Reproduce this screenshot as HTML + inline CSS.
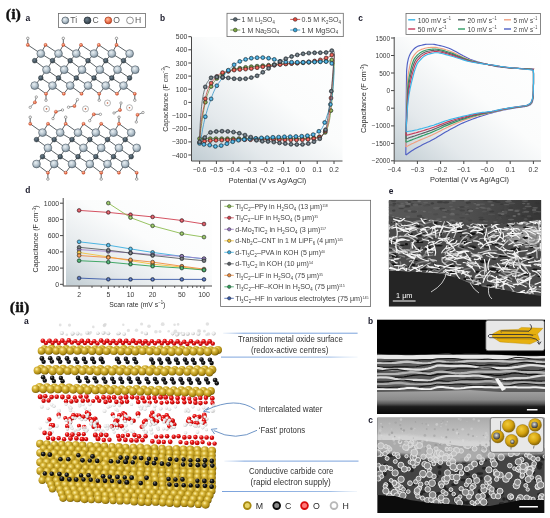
<!DOCTYPE html>
<html><head><meta charset="utf-8"><title>MXene figure</title>
<style>html,body{margin:0;padding:0;background:#fff;}svg{display:block;}</style></head>
<body><svg width="550" height="518" viewBox="0 0 550 518" font-family="'Liberation Sans',Arial,sans-serif">
<rect width="550" height="518" fill="#fff"/>

<defs>
<linearGradient id="pg" x1="1" y1="0" x2="0" y2="1">
 <stop offset="0" stop-color="#ffffff"/>
 <stop offset="0.45" stop-color="#fbfcfc"/>
 <stop offset="0.75" stop-color="#e4e9ec"/>
 <stop offset="1" stop-color="#c0ccd2"/>
</linearGradient>
<radialGradient id="gTi" cx="0.4" cy="0.35" r="0.65">
 <stop offset="0" stop-color="#eaf0f3"/><stop offset="0.55" stop-color="#b8c6d0"/><stop offset="1" stop-color="#7f909c"/>
</radialGradient>
<radialGradient id="gC" cx="0.4" cy="0.35" r="0.65">
 <stop offset="0" stop-color="#6f8290"/><stop offset="1" stop-color="#2e3b44"/>
</radialGradient>
<radialGradient id="gO" cx="0.4" cy="0.35" r="0.65">
 <stop offset="0" stop-color="#ffc0a0"/><stop offset="0.6" stop-color="#ee7752"/><stop offset="1" stop-color="#c94a2a"/>
</radialGradient>
<radialGradient id="gM" cx="0.38" cy="0.32" r="0.7">
 <stop offset="0" stop-color="#fff2a8"/><stop offset="0.35" stop-color="#d8b63a"/><stop offset="0.8" stop-color="#a8860f"/><stop offset="1" stop-color="#6e5608"/>
</radialGradient>
<radialGradient id="gK" cx="0.38" cy="0.32" r="0.7">
 <stop offset="0" stop-color="#8a8a8a"/><stop offset="0.4" stop-color="#1a1a1a"/><stop offset="1" stop-color="#000"/>
</radialGradient>
<radialGradient id="gR" cx="0.38" cy="0.32" r="0.7">
 <stop offset="0" stop-color="#ffb0b0"/><stop offset="0.35" stop-color="#f01818"/><stop offset="1" stop-color="#a00000"/>
</radialGradient>
<radialGradient id="gH" cx="0.38" cy="0.32" r="0.7">
 <stop offset="0" stop-color="#ffffff"/><stop offset="0.6" stop-color="#e2e2e2"/><stop offset="1" stop-color="#a8a8a8"/>
</radialGradient>
<linearGradient id="blueline" x1="0" y1="0" x2="1" y2="0">
 <stop offset="0" stop-color="#9fbde6" stop-opacity="0.2"/><stop offset="0.15" stop-color="#7aa2dc"/><stop offset="1" stop-color="#7aa2dc"/>
</linearGradient>
<linearGradient id="blueline2" x1="0" y1="0" x2="1" y2="0">
 <stop offset="0" stop-color="#7aa2dc"/><stop offset="0.8" stop-color="#9fbde6"/><stop offset="1" stop-color="#cfe0f4" stop-opacity="0.3"/>
</linearGradient>
</defs>
<defs>
<clipPath id="clipE"><rect x="388.7" y="200.1" width="152.6" height="106.6"/></clipPath>
<clipPath id="clipB"><rect x="377" y="319.4" width="168" height="94.6"/></clipPath>
<clipPath id="clipC"><rect x="377.2" y="417.5" width="167.4" height="95.5"/></clipPath>
<filter id="bl0" x="-0.05" y="-0.05" width="1.1" height="1.1"><feGaussianBlur stdDeviation="0.3"/></filter>
<filter id="bl1" x="-0.1" y="-0.1" width="1.2" height="1.2"><feGaussianBlur stdDeviation="0.5"/></filter>
<filter id="bl2" x="-0.2" y="-0.2" width="1.4" height="1.4"><feGaussianBlur stdDeviation="1.2"/></filter>
<filter id="bl3" x="-0.2" y="-0.2" width="1.4" height="1.4"><feGaussianBlur stdDeviation="2.5"/></filter>
<linearGradient id="eTop" x1="0" y1="0" x2="1" y2="0">
 <stop offset="0" stop-color="#585858"/><stop offset="0.5" stop-color="#505050"/><stop offset="1" stop-color="#353535"/>
</linearGradient>
<linearGradient id="bGrey" x1="0" y1="0" x2="0" y2="1">
 <stop offset="0" stop-color="#a8a8a8"/><stop offset="0.45" stop-color="#8a8a8a"/><stop offset="0.6" stop-color="#5a5a5a"/><stop offset="0.72" stop-color="#1c1c1c"/><stop offset="1" stop-color="#080808"/>
</linearGradient>
<linearGradient id="cTop" x1="0" y1="0" x2="0" y2="1">
 <stop offset="0" stop-color="#aaaaaa"/><stop offset="0.5" stop-color="#c0c0c0"/><stop offset="1" stop-color="#d4d4d4"/>
</linearGradient>
<radialGradient id="gAu" cx="0.4" cy="0.35" r="0.65">
 <stop offset="0" stop-color="#f2cc3c"/><stop offset="0.6" stop-color="#d4a20e"/><stop offset="1" stop-color="#8a6606"/>
</radialGradient>
<radialGradient id="gHole" cx="0.45" cy="0.4" r="0.6">
 <stop offset="0" stop-color="#e0e0e0"/><stop offset="0.5" stop-color="#8a8a8a"/><stop offset="1" stop-color="#303030"/>
</radialGradient>
</defs>
<text x="5.8" y="18.9" font-size="14.2" text-anchor="start" fill="#111" font-weight="bold" font-family="'Liberation Serif','Times New Roman',serif" textLength="15.2" lengthAdjust="spacingAndGlyphs" stroke="#111" stroke-width="0.35">(i)</text>
<text x="25.4" y="20.6" font-size="8.5" text-anchor="start" fill="#1a1a2a" font-weight="bold">a</text>
<rect x="58.5" y="13.5" width="87" height="14" fill="#fff" stroke="#6a6a6a" stroke-width="0.8"/>
<circle cx="65.3" cy="20.4" r="3.4" fill="url(#gTi)" stroke="#4a5660" stroke-width="0.7"/>
<text x="70.3" y="23.4" font-size="8.6" text-anchor="start" fill="#5a5a5a">Ti</text>
<circle cx="87.5" cy="20.4" r="3.4" fill="url(#gC)" stroke="#1e272e" stroke-width="0.7"/>
<text x="92.5" y="23.4" font-size="8.6" text-anchor="start" fill="#5a5a5a">C</text>
<circle cx="108.3" cy="20.4" r="3.4" fill="url(#gO)" stroke="#a83818" stroke-width="0.7"/>
<text x="113.3" y="23.4" font-size="8.6" text-anchor="start" fill="#5a5a5a">O</text>
<circle cx="130" cy="20.4" r="3.4" fill="#fff" stroke="#666" stroke-width="0.7"/>
<text x="135" y="23.4" font-size="8.6" text-anchor="start" fill="#5a5a5a">H</text>
<path d="M27.8 44.9L40.8 53.6M45.5 44.9L40.8 53.6M45.5 44.9L58.5 53.6M63.3 44.9L58.5 53.6M63.3 44.9L76.3 53.6M81 44.9L76.3 53.6M81 44.9L94 53.6M98.8 44.9L94 53.6M98.8 44.9L111.8 53.6M116.5 44.9L111.8 53.6M116.5 44.9L129.6 53.6M40.8 53.6L34.7 60.7M40.8 53.6L52.5 60.7M58.5 53.6L52.5 60.7M58.5 53.6L70.2 60.7M76.3 53.6L70.2 60.7M76.3 53.6L88 60.7M94 53.6L88 60.7M94 53.6L105.7 60.7M111.8 53.6L105.7 60.7M111.8 53.6L123.5 60.7M129.6 53.6L123.5 60.7M34.7 60.7L46.5 69.7M52.5 60.7L46.5 69.7M52.5 60.7L64.2 69.7M70.2 60.7L64.2 69.7M70.2 60.7L82 69.7M88 60.7L82 69.7M88 60.7L99.8 69.7M105.7 60.7L99.8 69.7M105.7 60.7L117.5 69.7M123.5 60.7L117.5 69.7M123.5 60.7L135.2 69.7M46.5 69.7L40.8 78M46.5 69.7L58.5 78M64.2 69.7L58.5 78M64.2 69.7L76.3 78M82 69.7L76.3 78M82 69.7L94 78M99.8 69.7L94 78M99.8 69.7L111.8 78M117.5 69.7L111.8 78M117.5 69.7L129.6 78M135.2 69.7L129.6 78M40.8 78L34.7 85.6M40.8 78L52.5 85.6M58.5 78L52.5 85.6M58.5 78L70.2 85.6M76.3 78L70.2 85.6M76.3 78L88 85.6M94 78L88 85.6M94 78L105.7 85.6M111.8 78L105.7 85.6M111.8 78L123.5 85.6M129.6 78L123.5 85.6M34.7 85.6L46 93.8M52.5 85.6L46 93.8M52.5 85.6L63.8 93.8M70.2 85.6L63.8 93.8M70.2 85.6L81.5 93.8M88 85.6L81.5 93.8M88 85.6L99.2 93.8M105.7 85.6L99.2 93.8M105.7 85.6L117 93.8M123.5 85.6L117 93.8M123.5 85.6L134.8 93.8M27.8 44.9L27.8 38.3M63.3 44.9L63.3 38.3M116.5 44.9L116.5 38.3M46 93.8L46 100.2M99.2 93.8L99.2 100.2M134.8 93.8L134.8 100.2" stroke="#40474c" stroke-width="0.85" fill="none"/>
<circle cx="27.8" cy="38.3" r="1.25" fill="#fff" stroke="#555" stroke-width="0.55"/>
<circle cx="63.3" cy="38.3" r="1.25" fill="#fff" stroke="#555" stroke-width="0.55"/>
<circle cx="116.5" cy="38.3" r="1.25" fill="#fff" stroke="#555" stroke-width="0.55"/>
<circle cx="46" cy="100.2" r="1.25" fill="#fff" stroke="#555" stroke-width="0.55"/>
<circle cx="99.2" cy="100.2" r="1.25" fill="#fff" stroke="#555" stroke-width="0.55"/>
<circle cx="134.8" cy="100.2" r="1.25" fill="#fff" stroke="#555" stroke-width="0.55"/>
<circle cx="27.8" cy="44.9" r="1.55" fill="url(#gO)" stroke="#b2452a" stroke-width="0.4"/>
<circle cx="45.5" cy="44.9" r="1.55" fill="url(#gO)" stroke="#b2452a" stroke-width="0.4"/>
<circle cx="63.3" cy="44.9" r="1.55" fill="url(#gO)" stroke="#b2452a" stroke-width="0.4"/>
<circle cx="81" cy="44.9" r="1.55" fill="url(#gO)" stroke="#b2452a" stroke-width="0.4"/>
<circle cx="98.8" cy="44.9" r="1.55" fill="url(#gO)" stroke="#b2452a" stroke-width="0.4"/>
<circle cx="116.5" cy="44.9" r="1.55" fill="url(#gO)" stroke="#b2452a" stroke-width="0.4"/>
<circle cx="40.8" cy="53.6" r="3.9" fill="url(#gTi)" stroke="#4a5660" stroke-width="0.6"/>
<circle cx="58.5" cy="53.6" r="3.9" fill="url(#gTi)" stroke="#4a5660" stroke-width="0.6"/>
<circle cx="76.3" cy="53.6" r="3.9" fill="url(#gTi)" stroke="#4a5660" stroke-width="0.6"/>
<circle cx="94" cy="53.6" r="3.9" fill="url(#gTi)" stroke="#4a5660" stroke-width="0.6"/>
<circle cx="111.8" cy="53.6" r="3.9" fill="url(#gTi)" stroke="#4a5660" stroke-width="0.6"/>
<circle cx="129.6" cy="53.6" r="3.9" fill="url(#gTi)" stroke="#4a5660" stroke-width="0.6"/>
<circle cx="34.7" cy="60.7" r="2.4" fill="url(#gC)" stroke="#1f282e" stroke-width="0.4"/>
<circle cx="52.5" cy="60.7" r="2.4" fill="url(#gC)" stroke="#1f282e" stroke-width="0.4"/>
<circle cx="70.2" cy="60.7" r="2.4" fill="url(#gC)" stroke="#1f282e" stroke-width="0.4"/>
<circle cx="88" cy="60.7" r="2.4" fill="url(#gC)" stroke="#1f282e" stroke-width="0.4"/>
<circle cx="105.7" cy="60.7" r="2.4" fill="url(#gC)" stroke="#1f282e" stroke-width="0.4"/>
<circle cx="123.5" cy="60.7" r="2.4" fill="url(#gC)" stroke="#1f282e" stroke-width="0.4"/>
<circle cx="46.5" cy="69.7" r="3.9" fill="url(#gTi)" stroke="#4a5660" stroke-width="0.6"/>
<circle cx="64.2" cy="69.7" r="3.9" fill="url(#gTi)" stroke="#4a5660" stroke-width="0.6"/>
<circle cx="82" cy="69.7" r="3.9" fill="url(#gTi)" stroke="#4a5660" stroke-width="0.6"/>
<circle cx="99.8" cy="69.7" r="3.9" fill="url(#gTi)" stroke="#4a5660" stroke-width="0.6"/>
<circle cx="117.5" cy="69.7" r="3.9" fill="url(#gTi)" stroke="#4a5660" stroke-width="0.6"/>
<circle cx="135.2" cy="69.7" r="3.9" fill="url(#gTi)" stroke="#4a5660" stroke-width="0.6"/>
<circle cx="40.8" cy="78" r="2.4" fill="url(#gC)" stroke="#1f282e" stroke-width="0.4"/>
<circle cx="58.5" cy="78" r="2.4" fill="url(#gC)" stroke="#1f282e" stroke-width="0.4"/>
<circle cx="76.3" cy="78" r="2.4" fill="url(#gC)" stroke="#1f282e" stroke-width="0.4"/>
<circle cx="94" cy="78" r="2.4" fill="url(#gC)" stroke="#1f282e" stroke-width="0.4"/>
<circle cx="111.8" cy="78" r="2.4" fill="url(#gC)" stroke="#1f282e" stroke-width="0.4"/>
<circle cx="129.6" cy="78" r="2.4" fill="url(#gC)" stroke="#1f282e" stroke-width="0.4"/>
<circle cx="34.7" cy="85.6" r="3.9" fill="url(#gTi)" stroke="#4a5660" stroke-width="0.6"/>
<circle cx="52.5" cy="85.6" r="3.9" fill="url(#gTi)" stroke="#4a5660" stroke-width="0.6"/>
<circle cx="70.2" cy="85.6" r="3.9" fill="url(#gTi)" stroke="#4a5660" stroke-width="0.6"/>
<circle cx="88" cy="85.6" r="3.9" fill="url(#gTi)" stroke="#4a5660" stroke-width="0.6"/>
<circle cx="105.7" cy="85.6" r="3.9" fill="url(#gTi)" stroke="#4a5660" stroke-width="0.6"/>
<circle cx="123.5" cy="85.6" r="3.9" fill="url(#gTi)" stroke="#4a5660" stroke-width="0.6"/>
<circle cx="46" cy="93.8" r="1.55" fill="url(#gO)" stroke="#b2452a" stroke-width="0.4"/>
<circle cx="63.8" cy="93.8" r="1.55" fill="url(#gO)" stroke="#b2452a" stroke-width="0.4"/>
<circle cx="81.5" cy="93.8" r="1.55" fill="url(#gO)" stroke="#b2452a" stroke-width="0.4"/>
<circle cx="99.2" cy="93.8" r="1.55" fill="url(#gO)" stroke="#b2452a" stroke-width="0.4"/>
<circle cx="117" cy="93.8" r="1.55" fill="url(#gO)" stroke="#b2452a" stroke-width="0.4"/>
<circle cx="134.8" cy="93.8" r="1.55" fill="url(#gO)" stroke="#b2452a" stroke-width="0.4"/>
<path d="M30.2 123.8L42.5 132.6M48 123.8L42.5 132.6M48 123.8L60.2 132.6M65.7 123.8L60.2 132.6M65.7 123.8L78 132.6M83.5 123.8L78 132.6M83.5 123.8L95.8 132.6M101.2 123.8L95.8 132.6M101.2 123.8L113.5 132.6M119 123.8L113.5 132.6M119 123.8L131.2 132.6M42.5 132.6L36.5 139.6M42.5 132.6L54.2 139.6M60.2 132.6L54.2 139.6M60.2 132.6L72 139.6M78 132.6L72 139.6M78 132.6L89.8 139.6M95.8 132.6L89.8 139.6M95.8 132.6L107.5 139.6M113.5 132.6L107.5 139.6M113.5 132.6L125.2 139.6M131.2 132.6L125.2 139.6M36.5 139.6L47.9 147.9M54.2 139.6L47.9 147.9M54.2 139.6L65.7 147.9M72 139.6L65.7 147.9M72 139.6L83.4 147.9M89.8 139.6L83.4 147.9M89.8 139.6L101.2 147.9M107.5 139.6L101.2 147.9M107.5 139.6L118.9 147.9M125.2 139.6L118.9 147.9M125.2 139.6L136.7 147.9M47.9 147.9L42.5 156.7M47.9 147.9L60.2 156.7M65.7 147.9L60.2 156.7M65.7 147.9L78 156.7M83.4 147.9L78 156.7M83.4 147.9L95.8 156.7M101.2 147.9L95.8 156.7M101.2 147.9L113.5 156.7M118.9 147.9L113.5 156.7M118.9 147.9L131.2 156.7M136.7 147.9L131.2 156.7M42.5 156.7L36.5 164M42.5 156.7L54.2 164M60.2 156.7L54.2 164M60.2 156.7L72 164M78 156.7L72 164M78 156.7L89.8 164M95.8 156.7L89.8 164M95.8 156.7L107.5 164M113.5 156.7L107.5 164M113.5 156.7L125.2 164M131.2 156.7L125.2 164M36.5 164L47.9 172.7M54.2 164L47.9 172.7M54.2 164L65.7 172.7M72 164L65.7 172.7M72 164L83.4 172.7M89.8 164L83.4 172.7M89.8 164L101.2 172.7M107.5 164L101.2 172.7M107.5 164L118.9 172.7M125.2 164L118.9 172.7M125.2 164L136.7 172.7M30.2 123.8L30.2 117.2M65.7 123.8L65.7 117.2M119 123.8L119 117.2M47.9 172.7L47.9 179.1M101.2 172.7L101.2 179.1M136.7 172.7L136.7 179.1" stroke="#40474c" stroke-width="0.85" fill="none"/>
<circle cx="30.2" cy="117.2" r="1.25" fill="#fff" stroke="#555" stroke-width="0.55"/>
<circle cx="65.7" cy="117.2" r="1.25" fill="#fff" stroke="#555" stroke-width="0.55"/>
<circle cx="119" cy="117.2" r="1.25" fill="#fff" stroke="#555" stroke-width="0.55"/>
<circle cx="47.9" cy="179.1" r="1.25" fill="#fff" stroke="#555" stroke-width="0.55"/>
<circle cx="101.2" cy="179.1" r="1.25" fill="#fff" stroke="#555" stroke-width="0.55"/>
<circle cx="136.7" cy="179.1" r="1.25" fill="#fff" stroke="#555" stroke-width="0.55"/>
<circle cx="30.2" cy="123.8" r="1.55" fill="url(#gO)" stroke="#b2452a" stroke-width="0.4"/>
<circle cx="48" cy="123.8" r="1.55" fill="url(#gO)" stroke="#b2452a" stroke-width="0.4"/>
<circle cx="65.7" cy="123.8" r="1.55" fill="url(#gO)" stroke="#b2452a" stroke-width="0.4"/>
<circle cx="83.5" cy="123.8" r="1.55" fill="url(#gO)" stroke="#b2452a" stroke-width="0.4"/>
<circle cx="101.2" cy="123.8" r="1.55" fill="url(#gO)" stroke="#b2452a" stroke-width="0.4"/>
<circle cx="119" cy="123.8" r="1.55" fill="url(#gO)" stroke="#b2452a" stroke-width="0.4"/>
<circle cx="42.5" cy="132.6" r="3.9" fill="url(#gTi)" stroke="#4a5660" stroke-width="0.6"/>
<circle cx="60.2" cy="132.6" r="3.9" fill="url(#gTi)" stroke="#4a5660" stroke-width="0.6"/>
<circle cx="78" cy="132.6" r="3.9" fill="url(#gTi)" stroke="#4a5660" stroke-width="0.6"/>
<circle cx="95.8" cy="132.6" r="3.9" fill="url(#gTi)" stroke="#4a5660" stroke-width="0.6"/>
<circle cx="113.5" cy="132.6" r="3.9" fill="url(#gTi)" stroke="#4a5660" stroke-width="0.6"/>
<circle cx="131.2" cy="132.6" r="3.9" fill="url(#gTi)" stroke="#4a5660" stroke-width="0.6"/>
<circle cx="36.5" cy="139.6" r="2.4" fill="url(#gC)" stroke="#1f282e" stroke-width="0.4"/>
<circle cx="54.2" cy="139.6" r="2.4" fill="url(#gC)" stroke="#1f282e" stroke-width="0.4"/>
<circle cx="72" cy="139.6" r="2.4" fill="url(#gC)" stroke="#1f282e" stroke-width="0.4"/>
<circle cx="89.8" cy="139.6" r="2.4" fill="url(#gC)" stroke="#1f282e" stroke-width="0.4"/>
<circle cx="107.5" cy="139.6" r="2.4" fill="url(#gC)" stroke="#1f282e" stroke-width="0.4"/>
<circle cx="125.2" cy="139.6" r="2.4" fill="url(#gC)" stroke="#1f282e" stroke-width="0.4"/>
<circle cx="47.9" cy="147.9" r="3.9" fill="url(#gTi)" stroke="#4a5660" stroke-width="0.6"/>
<circle cx="65.7" cy="147.9" r="3.9" fill="url(#gTi)" stroke="#4a5660" stroke-width="0.6"/>
<circle cx="83.4" cy="147.9" r="3.9" fill="url(#gTi)" stroke="#4a5660" stroke-width="0.6"/>
<circle cx="101.2" cy="147.9" r="3.9" fill="url(#gTi)" stroke="#4a5660" stroke-width="0.6"/>
<circle cx="118.9" cy="147.9" r="3.9" fill="url(#gTi)" stroke="#4a5660" stroke-width="0.6"/>
<circle cx="136.7" cy="147.9" r="3.9" fill="url(#gTi)" stroke="#4a5660" stroke-width="0.6"/>
<circle cx="42.5" cy="156.7" r="2.4" fill="url(#gC)" stroke="#1f282e" stroke-width="0.4"/>
<circle cx="60.2" cy="156.7" r="2.4" fill="url(#gC)" stroke="#1f282e" stroke-width="0.4"/>
<circle cx="78" cy="156.7" r="2.4" fill="url(#gC)" stroke="#1f282e" stroke-width="0.4"/>
<circle cx="95.8" cy="156.7" r="2.4" fill="url(#gC)" stroke="#1f282e" stroke-width="0.4"/>
<circle cx="113.5" cy="156.7" r="2.4" fill="url(#gC)" stroke="#1f282e" stroke-width="0.4"/>
<circle cx="131.2" cy="156.7" r="2.4" fill="url(#gC)" stroke="#1f282e" stroke-width="0.4"/>
<circle cx="36.5" cy="164" r="3.9" fill="url(#gTi)" stroke="#4a5660" stroke-width="0.6"/>
<circle cx="54.2" cy="164" r="3.9" fill="url(#gTi)" stroke="#4a5660" stroke-width="0.6"/>
<circle cx="72" cy="164" r="3.9" fill="url(#gTi)" stroke="#4a5660" stroke-width="0.6"/>
<circle cx="89.8" cy="164" r="3.9" fill="url(#gTi)" stroke="#4a5660" stroke-width="0.6"/>
<circle cx="107.5" cy="164" r="3.9" fill="url(#gTi)" stroke="#4a5660" stroke-width="0.6"/>
<circle cx="125.2" cy="164" r="3.9" fill="url(#gTi)" stroke="#4a5660" stroke-width="0.6"/>
<circle cx="47.9" cy="172.7" r="1.55" fill="url(#gO)" stroke="#b2452a" stroke-width="0.4"/>
<circle cx="65.7" cy="172.7" r="1.55" fill="url(#gO)" stroke="#b2452a" stroke-width="0.4"/>
<circle cx="83.4" cy="172.7" r="1.55" fill="url(#gO)" stroke="#b2452a" stroke-width="0.4"/>
<circle cx="101.2" cy="172.7" r="1.55" fill="url(#gO)" stroke="#b2452a" stroke-width="0.4"/>
<circle cx="118.9" cy="172.7" r="1.55" fill="url(#gO)" stroke="#b2452a" stroke-width="0.4"/>
<circle cx="136.7" cy="172.7" r="1.55" fill="url(#gO)" stroke="#b2452a" stroke-width="0.4"/>
<path d="M30.2 107.3L34.9 102.3M34.9 102.3L36.3 97" stroke="#4c5358" stroke-width="0.7"/>
<circle cx="30.2" cy="107.3" r="1.2" fill="#fff" stroke="#555" stroke-width="0.5"/>
<circle cx="36.3" cy="97" r="1.2" fill="#fff" stroke="#555" stroke-width="0.5"/>
<circle cx="34.9" cy="102.3" r="1.55" fill="url(#gO)" stroke="#b2452a" stroke-width="0.4"/>
<path d="M53 118.6L55.9 111.7M55.9 111.7L62.5 110" stroke="#4c5358" stroke-width="0.7"/>
<circle cx="53" cy="118.6" r="1.2" fill="#fff" stroke="#555" stroke-width="0.5"/>
<circle cx="62.5" cy="110" r="1.2" fill="#fff" stroke="#555" stroke-width="0.5"/>
<circle cx="55.9" cy="111.7" r="1.55" fill="url(#gO)" stroke="#b2452a" stroke-width="0.4"/>
<path d="M68.5 107.2L74.4 106M74.4 106L77.4 99.6" stroke="#4c5358" stroke-width="0.7"/>
<circle cx="68.5" cy="107.2" r="1.2" fill="#fff" stroke="#555" stroke-width="0.5"/>
<circle cx="77.4" cy="99.6" r="1.2" fill="#fff" stroke="#555" stroke-width="0.5"/>
<circle cx="74.4" cy="106" r="1.55" fill="url(#gO)" stroke="#b2452a" stroke-width="0.4"/>
<path d="M89.7 120.7L93.8 114.3M93.8 114.3L100.4 114.3" stroke="#4c5358" stroke-width="0.7"/>
<circle cx="89.7" cy="120.7" r="1.2" fill="#fff" stroke="#555" stroke-width="0.5"/>
<circle cx="100.4" cy="114.3" r="1.2" fill="#fff" stroke="#555" stroke-width="0.5"/>
<circle cx="93.8" cy="114.3" r="1.55" fill="url(#gO)" stroke="#b2452a" stroke-width="0.4"/>
<path d="M114 113L120 110M120 110L121 103" stroke="#4c5358" stroke-width="0.7"/>
<circle cx="114" cy="113" r="1.2" fill="#fff" stroke="#555" stroke-width="0.5"/>
<circle cx="121" cy="103" r="1.2" fill="#fff" stroke="#555" stroke-width="0.5"/>
<circle cx="120" cy="110" r="1.55" fill="url(#gO)" stroke="#b2452a" stroke-width="0.4"/>
<path d="M143 112.5L137.5 114.8M137.5 114.8L136.3 122" stroke="#4c5358" stroke-width="0.7"/>
<circle cx="143" cy="112.5" r="1.2" fill="#fff" stroke="#555" stroke-width="0.5"/>
<circle cx="136.3" cy="122" r="1.2" fill="#fff" stroke="#555" stroke-width="0.5"/>
<circle cx="137.5" cy="114.8" r="1.55" fill="url(#gO)" stroke="#b2452a" stroke-width="0.4"/>
<circle cx="46.5" cy="108.9" r="3.0" fill="#fff" stroke="#888" stroke-width="0.6"/>
<circle cx="46.5" cy="108.9" r="0.8" fill="#c06040"/>
<circle cx="85.5" cy="108.9" r="3.0" fill="#fff" stroke="#888" stroke-width="0.6"/>
<circle cx="85.5" cy="108.9" r="0.8" fill="#c06040"/>
<circle cx="107.5" cy="103" r="3.0" fill="#fff" stroke="#888" stroke-width="0.6"/>
<circle cx="107.5" cy="103" r="0.8" fill="#c06040"/>
<circle cx="129.5" cy="107.7" r="3.0" fill="#fff" stroke="#888" stroke-width="0.6"/>
<circle cx="129.5" cy="107.7" r="0.8" fill="#c06040"/>
<text x="160" y="20.9" font-size="8.4" text-anchor="start" fill="#1a1a2a" font-weight="bold">b</text>
<rect x="192" y="37" width="150.5" height="123.6" fill="url(#pg)"/>
<path d="M191.5 37L191.5 161M188.3 155L191.5 155M188.3 141.9L191.5 141.9M188.3 128.7L191.5 128.7M188.3 115.6L191.5 115.6M188.3 102.4L191.5 102.4M188.3 89.2L191.5 89.2M188.3 76.1L191.5 76.1M188.3 63L191.5 63M188.3 49.8L191.5 49.8M188.3 36.7L191.5 36.7" stroke="#484848" stroke-width="1.0" fill="none"/>
<text x="187.3" y="157.5" font-size="6.9" text-anchor="end" fill="#383838">−400</text>
<text x="187.3" y="144.4" font-size="6.9" text-anchor="end" fill="#383838">−300</text>
<text x="187.3" y="131.2" font-size="6.9" text-anchor="end" fill="#383838">−200</text>
<text x="187.3" y="118.1" font-size="6.9" text-anchor="end" fill="#383838">−100</text>
<text x="187.3" y="104.9" font-size="6.9" text-anchor="end" fill="#383838">0</text>
<text x="187.3" y="91.8" font-size="6.9" text-anchor="end" fill="#383838">100</text>
<text x="187.3" y="78.6" font-size="6.9" text-anchor="end" fill="#383838">200</text>
<text x="187.3" y="65.5" font-size="6.9" text-anchor="end" fill="#383838">300</text>
<text x="187.3" y="52.3" font-size="6.9" text-anchor="end" fill="#383838">400</text>
<text x="187.3" y="39.2" font-size="6.9" text-anchor="end" fill="#383838">500</text>
<path d="M191.5 161L342.5 161M199.6 161L199.6 164M216.4 161L216.4 164M233.2 161L233.2 164M250 161L250 164M266.8 161L266.8 164M283.6 161L283.6 164M300.4 161L300.4 164M317.2 161L317.2 164M334 161L334 164" stroke="#484848" stroke-width="1.0" fill="none"/>
<text x="199.6" y="172" font-size="6.9" text-anchor="middle" fill="#383838">−0.6</text>
<text x="216.4" y="172" font-size="6.9" text-anchor="middle" fill="#383838">−0.5</text>
<text x="233.2" y="172" font-size="6.9" text-anchor="middle" fill="#383838">−0.4</text>
<text x="250" y="172" font-size="6.9" text-anchor="middle" fill="#383838">−0.3</text>
<text x="266.8" y="172" font-size="6.9" text-anchor="middle" fill="#383838">−0.2</text>
<text x="283.6" y="172" font-size="6.9" text-anchor="middle" fill="#383838">−0.1</text>
<text x="300.4" y="172" font-size="6.9" text-anchor="middle" fill="#383838">0.0</text>
<text x="317.2" y="172" font-size="6.9" text-anchor="middle" fill="#383838">0.1</text>
<text x="334" y="172" font-size="6.9" text-anchor="middle" fill="#383838">0.2</text>
<text x="167.6" y="98.8" font-size="7.6" text-anchor="middle" fill="#2e2e2e" textLength="65.8" lengthAdjust="spacingAndGlyphs" transform="rotate(-90 167.6 98.8)">Capacitance (F cm<tspan font-size="4.5" dy="-2.6">−3</tspan><tspan dy="2.6">)</tspan></text>
<text x="267.5" y="182.6" font-size="7.3" text-anchor="middle" fill="#2e2e2e" textLength="77.5" lengthAdjust="spacingAndGlyphs">Potential (V vs Ag/AgCl)</text>
<path d="M199.6 138.6L199.7 137.5L199.9 136L200.2 134.3L200.4 132.4L200.7 130.5L200.9 128.7L201.2 127L201.4 125.2L201.7 123.4L201.9 121.6L202.2 119.9L202.5 118.2L202.7 116.6L202.9 115.1L203.2 113.6L203.4 112.1L203.7 110.6L204 109L204.3 107.3L204.6 105.5L205 103.7L205.4 101.9L205.9 100.2L206.3 98.5L206.8 96.8L207.3 95.2L207.9 93.6L208.5 92L209.1 90.4L209.8 88.9L210.7 87.3L211.6 85.7L212.6 84.1L213.6 82.6L214.6 81.2L215.6 79.9L216.5 78.8L217.3 77.8L218.1 77L219 76.2L220.1 75.4L221.4 74.5L223 73.6L224.7 72.7L226.6 71.9L228.7 71L230.9 70.2L233.2 69.5L235.7 68.9L238.4 68.4L241.3 68L244.2 67.6L247.1 67.2L250 66.9L252.8 66.6L255.6 66.3L258.4 66L261.2 65.8L264 65.6L266.8 65.3L269.6 65.1L272.4 64.8L275.2 64.6L278 64.3L280.8 64.1L283.6 63.9L286.4 63.7L289.2 63.5L292 63.4L294.8 63.3L297.6 63.1L300.4 63L303.3 62.7L306.2 62.5L309.1 62.3L312 62L314.7 61.8L317.2 61.6L319.5 61.5L321.7 61.4L323.8 61.3L325.7 61.2L327.4 61.1L329 61L330.3 60.7L331.3 60.1L332.2 59.6L333 59.3L333.6 59.5L334 60.3L334.2 62L334.3 64.2L334.1 66.9L333.9 69.9L333.7 73.1L333.5 76.1L333.3 79.2L333.2 82.5L333 85.9L332.8 89.3L332.6 92.6L332.3 95.8L332.1 98.9L331.8 101.9L331.6 104.8L331.3 107.6L331 110.3L330.6 112.9L330.3 115.4L329.9 117.8L329.5 120.1L329.1 122.2L328.6 124.2L328.1 126.1L327.5 127.7L326.9 129.3L326.3 130.6L325.6 131.9L324.8 133L323.9 134L323.1 134.8L322.2 135.5L321.3 136L320.3 136.5L318.9 136.9L317.2 137.2L315.4 137.6L313.6 137.9L311.5 138.1L308.9 138.3L305.3 138.4L300.4 138.6L293.7 138.6L285.5 138.7L276.2 138.6L266.8 138.6L257.8 138.6L250 138.6L243.2 138.6L236.9 138.6L231.1 138.6L225.7 138.7L220.8 138.7L216.4 138.7L212.4 138.7L208.9 138.7L205.9 138.6L203.3 138.6L201.2 138.6L199.6 138.6" stroke="#5d8a2a" stroke-width="0.7" fill="none"/>
<g fill="#7aa63c" stroke="#262b2f" stroke-width="0.65"><circle cx="199.6" cy="138.6" r="1.95"/><circle cx="205.3" cy="102.2" r="1.95"/><circle cx="211.1" cy="86.5" r="1.95"/><circle cx="216.8" cy="78.4" r="1.95"/><circle cx="222.6" cy="73.9" r="1.95"/><circle cx="228.3" cy="71.1" r="1.95"/><circle cx="234.1" cy="69.3" r="1.95"/><circle cx="239.8" cy="68.2" r="1.95"/><circle cx="245.6" cy="67.4" r="1.95"/><circle cx="251.3" cy="66.7" r="1.95"/><circle cx="257.1" cy="66.2" r="1.95"/><circle cx="262.8" cy="65.7" r="1.95"/><circle cx="268.6" cy="65.2" r="1.95"/><circle cx="274.3" cy="64.6" r="1.95"/><circle cx="280.1" cy="64.1" r="1.95"/><circle cx="285.8" cy="63.7" r="1.95"/><circle cx="291.6" cy="63.4" r="1.95"/><circle cx="297.3" cy="63.1" r="1.95"/><circle cx="303.1" cy="62.8" r="1.95"/><circle cx="308.8" cy="62.3" r="1.95"/><circle cx="314.6" cy="61.8" r="1.95"/><circle cx="320.3" cy="61.4" r="1.95"/><circle cx="326.1" cy="61.2" r="1.95"/><circle cx="331.8" cy="59.9" r="1.95"/><circle cx="330.9" cy="110.6" r="1.95"/><circle cx="325.2" cy="132.4" r="1.95"/><circle cx="319.4" cy="136.7" r="1.95"/><circle cx="313.7" cy="137.9" r="1.95"/><circle cx="307.9" cy="138.3" r="1.95"/><circle cx="302.2" cy="138.5" r="1.95"/><circle cx="296.4" cy="138.6" r="1.95"/><circle cx="290.7" cy="138.6" r="1.95"/><circle cx="284.9" cy="138.7" r="1.95"/><circle cx="279.2" cy="138.6" r="1.95"/><circle cx="273.4" cy="138.6" r="1.95"/><circle cx="267.7" cy="138.6" r="1.95"/><circle cx="261.9" cy="138.6" r="1.95"/><circle cx="256.2" cy="138.6" r="1.95"/><circle cx="250.4" cy="138.6" r="1.95"/><circle cx="244.7" cy="138.6" r="1.95"/><circle cx="238.9" cy="138.6" r="1.95"/><circle cx="233.2" cy="138.6" r="1.95"/><circle cx="227.4" cy="138.7" r="1.95"/><circle cx="221.7" cy="138.7" r="1.95"/><circle cx="215.9" cy="138.7" r="1.95"/><circle cx="210.2" cy="138.7" r="1.95"/><circle cx="204.4" cy="138.6" r="1.95"/></g>
<g fill="#fff" opacity="0.35"><circle cx="199.6" cy="138.6" r="0.8"/><circle cx="205.3" cy="102.2" r="0.8"/><circle cx="211.1" cy="86.5" r="0.8"/><circle cx="216.8" cy="78.4" r="0.8"/><circle cx="222.6" cy="73.9" r="0.8"/><circle cx="228.3" cy="71.1" r="0.8"/><circle cx="234.1" cy="69.3" r="0.8"/><circle cx="239.8" cy="68.2" r="0.8"/><circle cx="245.6" cy="67.4" r="0.8"/><circle cx="251.3" cy="66.7" r="0.8"/><circle cx="257.1" cy="66.2" r="0.8"/><circle cx="262.8" cy="65.7" r="0.8"/><circle cx="268.6" cy="65.2" r="0.8"/><circle cx="274.3" cy="64.6" r="0.8"/><circle cx="280.1" cy="64.1" r="0.8"/><circle cx="285.8" cy="63.7" r="0.8"/><circle cx="291.6" cy="63.4" r="0.8"/><circle cx="297.3" cy="63.1" r="0.8"/><circle cx="303.1" cy="62.8" r="0.8"/><circle cx="308.8" cy="62.3" r="0.8"/><circle cx="314.6" cy="61.8" r="0.8"/><circle cx="320.3" cy="61.4" r="0.8"/><circle cx="326.1" cy="61.2" r="0.8"/><circle cx="331.8" cy="59.9" r="0.8"/><circle cx="330.9" cy="110.6" r="0.8"/><circle cx="325.2" cy="132.4" r="0.8"/><circle cx="319.4" cy="136.7" r="0.8"/><circle cx="313.7" cy="137.9" r="0.8"/><circle cx="307.9" cy="138.3" r="0.8"/><circle cx="302.2" cy="138.5" r="0.8"/><circle cx="296.4" cy="138.6" r="0.8"/><circle cx="290.7" cy="138.6" r="0.8"/><circle cx="284.9" cy="138.7" r="0.8"/><circle cx="279.2" cy="138.6" r="0.8"/><circle cx="273.4" cy="138.6" r="0.8"/><circle cx="267.7" cy="138.6" r="0.8"/><circle cx="261.9" cy="138.6" r="0.8"/><circle cx="256.2" cy="138.6" r="0.8"/><circle cx="250.4" cy="138.6" r="0.8"/><circle cx="244.7" cy="138.6" r="0.8"/><circle cx="238.9" cy="138.6" r="0.8"/><circle cx="233.2" cy="138.6" r="0.8"/><circle cx="227.4" cy="138.7" r="0.8"/><circle cx="221.7" cy="138.7" r="0.8"/><circle cx="215.9" cy="138.7" r="0.8"/><circle cx="210.2" cy="138.7" r="0.8"/><circle cx="204.4" cy="138.6" r="0.8"/></g>
<path d="M199.6 142.5L199.7 141L199.8 138.9L199.9 136.4L200.1 133.8L200.2 131.1L200.4 128.7L200.7 126.4L200.9 124.1L201.2 121.8L201.5 119.6L201.8 117.5L202.1 115.6L202.4 113.8L202.7 112.3L203 110.9L203.3 109.5L203.6 108L204 106.3L204.3 104.5L204.7 102.5L205 100.4L205.4 98.4L205.9 96.4L206.3 94.5L206.8 92.8L207.3 91.1L207.9 89.5L208.5 87.9L209.1 86.5L209.8 85L210.7 83.7L211.6 82.4L212.6 81.1L213.6 79.9L214.6 78.8L215.6 77.8L216.4 76.9L217.2 76.1L218 75.3L218.8 74.6L219.6 74L220.4 73.5L221.4 73L222.4 72.6L223.4 72.4L224.4 72.1L225.5 71.9L226.5 71.6L227.5 71.4L228.4 71.2L229.4 71L230.3 70.8L231.3 70.6L232.2 70.4L233 70.3L233.8 70.2L234.6 70L235.4 69.9L236.4 69.8L237.7 69.7L239.3 69.5L241.2 69.4L243.2 69.3L245.3 69.2L247.6 69L250 68.7L252.5 68.4L255.3 68L258.1 67.6L261 67.1L263.9 66.6L266.8 66.2L269.6 65.9L272.4 65.5L275.2 65.2L278 64.9L280.8 64.6L283.6 64.3L286.4 64L289.2 63.7L291.9 63.5L294.7 63.2L297.6 63L300.4 62.7L303.4 62.4L306.5 62L309.6 61.7L312.6 61.3L315.5 60.9L318 60.5L320.3 59.9L322.4 59.3L324.3 58.7L326 58.1L327.6 57.5L329 56.9L330.2 56.2L331.3 55.4L332.2 54.7L332.9 54.1L333.5 53.8L334 54L334.3 54.7L334.3 55.7L334.2 57.1L334 58.7L333.8 60.7L333.7 63L333.5 65.6L333.3 68.7L333.1 72.1L332.8 75.7L332.6 79.3L332.3 82.7L332.1 86L331.8 89.4L331.5 92.8L331.2 96.1L330.9 99.3L330.6 102.4L330.4 105.3L330.1 108.1L329.9 110.9L329.6 113.5L329.3 115.9L329 118.2L328.6 120.3L328.2 122.2L327.9 124L327.4 125.7L327 127.2L326.4 128.7L325.8 130.1L325.2 131.3L324.5 132.5L323.8 133.5L323 134.5L322.2 135.3L321.6 135.9L321.1 136.5L320.5 136.9L319.8 137.2L318.7 137.6L317.2 137.9L315.3 138.3L313.1 138.7L310.6 139.1L307.7 139.4L304.3 139.7L300.4 139.9L295.8 140L290.4 139.9L284.6 139.9L278.6 139.7L272.6 139.7L266.8 139.6L261 139.6L255 139.7L248.9 139.7L243.2 139.8L237.8 139.8L233.2 139.9L229.4 139.9L226.2 140L223.4 140L221 140.1L218.7 140.2L216.4 140.3L214.1 140.4L211.9 140.5L209.8 140.7L207.9 140.8L206.2 141L204.6 141.2L203.4 141.4L202.3 141.7L201.4 141.9L200.7 142.2L200.1 142.4L199.6 142.5" stroke="#c0302a" stroke-width="0.7" fill="none"/>
<g fill="#e2463a" stroke="#262b2f" stroke-width="0.65"><circle cx="199.6" cy="142.5" r="1.95"/><circle cx="205.3" cy="98.8" r="1.95"/><circle cx="211.1" cy="83.1" r="1.95"/><circle cx="216.8" cy="76.4" r="1.95"/><circle cx="222.6" cy="72.6" r="1.95"/><circle cx="228.3" cy="71.2" r="1.95"/><circle cx="234.1" cy="70.1" r="1.95"/><circle cx="239.8" cy="69.5" r="1.95"/><circle cx="245.6" cy="69.1" r="1.95"/><circle cx="251.3" cy="68.6" r="1.95"/><circle cx="257.1" cy="67.7" r="1.95"/><circle cx="262.8" cy="66.8" r="1.95"/><circle cx="268.6" cy="66" r="1.95"/><circle cx="274.3" cy="65.3" r="1.95"/><circle cx="280.1" cy="64.6" r="1.95"/><circle cx="285.8" cy="64" r="1.95"/><circle cx="291.6" cy="63.5" r="1.95"/><circle cx="297.3" cy="63" r="1.95"/><circle cx="303.1" cy="62.4" r="1.95"/><circle cx="308.8" cy="61.8" r="1.95"/><circle cx="314.6" cy="61" r="1.95"/><circle cx="320.3" cy="59.9" r="1.95"/><circle cx="326.1" cy="58" r="1.95"/><circle cx="331.8" cy="55" r="1.95"/><circle cx="331" cy="98" r="1.95"/><circle cx="325.3" cy="131.1" r="1.95"/><circle cx="319.5" cy="137.3" r="1.95"/><circle cx="313.8" cy="138.6" r="1.95"/><circle cx="308" cy="139.4" r="1.95"/><circle cx="302.3" cy="139.8" r="1.95"/><circle cx="296.5" cy="139.9" r="1.95"/><circle cx="290.8" cy="139.9" r="1.95"/><circle cx="285" cy="139.9" r="1.95"/><circle cx="279.3" cy="139.8" r="1.95"/><circle cx="273.5" cy="139.7" r="1.95"/><circle cx="267.8" cy="139.6" r="1.95"/><circle cx="262" cy="139.6" r="1.95"/><circle cx="256.3" cy="139.7" r="1.95"/><circle cx="250.5" cy="139.7" r="1.95"/><circle cx="244.8" cy="139.7" r="1.95"/><circle cx="239" cy="139.8" r="1.95"/><circle cx="233.3" cy="139.9" r="1.95"/><circle cx="227.5" cy="140" r="1.95"/><circle cx="221.8" cy="140.1" r="1.95"/><circle cx="216" cy="140.3" r="1.95"/><circle cx="210.3" cy="140.6" r="1.95"/><circle cx="204.5" cy="141.2" r="1.95"/></g>
<g fill="#fff" opacity="0.35"><circle cx="199.6" cy="142.5" r="0.8"/><circle cx="205.3" cy="98.8" r="0.8"/><circle cx="211.1" cy="83.1" r="0.8"/><circle cx="216.8" cy="76.4" r="0.8"/><circle cx="222.6" cy="72.6" r="0.8"/><circle cx="228.3" cy="71.2" r="0.8"/><circle cx="234.1" cy="70.1" r="0.8"/><circle cx="239.8" cy="69.5" r="0.8"/><circle cx="245.6" cy="69.1" r="0.8"/><circle cx="251.3" cy="68.6" r="0.8"/><circle cx="257.1" cy="67.7" r="0.8"/><circle cx="262.8" cy="66.8" r="0.8"/><circle cx="268.6" cy="66" r="0.8"/><circle cx="274.3" cy="65.3" r="0.8"/><circle cx="280.1" cy="64.6" r="0.8"/><circle cx="285.8" cy="64" r="0.8"/><circle cx="291.6" cy="63.5" r="0.8"/><circle cx="297.3" cy="63" r="0.8"/><circle cx="303.1" cy="62.4" r="0.8"/><circle cx="308.8" cy="61.8" r="0.8"/><circle cx="314.6" cy="61" r="0.8"/><circle cx="320.3" cy="59.9" r="0.8"/><circle cx="326.1" cy="58" r="0.8"/><circle cx="331.8" cy="55" r="0.8"/><circle cx="331" cy="98" r="0.8"/><circle cx="325.3" cy="131.1" r="0.8"/><circle cx="319.5" cy="137.3" r="0.8"/><circle cx="313.8" cy="138.6" r="0.8"/><circle cx="308" cy="139.4" r="0.8"/><circle cx="302.3" cy="139.8" r="0.8"/><circle cx="296.5" cy="139.9" r="0.8"/><circle cx="290.8" cy="139.9" r="0.8"/><circle cx="285" cy="139.9" r="0.8"/><circle cx="279.3" cy="139.8" r="0.8"/><circle cx="273.5" cy="139.7" r="0.8"/><circle cx="267.8" cy="139.6" r="0.8"/><circle cx="262" cy="139.6" r="0.8"/><circle cx="256.3" cy="139.7" r="0.8"/><circle cx="250.5" cy="139.7" r="0.8"/><circle cx="244.8" cy="139.7" r="0.8"/><circle cx="239" cy="139.8" r="0.8"/><circle cx="233.3" cy="139.9" r="0.8"/><circle cx="227.5" cy="140" r="0.8"/><circle cx="221.8" cy="140.1" r="0.8"/><circle cx="216" cy="140.3" r="0.8"/><circle cx="210.3" cy="140.6" r="0.8"/><circle cx="204.5" cy="141.2" r="0.8"/></g>
<path d="M199.6 143.4L199.8 142.8L200 141.9L200.3 140.9L200.6 139.7L200.9 138.2L201.3 136.6L201.7 134.6L202.1 132.3L202.5 129.7L203 127.1L203.5 124.6L204 122.3L204.5 120.1L205 117.9L205.6 115.9L206.1 113.9L206.7 112L207.2 110.3L207.6 108.8L208 107.6L208.4 106.4L208.8 105.3L209.3 104L209.8 102.4L210.6 100.4L211.4 98.2L212.2 95.7L213.1 93.3L214.1 91L215.1 88.9L216.1 87L217.1 85.3L218.3 83.6L219.4 82.1L220.4 80.7L221.4 79.3L222.4 77.9L223.2 76.7L224 75.6L224.8 74.5L225.6 73.5L226.5 72.4L227.4 71.4L228.2 70.3L229.1 69.4L230 68.4L230.9 67.5L231.9 66.6L232.8 65.8L233.7 65.1L234.7 64.4L235.6 63.7L236.6 63.1L237.6 62.6L238.5 62L239.5 61.6L240.5 61.1L241.5 60.8L242.5 60.4L243.4 60.1L244.4 59.7L245.3 59.5L246.1 59.2L247 59L247.9 58.8L248.8 58.6L249.8 58.5L250.7 58.3L251.6 58.2L252.6 58.1L253.6 58L254.5 58L255.5 57.9L256.6 57.8L257.6 57.7L258.7 57.6L259.7 57.6L260.8 57.6L261.8 57.6L262.8 57.6L263.8 57.7L264.8 57.8L265.8 57.8L266.8 58L267.8 58.1L268.7 58.2L269.6 58.3L270.5 58.5L271.4 58.7L272.3 58.9L273.3 59.1L274.2 59.4L275.1 59.6L276.1 59.9L277 60.2L277.9 60.5L278.6 60.7L279.2 60.9L279.8 61.2L280.5 61.4L281.5 61.6L283.1 61.8L285.3 61.9L288 62L291 62.1L294.2 62.2L297.4 62.3L300.4 62.3L303.3 62.3L306.2 62.2L309.1 62.1L312 62L314.7 62L317.2 61.9L319.5 61.8L321.8 61.7L323.9 61.7L325.8 61.6L327.5 61.6L329 61.8L330 62L330.8 62.3L331.3 62.6L331.6 63.1L332 63.6L332.3 64.3L332.7 65L333.1 65.7L333.4 66.5L333.7 67.5L333.9 68.8L334 70.4L334 72.6L333.9 75.2L333.8 78.1L333.6 81.1L333.4 84L333.2 86.6L332.9 89L332.7 91.2L332.5 93.4L332.2 95.5L331.9 97.6L331.5 99.8L331 101.9L330.5 104.1L330 106.2L329.3 108.4L328.7 110.6L328 112.9L327.1 115.4L326.3 118.1L325.3 120.8L324.3 123.4L323.4 125.7L322.4 127.6L321.5 129.1L320.5 130.1L319.5 130.9L318.6 131.5L317.6 132.1L316.7 132.6L315.9 133.2L315.2 133.7L314.5 134.1L313.8 134.4L312.8 134.7L311.7 135L310.2 135.3L308.6 135.6L306.8 135.8L304.8 136L302.7 136.2L300.4 136.3L298 136.5L295.4 136.5L292.7 136.6L289.8 136.7L286.8 136.7L283.6 136.9L280 137L275.8 137.2L271.5 137.4L267.4 137.6L263.8 137.8L260.9 137.9L259 138L257.9 138.1L257.2 138.2L256.7 138.3L256.2 138.3L255.5 138.4L254.6 138.5L253.7 138.6L252.8 138.7L251.9 138.8L251 138.9L250 139L249 139L248 139.1L247 139.2L245.9 139.3L244.9 139.4L244 139.5L243 139.6L242.1 139.7L241.2 139.8L240.3 139.9L239.5 140L238.6 140.1L237.7 140.3L236.8 140.5L235.9 140.8L235 141L234.1 141.3L233.2 141.6L232.3 141.9L231.4 142.2L230.4 142.5L229.5 142.8L228.6 143.1L227.7 143.4L226.8 143.7L225.9 144.1L225 144.4L224.1 144.7L223.2 145L222.3 145.3L221.3 145.5L220.4 145.8L219.4 146L218.4 146.3L217.4 146.4L216.4 146.5L215.4 146.4L214.4 146.2L213.5 146L212.5 145.7L211.5 145.5L210.5 145.3L209.5 145.1L208.5 145L207.5 144.9L206.5 144.7L205.6 144.6L204.6 144.5L203.7 144.3L202.7 144.1L201.8 143.9L200.9 143.7L200.1 143.5L199.6 143.4" stroke="#1c88c0" stroke-width="0.7" fill="none"/>
<g fill="#34a4da" stroke="#262b2f" stroke-width="0.65"><circle cx="199.6" cy="143.4" r="1.95"/><circle cx="205.3" cy="116.7" r="1.95"/><circle cx="211.1" cy="98.9" r="1.95"/><circle cx="216.8" cy="85.7" r="1.95"/><circle cx="222.6" cy="77.6" r="1.95"/><circle cx="228.3" cy="70.2" r="1.95"/><circle cx="234.1" cy="64.8" r="1.95"/><circle cx="239.8" cy="61.4" r="1.95"/><circle cx="245.6" cy="59.4" r="1.95"/><circle cx="251.3" cy="58.2" r="1.95"/><circle cx="257.1" cy="57.7" r="1.95"/><circle cx="262.8" cy="57.6" r="1.95"/><circle cx="268.6" cy="58.2" r="1.95"/><circle cx="274.3" cy="59.4" r="1.95"/><circle cx="280.1" cy="61.3" r="1.95"/><circle cx="285.8" cy="61.9" r="1.95"/><circle cx="291.6" cy="62.2" r="1.95"/><circle cx="297.3" cy="62.3" r="1.95"/><circle cx="303.1" cy="62.3" r="1.95"/><circle cx="308.8" cy="62.1" r="1.95"/><circle cx="314.6" cy="62" r="1.95"/><circle cx="320.3" cy="61.8" r="1.95"/><circle cx="326.1" cy="61.6" r="1.95"/><circle cx="331.8" cy="63.4" r="1.95"/><circle cx="330.4" cy="104.4" r="1.95"/><circle cx="324.7" cy="122.5" r="1.95"/><circle cx="318.9" cy="131.3" r="1.95"/><circle cx="313.2" cy="134.6" r="1.95"/><circle cx="307.4" cy="135.7" r="1.95"/><circle cx="301.7" cy="136.2" r="1.95"/><circle cx="295.9" cy="136.5" r="1.95"/><circle cx="290.2" cy="136.7" r="1.95"/><circle cx="284.4" cy="136.8" r="1.95"/><circle cx="278.7" cy="137.1" r="1.95"/><circle cx="272.9" cy="137.3" r="1.95"/><circle cx="267.2" cy="137.6" r="1.95"/><circle cx="261.4" cy="137.9" r="1.95"/><circle cx="255.7" cy="138.4" r="1.95"/><circle cx="249.9" cy="139" r="1.95"/><circle cx="244.2" cy="139.5" r="1.95"/><circle cx="238.4" cy="140.2" r="1.95"/><circle cx="232.7" cy="141.7" r="1.95"/><circle cx="226.9" cy="143.7" r="1.95"/><circle cx="221.2" cy="145.6" r="1.95"/><circle cx="215.4" cy="146.4" r="1.95"/><circle cx="209.7" cy="145.1" r="1.95"/><circle cx="203.9" cy="144.4" r="1.95"/></g>
<g fill="#fff" opacity="0.35"><circle cx="199.6" cy="143.4" r="0.8"/><circle cx="205.3" cy="116.7" r="0.8"/><circle cx="211.1" cy="98.9" r="0.8"/><circle cx="216.8" cy="85.7" r="0.8"/><circle cx="222.6" cy="77.6" r="0.8"/><circle cx="228.3" cy="70.2" r="0.8"/><circle cx="234.1" cy="64.8" r="0.8"/><circle cx="239.8" cy="61.4" r="0.8"/><circle cx="245.6" cy="59.4" r="0.8"/><circle cx="251.3" cy="58.2" r="0.8"/><circle cx="257.1" cy="57.7" r="0.8"/><circle cx="262.8" cy="57.6" r="0.8"/><circle cx="268.6" cy="58.2" r="0.8"/><circle cx="274.3" cy="59.4" r="0.8"/><circle cx="280.1" cy="61.3" r="0.8"/><circle cx="285.8" cy="61.9" r="0.8"/><circle cx="291.6" cy="62.2" r="0.8"/><circle cx="297.3" cy="62.3" r="0.8"/><circle cx="303.1" cy="62.3" r="0.8"/><circle cx="308.8" cy="62.1" r="0.8"/><circle cx="314.6" cy="62" r="0.8"/><circle cx="320.3" cy="61.8" r="0.8"/><circle cx="326.1" cy="61.6" r="0.8"/><circle cx="331.8" cy="63.4" r="0.8"/><circle cx="330.4" cy="104.4" r="0.8"/><circle cx="324.7" cy="122.5" r="0.8"/><circle cx="318.9" cy="131.3" r="0.8"/><circle cx="313.2" cy="134.6" r="0.8"/><circle cx="307.4" cy="135.7" r="0.8"/><circle cx="301.7" cy="136.2" r="0.8"/><circle cx="295.9" cy="136.5" r="0.8"/><circle cx="290.2" cy="136.7" r="0.8"/><circle cx="284.4" cy="136.8" r="0.8"/><circle cx="278.7" cy="137.1" r="0.8"/><circle cx="272.9" cy="137.3" r="0.8"/><circle cx="267.2" cy="137.6" r="0.8"/><circle cx="261.4" cy="137.9" r="0.8"/><circle cx="255.7" cy="138.4" r="0.8"/><circle cx="249.9" cy="139" r="0.8"/><circle cx="244.2" cy="139.5" r="0.8"/><circle cx="238.4" cy="140.2" r="0.8"/><circle cx="232.7" cy="141.7" r="0.8"/><circle cx="226.9" cy="143.7" r="0.8"/><circle cx="221.2" cy="145.6" r="0.8"/><circle cx="215.4" cy="146.4" r="0.8"/><circle cx="209.7" cy="145.1" r="0.8"/><circle cx="203.9" cy="144.4" r="0.8"/></g>
<path d="M199.6 141.9L199.6 140.1L199.7 137.8L199.8 135L199.8 131.9L200 128.7L200.1 125.7L200.3 122.5L200.5 119.2L200.8 115.7L201.1 112.4L201.3 109.2L201.6 106.3L201.9 103.9L202.1 101.8L202.4 99.8L202.7 98L203 96.3L203.3 94.5L203.7 92.8L204.1 91.1L204.6 89.4L205 87.9L205.5 86.5L206 85.2L206.4 84L206.9 83.1L207.4 82.2L207.9 81.4L208.4 80.7L208.8 80L209.3 79.4L209.8 78.9L210.2 78.4L210.7 78L211.3 77.7L211.9 77.4L212.5 77.2L213.1 77.1L213.8 77L214.5 77L215.4 77L216.4 77L217.6 77L218.9 77.1L220.4 77.1L221.9 77.2L223.4 77.3L224.8 77.4L226.2 77.6L227.6 77.8L229 78L230.4 78.2L231.8 78.4L233.2 78.6L234.6 78.7L236 78.8L237.4 78.9L238.8 79L240.2 79L241.6 79L243 78.9L244.4 78.8L245.8 78.7L247.2 78.5L248.6 78.2L250 77.9L251.4 77.6L252.8 77.3L254.2 76.8L255.6 76.4L257 75.8L258.4 75.2L259.8 74.4L261.2 73.5L262.6 72.5L264 71.5L265.4 70.5L266.8 69.5L268.2 68.6L269.6 67.7L271 66.8L272.4 66L273.8 65.1L275.2 64.3L276.6 63.4L278 62.6L279.4 61.8L280.8 61.1L282.2 60.3L283.6 59.7L285 59L286.4 58.4L287.8 57.9L289.2 57.3L290.6 56.8L292 56.4L293.4 55.9L294.8 55.6L296.2 55.2L297.6 54.9L299 54.6L300.4 54.3L301.8 54L303.2 53.8L304.6 53.6L306 53.4L307.4 53.2L308.8 53.1L310.2 53L311.6 52.9L313 52.8L314.4 52.8L315.8 52.7L317.2 52.7L318.6 52.7L320 52.7L321.4 52.7L322.8 52.7L324.2 52.6L325.6 52.6L327.1 52.2L328.7 51.6L330.4 51L331.9 50.6L333.1 50.7L334 51.6L334.4 53.5L334.4 56.1L334.2 59.3L333.8 62.7L333.5 66.2L333.2 69.5L332.9 72.8L332.6 76.4L332.3 80L332 83.5L331.7 86.6L331.5 89.2L331.3 91.1L331.1 92.2L331 93.1L330.9 93.9L330.7 95L330.5 96.7L330.2 99.3L329.8 102.4L329.4 105.8L328.9 109.3L328.5 112.6L328.1 115.6L327.8 118.1L327.4 120.5L327.1 122.8L326.8 124.9L326.4 126.8L325.9 128.6L325.4 130.2L324.8 131.6L324.1 132.9L323.4 134L322.8 135L322.2 135.9L321.8 136.6L321.5 137.1L321.3 137.5L321 137.8L320.6 138.2L320.1 138.6L319.3 139.1L318.4 139.6L317.4 140.1L316.4 140.6L315.3 141.1L314.3 141.6L313.4 142L312.4 142.4L311.5 142.7L310.5 143L309.6 143.3L308.6 143.6L307.7 143.8L306.9 143.9L306.1 144.1L305.2 144.2L304.2 144.3L302.9 144.3L301.4 144.4L299.7 144.5L297.8 144.5L295.8 144.5L293.9 144.4L292 144.3L290.2 144.2L288.3 144L286.5 143.8L284.6 143.5L282.8 143.3L280.9 143L279 142.8L277.2 142.5L275.3 142.3L273.4 142L271.5 141.8L269.7 141.6L267.7 141.5L265.6 141.4L263.6 141.4L261.6 141.3L259.8 141.2L258.2 140.9L257 140.6L256 140.1L255.1 139.5L254.3 138.9L253.6 138.4L252.7 137.9L251.7 137.5L250.7 137.1L249.7 136.7L248.8 136.3L247.8 136L246.8 135.7L245.9 135.4L244.9 135.1L244 134.8L243.1 134.5L242.2 134.2L241.3 134L240.4 133.7L239.7 133.5L238.9 133.2L238.1 133L237.1 132.7L235.9 132.5L234.4 132.3L232.6 132L230.7 131.7L228.7 131.5L226.7 131.3L224.8 131.2L222.9 131.2L220.8 131.2L218.8 131.3L216.9 131.5L215.1 131.7L213.5 131.9L212.3 132L211.3 132.2L210.5 132.4L209.8 132.7L209.1 133.1L208.3 133.6L207.5 134.2L206.8 135.1L206 136L205.3 136.9L204.5 137.8L203.8 138.6L203 139.2L202.2 139.9L201.4 140.5L200.7 141.1L200.1 141.5L199.6 141.9" stroke="#3a464e" stroke-width="0.7" fill="none"/>
<g fill="#56646e" stroke="#262b2f" stroke-width="0.65"><circle cx="199.6" cy="141.9" r="1.95"/><circle cx="205.3" cy="86.9" r="1.95"/><circle cx="211.1" cy="77.8" r="1.95"/><circle cx="216.8" cy="77" r="1.95"/><circle cx="222.6" cy="77.2" r="1.95"/><circle cx="228.3" cy="77.9" r="1.95"/><circle cx="234.1" cy="78.7" r="1.95"/><circle cx="239.8" cy="79" r="1.95"/><circle cx="245.6" cy="78.7" r="1.95"/><circle cx="251.3" cy="77.6" r="1.95"/><circle cx="257.1" cy="75.8" r="1.95"/><circle cx="262.8" cy="72.3" r="1.95"/><circle cx="268.6" cy="68.4" r="1.95"/><circle cx="274.3" cy="64.8" r="1.95"/><circle cx="280.1" cy="61.5" r="1.95"/><circle cx="285.8" cy="58.7" r="1.95"/><circle cx="291.6" cy="56.5" r="1.95"/><circle cx="297.3" cy="54.9" r="1.95"/><circle cx="303.1" cy="53.8" r="1.95"/><circle cx="308.8" cy="53.1" r="1.95"/><circle cx="314.6" cy="52.8" r="1.95"/><circle cx="320.3" cy="52.7" r="1.95"/><circle cx="326.1" cy="52.5" r="1.95"/><circle cx="331.8" cy="50.6" r="1.95"/><circle cx="331.3" cy="91.2" r="1.95"/><circle cx="325.5" cy="129.8" r="1.95"/><circle cx="319.8" cy="138.8" r="1.95"/><circle cx="314" cy="141.7" r="1.95"/><circle cx="308.3" cy="143.6" r="1.95"/><circle cx="302.5" cy="144.4" r="1.95"/><circle cx="296.8" cy="144.5" r="1.95"/><circle cx="291" cy="144.3" r="1.95"/><circle cx="285.3" cy="143.6" r="1.95"/><circle cx="279.5" cy="142.9" r="1.95"/><circle cx="273.8" cy="142.1" r="1.95"/><circle cx="268" cy="141.5" r="1.95"/><circle cx="262.3" cy="141.3" r="1.95"/><circle cx="256.5" cy="140.3" r="1.95"/><circle cx="250.8" cy="137.1" r="1.95"/><circle cx="245" cy="135.1" r="1.95"/><circle cx="239.3" cy="133.3" r="1.95"/><circle cx="233.5" cy="132.1" r="1.95"/><circle cx="227.8" cy="131.4" r="1.95"/><circle cx="222" cy="131.2" r="1.95"/><circle cx="216.3" cy="131.5" r="1.95"/><circle cx="210.5" cy="132.4" r="1.95"/><circle cx="204.8" cy="137.5" r="1.95"/></g>
<g fill="#fff" opacity="0.35"><circle cx="199.6" cy="141.9" r="0.8"/><circle cx="205.3" cy="86.9" r="0.8"/><circle cx="211.1" cy="77.8" r="0.8"/><circle cx="216.8" cy="77" r="0.8"/><circle cx="222.6" cy="77.2" r="0.8"/><circle cx="228.3" cy="77.9" r="0.8"/><circle cx="234.1" cy="78.7" r="0.8"/><circle cx="239.8" cy="79" r="0.8"/><circle cx="245.6" cy="78.7" r="0.8"/><circle cx="251.3" cy="77.6" r="0.8"/><circle cx="257.1" cy="75.8" r="0.8"/><circle cx="262.8" cy="72.3" r="0.8"/><circle cx="268.6" cy="68.4" r="0.8"/><circle cx="274.3" cy="64.8" r="0.8"/><circle cx="280.1" cy="61.5" r="0.8"/><circle cx="285.8" cy="58.7" r="0.8"/><circle cx="291.6" cy="56.5" r="0.8"/><circle cx="297.3" cy="54.9" r="0.8"/><circle cx="303.1" cy="53.8" r="0.8"/><circle cx="308.8" cy="53.1" r="0.8"/><circle cx="314.6" cy="52.8" r="0.8"/><circle cx="320.3" cy="52.7" r="0.8"/><circle cx="326.1" cy="52.5" r="0.8"/><circle cx="331.8" cy="50.6" r="0.8"/><circle cx="331.3" cy="91.2" r="0.8"/><circle cx="325.5" cy="129.8" r="0.8"/><circle cx="319.8" cy="138.8" r="0.8"/><circle cx="314" cy="141.7" r="0.8"/><circle cx="308.3" cy="143.6" r="0.8"/><circle cx="302.5" cy="144.4" r="0.8"/><circle cx="296.8" cy="144.5" r="0.8"/><circle cx="291" cy="144.3" r="0.8"/><circle cx="285.3" cy="143.6" r="0.8"/><circle cx="279.5" cy="142.9" r="0.8"/><circle cx="273.8" cy="142.1" r="0.8"/><circle cx="268" cy="141.5" r="0.8"/><circle cx="262.3" cy="141.3" r="0.8"/><circle cx="256.5" cy="140.3" r="0.8"/><circle cx="250.8" cy="137.1" r="0.8"/><circle cx="245" cy="135.1" r="0.8"/><circle cx="239.3" cy="133.3" r="0.8"/><circle cx="233.5" cy="132.1" r="0.8"/><circle cx="227.8" cy="131.4" r="0.8"/><circle cx="222" cy="131.2" r="0.8"/><circle cx="216.3" cy="131.5" r="0.8"/><circle cx="210.5" cy="132.4" r="0.8"/><circle cx="204.8" cy="137.5" r="0.8"/></g>
<rect x="227" y="13.3" width="116.3" height="23.3" fill="#fff" stroke="#6a6a6a" stroke-width="0.8"/>
<path d="M230.3 19.4L240.3 19.4" stroke="#3a464e" stroke-width="0.8"/>
<circle cx="235.3" cy="19.4" r="1.9" fill="#56646e" stroke="#2a2f33" stroke-width="0.55"/>
<text x="241.6" y="22" font-size="7.6" text-anchor="start" fill="#444" textLength="33.1" lengthAdjust="spacingAndGlyphs">1 M Li<tspan font-size="4.6" dy="1.6">2</tspan><tspan dy="-1.6">​</tspan>SO<tspan font-size="4.6" dy="1.6">4</tspan><tspan dy="-1.6">​</tspan></text>
<path d="M290.2 19.4L300.2 19.4" stroke="#c0302a" stroke-width="0.8"/>
<circle cx="295.2" cy="19.4" r="1.9" fill="#e2463a" stroke="#2a2f33" stroke-width="0.55"/>
<text x="301.5" y="22" font-size="7.6" text-anchor="start" fill="#444" textLength="39.5" lengthAdjust="spacingAndGlyphs">0.5 M K<tspan font-size="4.6" dy="1.6">2</tspan><tspan dy="-1.6">​</tspan>SO<tspan font-size="4.6" dy="1.6">4</tspan><tspan dy="-1.6">​</tspan></text>
<path d="M230.3 30L240.3 30" stroke="#5d8a2a" stroke-width="0.8"/>
<circle cx="235.3" cy="30" r="1.9" fill="#7aa63c" stroke="#2a2f33" stroke-width="0.55"/>
<text x="241.6" y="32.6" font-size="7.6" text-anchor="start" fill="#444" textLength="37.4" lengthAdjust="spacingAndGlyphs">1 M Na<tspan font-size="4.6" dy="1.6">2</tspan><tspan dy="-1.6">​</tspan>SO<tspan font-size="4.6" dy="1.6">4</tspan><tspan dy="-1.6">​</tspan></text>
<path d="M290.2 30L300.2 30" stroke="#1c88c0" stroke-width="0.8"/>
<circle cx="295.2" cy="30" r="1.9" fill="#34a4da" stroke="#2a2f33" stroke-width="0.55"/>
<text x="301.5" y="32.6" font-size="7.6" text-anchor="start" fill="#444" textLength="36.6" lengthAdjust="spacingAndGlyphs">1 M MgSO<tspan font-size="4.6" dy="1.6">4</tspan><tspan dy="-1.6">​</tspan></text>
<text x="358.2" y="21.1" font-size="8.4" text-anchor="start" fill="#1a1a2a" font-weight="bold">c</text>
<rect x="394.6" y="37" width="146.5" height="123.6" fill="url(#pg)"/>
<path d="M394.2 37L394.2 161M391 38L394.2 38M391 55.5L394.2 55.5M391 73L394.2 73M391 90.6L394.2 90.6M391 108.2L394.2 108.2M391 125.9L394.2 125.9M391 143.4L394.2 143.4M391 160.8L394.2 160.8" stroke="#484848" stroke-width="1.0" fill="none"/>
<text x="390" y="40.5" font-size="6.5" text-anchor="end" fill="#383838">1500</text>
<text x="390" y="58" font-size="6.5" text-anchor="end" fill="#383838">1000</text>
<text x="390" y="75.5" font-size="6.5" text-anchor="end" fill="#383838">500</text>
<text x="390" y="93.1" font-size="6.5" text-anchor="end" fill="#383838">0</text>
<text x="390" y="110.7" font-size="6.5" text-anchor="end" fill="#383838">0</text>
<text x="390" y="128.4" font-size="6.5" text-anchor="end" fill="#383838">−1000</text>
<text x="390" y="145.9" font-size="6.5" text-anchor="end" fill="#383838">−1500</text>
<text x="390" y="163.3" font-size="6.5" text-anchor="end" fill="#383838">−2000</text>
<path d="M394.2 161L541 161M394.2 161L394.2 164M417.4 161L417.4 164M440.6 161L440.6 164M463.8 161L463.8 164M487 161L487 164M510.2 161L510.2 164M533.4 161L533.4 164" stroke="#484848" stroke-width="1.0" fill="none"/>
<text x="394.2" y="172" font-size="6.9" text-anchor="middle" fill="#383838">−0.4</text>
<text x="417.4" y="172" font-size="6.9" text-anchor="middle" fill="#383838">−0.3</text>
<text x="440.6" y="172" font-size="6.9" text-anchor="middle" fill="#383838">−0.2</text>
<text x="463.8" y="172" font-size="6.9" text-anchor="middle" fill="#383838">−0.1</text>
<text x="487" y="172" font-size="6.9" text-anchor="middle" fill="#383838">−0.0</text>
<text x="510.2" y="172" font-size="6.9" text-anchor="middle" fill="#383838">0.1</text>
<text x="533.4" y="172" font-size="6.9" text-anchor="middle" fill="#383838">0.2</text>
<text x="366.3" y="98.5" font-size="7.6" text-anchor="middle" fill="#2e2e2e" textLength="69" lengthAdjust="spacingAndGlyphs" transform="rotate(-90 366.3 98.5)">Capacitance (F cm<tspan font-size="4.5" dy="-2.6">−3</tspan><tspan dy="2.6">)</tspan></text>
<text x="469.6" y="181.6" font-size="7.3" text-anchor="middle" fill="#2e2e2e" textLength="79" lengthAdjust="spacingAndGlyphs">Potential (V vs Ag/AgCl)</text>
<path d="M405.8 155.1L405.8 152.1L405.9 148.1L405.9 143.3L405.9 137.8L406 131.9L406 125.7L406.1 118.6L406.2 110.5L406.2 101.8L406.3 93.4L406.4 85.9L406.5 80L406.5 75.9L406.6 73.1L406.6 71.3L406.7 69.9L406.8 68.5L407 66.8L407.2 64.8L407.5 62.7L407.9 60.8L408.3 58.9L408.9 57.1L409.5 55.4L410.3 53.8L411.1 52.4L412.1 51L413.1 49.8L414.2 48.7L415.3 47.7L416.5 46.9L417.7 46.3L419 45.9L420.3 45.5L421.7 45.2L423 44.9L424.2 44.6L425.5 44.4L426.8 44.3L428.1 44.2L429.3 44.2L430.6 44.2L431.8 44.2L433 44.3L434.1 44.4L435.4 44.6L436.7 44.9L438.3 45.2L440 45.6L441.8 46L443.8 46.5L446 47.2L448.3 48L450.8 49L453.6 50.4L456.6 52.1L459.9 53.9L463.2 55.8L466.6 57.6L470.1 59.2L473.6 60.5L477.4 61.7L481.3 62.8L485 63.8L488.6 64.7L491.9 65.5L494.7 66.1L497.3 66.6L499.6 67L501.8 67.3L504.1 67.5L506.5 67.8L509.1 68L511.7 68.2L514.4 68.3L517 68.3L519.5 68.4L521.8 68.5L524 68.5L526.1 68.5L528 68.5L529.8 68.5L531.3 68.6L532.5 68.7L533.2 68.8L533.5 68.7L533.6 68.6L533.5 68.8L533.4 69.5L533.4 70.9L533.5 73.3L533.5 76.6L533.5 80.4L533.5 84.2L533.4 87.8L533.4 90.6L533.4 92.7L533.3 94.5L533.3 95.9L533.2 97.2L533.1 98.3L532.9 99.4L532.7 100.4L532.5 101.3L532.3 102.1L531.9 102.7L531.6 103.4L531.1 103.9L530.5 104.5L529.9 104.9L529.1 105.3L528.3 105.6L527.5 105.9L526.7 106.2L525.9 106.4L525.2 106.5L524.5 106.6L523.6 106.7L522.4 106.9L520.9 107.1L518.9 107.4L516.4 107.8L513.7 108.2L510.9 108.6L508.1 109.1L505.6 109.6L503.2 110L500.9 110.6L498.6 111.1L496.4 111.7L494.2 112.3L491.9 112.9L489.6 113.5L487.2 114.2L484.9 114.9L482.5 115.7L480.1 116.4L477.7 117.3L475.3 118.1L472.8 119L470.2 120L467.7 121L465.2 122L462.6 123.1L460.1 124.3L457.6 125.6L455 126.9L452.5 128.2L450 129.6L447.6 131L445.1 132.3L442.7 133.8L440.4 135.2L438.1 136.6L435.8 138L433.6 139.2L431.5 140.3L429.5 141.4L427.5 142.3L425.6 143.2L423.8 144.1L422 145L420.4 145.9L418.8 146.7L417.4 147.5L416 148.3L414.6 149.1L413.2 149.9L411.8 150.8L410.4 151.8L409 152.8L407.7 153.8L406.6 154.5L405.8 155.1" stroke="#5060c4" stroke-width="1.15" fill="none"/>
<path d="M405.9 147L405.9 144.4L406 140.9L406.1 136.7L406.2 132.1L406.2 127.1L406.4 122L406.5 116.4L406.6 110.1L406.7 103.5L406.9 97L407 91L407.2 86.2L407.4 82.5L407.6 79.6L407.8 77.3L408.1 75.4L408.4 73.5L408.7 71.4L409.2 69.1L409.6 66.9L410.1 64.7L410.7 62.6L411.3 60.7L411.9 58.9L412.7 57.4L413.5 56.1L414.3 54.9L415.2 53.8L416.1 52.8L417.1 51.9L418.1 51.1L419.2 50.5L420.4 49.9L421.5 49.4L422.7 49L423.9 48.6L425 48.2L426.2 48L427.4 47.8L428.6 47.6L429.8 47.5L431 47.4L432.2 47.4L433.2 47.3L434.3 47.3L435.5 47.4L436.8 47.6L438.3 47.9L440 48.2L441.8 48.6L443.8 49.1L445.9 49.8L448.3 50.5L450.8 51.5L453.6 52.6L456.6 54.1L459.9 55.7L463.2 57.3L466.6 58.8L470.1 60.1L473.6 61.2L477.4 62.2L481.3 63.1L485 63.9L488.6 64.7L491.9 65.3L494.7 65.9L497.3 66.3L499.6 66.7L501.8 67L504.1 67.3L506.5 67.6L509.1 67.8L511.7 68L514.4 68.2L517 68.3L519.5 68.5L521.8 68.6L524 68.7L526.1 68.8L528 68.8L529.8 68.9L531.3 69L532.5 69.2L533.2 69.2L533.5 69.1L533.6 69.1L533.5 69.2L533.4 69.9L533.4 71.2L533.5 73.4L533.5 76.5L533.5 80.1L533.5 83.7L533.4 87.1L533.4 89.8L533.4 91.8L533.3 93.4L533.3 94.8L533.2 96L533.1 97.1L532.9 98.1L532.7 99.2L532.5 100.2L532.3 101.1L531.9 101.9L531.6 102.6L531.1 103.3L530.5 103.9L529.9 104.4L529.1 104.9L528.3 105.3L527.5 105.6L526.7 105.9L525.9 106.1L525.2 106.3L524.5 106.3L523.6 106.4L522.4 106.6L520.9 106.8L518.9 107.1L516.4 107.4L513.7 107.8L510.9 108.3L508.1 108.7L505.6 109.2L503.2 109.7L500.9 110.2L498.6 110.7L496.4 111.2L494.2 111.8L491.9 112.3L489.6 112.9L487.2 113.4L484.9 114L482.5 114.5L480.1 115.1L477.7 115.8L475.3 116.5L472.8 117.3L470.2 118.1L467.7 118.9L465.2 119.8L462.6 120.8L460.1 121.7L457.6 122.8L455 123.9L452.5 125L450 126.1L447.6 127.2L445.1 128.4L442.7 129.6L440.4 130.9L438.1 132.1L435.8 133.2L433.6 134.3L431.5 135.3L429.5 136.1L427.5 137L425.6 137.7L423.8 138.5L422 139.2L420.4 139.9L418.8 140.6L417.4 141.3L416 141.9L414.6 142.5L413.2 143.2L411.8 143.8L410.4 144.6L409 145.3L407.7 146L406.7 146.5L405.9 147" stroke="#f0a080" stroke-width="1.15" fill="none"/>
<path d="M405.9 142.3L406 140L406.1 136.8L406.2 133L406.3 128.8L406.4 124.4L406.5 119.9L406.7 115.2L406.8 109.9L407 104.4L407.2 99L407.4 94L407.6 89.7L407.9 86.2L408.2 83.3L408.6 80.8L408.9 78.5L409.3 76.4L409.8 74.1L410.3 71.7L410.8 69.3L411.4 66.9L412 64.7L412.7 62.7L413.3 61L414 59.4L414.8 58.2L415.6 57.1L416.4 56.1L417.2 55.2L418.1 54.4L419.1 53.6L420.1 52.8L421.1 52.2L422.2 51.6L423.3 51.1L424.4 50.7L425.5 50.3L426.6 50L427.8 49.7L428.9 49.5L430.1 49.4L431.3 49.3L432.4 49.1L433.4 49.1L434.4 49L435.5 49L436.8 49.2L438.3 49.4L440 49.7L441.8 50.1L443.8 50.6L445.9 51.3L448.3 52L450.8 52.8L453.6 53.9L456.6 55.2L459.9 56.6L463.2 58.1L466.6 59.4L470.1 60.6L473.6 61.6L477.4 62.4L481.3 63.2L485 64L488.6 64.6L491.9 65.2L494.7 65.7L497.3 66.2L499.6 66.5L501.8 66.9L504.1 67.2L506.5 67.5L509.1 67.7L511.7 68L514.4 68.2L517 68.3L519.5 68.5L521.8 68.7L524 68.8L526.1 68.9L528 69L529.8 69.1L531.3 69.3L532.5 69.5L533.2 69.5L533.5 69.4L533.6 69.3L533.5 69.5L533.4 70.1L533.4 71.3L533.5 73.5L533.5 76.5L533.5 79.9L533.5 83.4L533.4 86.7L533.4 89.3L533.4 91.2L533.3 92.8L533.3 94.1L533.2 95.3L533.1 96.4L532.9 97.4L532.7 98.6L532.5 99.6L532.3 100.5L531.9 101.4L531.6 102.2L531.1 103L530.5 103.6L529.9 104.2L529.1 104.6L528.3 105L527.5 105.4L526.7 105.7L525.9 106L525.2 106.1L524.5 106.2L523.6 106.3L522.4 106.4L520.9 106.6L518.9 106.9L516.4 107.3L513.7 107.6L510.9 108.1L508.1 108.5L505.6 109L503.2 109.4L500.9 109.9L498.6 110.5L496.4 111L494.2 111.5L491.9 112L489.6 112.5L487.2 113L484.9 113.4L482.5 113.9L480.1 114.4L477.7 115L475.3 115.6L472.8 116.3L470.2 117L467.7 117.8L465.2 118.6L462.6 119.4L460.1 120.3L457.6 121.2L455 122.1L452.5 123.1L450 124.1L447.6 125.1L445.1 126.1L442.7 127.2L440.4 128.4L438.1 129.5L435.8 130.5L433.6 131.5L431.5 132.4L429.5 133.2L427.5 133.9L425.6 134.6L423.8 135.3L422 135.9L420.4 136.6L418.8 137.1L417.4 137.7L415.9 138.2L414.6 138.8L413.2 139.3L411.8 139.9L410.4 140.4L409 141L407.8 141.5L406.7 142L405.9 142.3" stroke="#2f9c64" stroke-width="1.15" fill="none"/>
<path d="M406 138.8L406 136.6L406.1 133.7L406.2 130.2L406.4 126.3L406.5 122.3L406.7 118.3L406.8 114.2L407 109.7L407.2 105.1L407.4 100.5L407.7 96.2L408 92.3L408.3 89L408.7 86.1L409.1 83.4L409.5 80.9L410 78.5L410.5 76L411.1 73.5L411.7 71L412.3 68.6L413 66.4L413.7 64.3L414.4 62.5L415.1 61L415.8 59.7L416.5 58.7L417.3 57.8L418 57L418.9 56.2L419.8 55.4L420.7 54.6L421.7 53.9L422.7 53.3L423.7 52.7L424.8 52.2L425.8 51.8L426.9 51.5L428 51.2L429.2 51L430.3 50.8L431.4 50.6L432.5 50.5L433.5 50.4L434.5 50.3L435.6 50.2L436.8 50.3L438.3 50.5L440 50.8L441.8 51.3L443.8 51.8L445.9 52.4L448.3 53.1L450.8 53.9L453.6 54.9L456.6 56.1L459.9 57.4L463.2 58.7L466.6 59.9L470.1 61L473.6 61.8L477.4 62.6L481.3 63.3L485 64L488.6 64.6L491.9 65.1L494.7 65.6L497.3 66.1L499.6 66.4L501.8 66.8L504.1 67.1L506.5 67.4L509.1 67.6L511.7 67.9L514.4 68.1L517 68.3L519.5 68.5L521.8 68.7L524 68.9L526.1 69L528 69.2L529.8 69.3L531.3 69.5L532.5 69.7L533.2 69.7L533.5 69.6L533.6 69.5L533.5 69.7L533.4 70.2L533.4 71.4L533.5 73.6L533.5 76.5L533.5 79.8L533.5 83.2L533.4 86.4L533.4 88.9L533.4 90.8L533.3 92.4L533.3 93.7L533.2 94.8L533.1 95.8L532.9 96.9L532.7 98L532.5 99.1L532.3 100.1L531.9 101.1L531.6 101.9L531.1 102.7L530.5 103.4L529.9 104L529.1 104.5L528.3 104.9L527.5 105.3L526.7 105.6L525.9 105.8L525.2 106L524.5 106.1L523.6 106.1L522.4 106.3L520.9 106.5L518.9 106.8L516.4 107.1L513.7 107.5L510.9 107.9L508.1 108.4L505.6 108.8L503.2 109.3L500.9 109.8L498.6 110.3L496.4 110.8L494.2 111.3L491.9 111.8L489.6 112.2L487.2 112.6L484.9 113L482.5 113.4L480.1 113.8L477.7 114.3L475.3 114.9L472.8 115.5L470.2 116.2L467.7 116.9L465.2 117.7L462.6 118.4L460.1 119.2L457.6 120L455 120.8L452.5 121.7L450 122.6L447.6 123.5L445.1 124.4L442.7 125.4L440.4 126.5L438.1 127.5L435.8 128.5L433.6 129.4L431.5 130.2L429.5 130.9L427.5 131.6L425.6 132.3L423.8 132.9L422 133.5L420.4 134L418.8 134.5L417.4 135L415.9 135.5L414.6 136L413.2 136.4L411.8 136.9L410.4 137.3L409 137.8L407.8 138.2L406.7 138.5L406 138.8" stroke="#5a6266" stroke-width="1.15" fill="none"/>
<path d="M406 135.3L406.1 133.3L406.2 130.6L406.3 127.4L406.5 123.9L406.6 120.2L406.8 116.7L407 113.3L407.2 109.6L407.4 105.8L407.6 102L407.9 98.4L408.3 95L408.7 91.8L409.1 88.9L409.6 86L410.1 83.3L410.7 80.6L411.3 78L411.9 75.4L412.6 72.8L413.3 70.3L414 68L414.7 65.8L415.4 64L416.1 62.5L416.8 61.3L417.5 60.4L418.1 59.6L418.9 58.8L419.7 58L420.5 57.2L421.3 56.4L422.3 55.6L423.2 55L424.2 54.4L425.1 53.8L426.2 53.4L427.2 53L428.3 52.7L429.4 52.4L430.5 52.2L431.6 52L432.6 51.8L433.6 51.7L434.6 51.5L435.6 51.5L436.8 51.5L438.3 51.7L440 52L441.8 52.4L443.8 52.9L445.9 53.5L448.3 54.2L450.8 54.9L453.6 55.9L456.6 56.9L459.9 58.1L463.2 59.3L466.6 60.4L470.1 61.3L473.6 62.1L477.4 62.8L481.3 63.5L485 64L488.6 64.6L491.9 65.1L494.7 65.5L497.3 65.9L499.6 66.3L501.8 66.6L504.1 67L506.5 67.3L509.1 67.6L511.7 67.8L514.4 68.1L517 68.3L519.5 68.6L521.8 68.8L524 69L526.1 69.2L528 69.3L529.8 69.5L531.3 69.7L532.5 69.9L533.2 70L533.5 69.8L533.6 69.7L533.5 69.8L533.4 70.4L533.4 71.5L533.5 73.6L533.5 76.4L533.5 79.7L533.5 83L533.4 86.1L533.4 88.6L533.4 90.4L533.3 91.9L533.3 93.2L533.2 94.3L533.1 95.3L532.9 96.4L532.7 97.5L532.5 98.7L532.3 99.7L531.9 100.7L531.6 101.6L531.1 102.4L530.5 103.2L529.9 103.8L529.1 104.3L528.3 104.7L527.5 105.1L526.7 105.5L525.9 105.7L525.2 105.9L524.5 105.9L523.6 106L522.4 106.1L520.9 106.3L518.9 106.6L516.4 107L513.7 107.4L510.9 107.8L508.1 108.2L505.6 108.7L503.2 109.1L500.9 109.6L498.6 110.1L496.4 110.6L494.2 111.1L491.9 111.5L489.6 111.9L487.2 112.3L484.9 112.6L482.5 112.9L480.1 113.3L477.7 113.7L475.3 114.2L472.8 114.8L470.2 115.4L467.7 116.1L465.2 116.7L462.6 117.4L460.1 118.1L457.6 118.8L455 119.5L452.5 120.3L450 121.1L447.6 121.9L445.1 122.7L442.7 123.7L440.4 124.6L438.1 125.6L435.8 126.5L433.6 127.3L431.5 128L429.5 128.7L427.5 129.3L425.6 129.9L423.8 130.5L422 131L420.4 131.5L418.8 131.9L417.4 132.4L415.9 132.8L414.6 133.1L413.2 133.5L411.8 133.9L410.4 134.2L409.1 134.6L407.8 134.9L406.8 135.1L406 135.3" stroke="#c83a5c" stroke-width="1.15" fill="none"/>
<path d="M406 131.8L406.1 130L406.2 127.5L406.4 124.6L406.6 121.4L406.8 118.2L407 115.2L407.2 112.3L407.4 109.4L407.6 106.5L407.9 103.5L408.2 100.6L408.6 97.6L409 94.7L409.6 91.6L410.1 88.6L410.8 85.6L411.4 82.8L412.1 80L412.8 77.3L413.5 74.6L414.2 72L415 69.6L415.8 67.4L416.5 65.5L417.1 64L417.8 62.9L418.4 62L419 61.3L419.7 60.6L420.4 59.8L421.2 59L422 58.2L422.8 57.4L423.7 56.6L424.6 56L425.5 55.4L426.5 54.9L427.5 54.5L428.6 54.2L429.6 53.9L430.7 53.6L431.8 53.4L432.8 53.2L433.7 53L434.6 52.8L435.7 52.7L436.8 52.7L438.3 52.8L439.9 53.1L441.8 53.5L443.7 54L445.9 54.6L448.3 55.3L450.8 56L453.6 56.8L456.6 57.8L459.9 58.8L463.2 59.9L466.6 60.9L470.1 61.7L473.6 62.4L477.4 63L481.3 63.6L485 64.1L488.6 64.5L491.9 65L494.7 65.4L497.3 65.8L499.6 66.2L501.8 66.5L504.1 66.9L506.5 67.2L509.1 67.5L511.7 67.8L514.4 68.1L517 68.3L519.5 68.6L521.8 68.8L524 69.1L526.1 69.3L528 69.5L529.8 69.7L531.3 69.9L532.5 70.1L533.2 70.2L533.5 70L533.6 69.9L533.5 70L533.4 70.5L533.4 71.6L533.5 73.6L533.5 76.4L533.5 79.5L533.5 82.8L533.4 85.8L533.4 88.2L533.4 90L533.3 91.5L533.3 92.7L533.2 93.7L533.1 94.8L532.9 95.9L532.7 97L532.5 98.2L532.3 99.3L531.9 100.4L531.6 101.3L531.1 102.2L530.5 102.9L529.9 103.6L529.1 104.1L528.3 104.6L527.5 105L526.7 105.3L525.9 105.6L525.2 105.7L524.5 105.8L523.6 105.9L522.4 106L520.9 106.2L518.9 106.5L516.4 106.8L513.7 107.2L510.9 107.6L508.1 108.1L505.6 108.5L503.2 109L500.9 109.4L498.6 109.9L496.4 110.4L494.2 110.9L491.9 111.3L489.6 111.6L487.2 111.9L484.9 112.2L482.5 112.4L480.1 112.7L477.7 113.1L475.3 113.5L472.8 114L470.2 114.6L467.7 115.2L465.2 115.8L462.6 116.4L460.1 117L457.6 117.6L455 118.2L452.5 118.9L450 119.5L447.6 120.3L445.1 121L442.7 121.9L440.4 122.7L438.1 123.6L435.8 124.4L433.6 125.2L431.5 125.8L429.5 126.4L427.5 127L425.6 127.5L423.8 128L422 128.5L420.4 128.9L418.8 129.3L417.4 129.7L415.9 130L414.6 130.3L413.2 130.6L411.8 130.9L410.4 131.1L409.1 131.3L407.8 131.5L406.8 131.7L406 131.8" stroke="#3cb6e8" stroke-width="1.15" fill="none"/>
<rect x="406" y="13.5" width="134.4" height="21" fill="#fff" stroke="#6a6a6a" stroke-width="0.8"/>
<path d="M408.2 19.8L415.2 19.8" stroke="#3cb6e8" stroke-width="1.4"/>
<text x="417.7" y="22.5" font-size="7.8" text-anchor="start" fill="#444" textLength="33.3" lengthAdjust="spacingAndGlyphs">100 mV s<tspan font-size="4.5" dy="-2.6">−1</tspan></text>
<path d="M458 19.8L465 19.8" stroke="#5a6266" stroke-width="1.4"/>
<text x="467.5" y="22.5" font-size="7.8" text-anchor="start" fill="#444" textLength="29.2" lengthAdjust="spacingAndGlyphs">20 mV s<tspan font-size="4.5" dy="-2.6">−1</tspan></text>
<path d="M504 19.8L511 19.8" stroke="#f0a080" stroke-width="1.4"/>
<text x="513.5" y="22.5" font-size="7.8" text-anchor="start" fill="#444" textLength="23.8" lengthAdjust="spacingAndGlyphs">5 mV s<tspan font-size="4.5" dy="-2.6">−1</tspan></text>
<path d="M408.2 29L415.2 29" stroke="#c83a5c" stroke-width="1.4"/>
<text x="417.7" y="31.7" font-size="7.8" text-anchor="start" fill="#444" textLength="28.7" lengthAdjust="spacingAndGlyphs">50 mV s<tspan font-size="4.5" dy="-2.6">−1</tspan></text>
<path d="M458 29L465 29" stroke="#2f9c64" stroke-width="1.4"/>
<text x="467.5" y="31.7" font-size="7.8" text-anchor="start" fill="#444" textLength="29.2" lengthAdjust="spacingAndGlyphs">10 mV s<tspan font-size="4.5" dy="-2.6">−1</tspan></text>
<path d="M504 29L511 29" stroke="#5060c4" stroke-width="1.4"/>
<text x="513.5" y="31.7" font-size="7.8" text-anchor="start" fill="#444" textLength="23.8" lengthAdjust="spacingAndGlyphs">2 mV s<tspan font-size="4.5" dy="-2.6">−1</tspan></text>
<text x="25.2" y="193.1" font-size="8.4" text-anchor="start" fill="#1a1a2a" font-weight="bold">d</text>
<rect x="66" y="200" width="146" height="85.5" fill="url(#pg)"/>
<path d="M63.2 198L63.2 286.2M60 284.3L63.2 284.3M60 268.1L63.2 268.1M60 251.9L63.2 251.9M60 235.6L63.2 235.6M60 219.4L63.2 219.4M60 203.2L63.2 203.2" stroke="#484848" stroke-width="1.0" fill="none"/>
<text x="59.2" y="286.8" font-size="6.9" text-anchor="end" fill="#383838">0</text>
<text x="59.2" y="270.6" font-size="6.9" text-anchor="end" fill="#383838">200</text>
<text x="59.2" y="254.4" font-size="6.9" text-anchor="end" fill="#383838">400</text>
<text x="59.2" y="238.1" font-size="6.9" text-anchor="end" fill="#383838">600</text>
<text x="59.2" y="221.9" font-size="6.9" text-anchor="end" fill="#383838">800</text>
<text x="59.2" y="205.7" font-size="6.9" text-anchor="end" fill="#383838">1000</text>
<path d="M63.2 286L212 286M79.1 286L79.1 289M108.3 286L108.3 289M130.5 286L130.5 289M152.6 286L152.6 289M181.8 286L181.8 289M204 286L204 289M92 286L92 287.8M101.2 286L101.2 287.8M114.2 286L114.2 287.8M119.1 286L119.1 287.8M123.4 286L123.4 287.8M127.1 286L127.1 287.8M165.5 286L165.5 287.8M174.7 286L174.7 287.8M187.7 286L187.7 287.8M192.6 286L192.6 287.8M196.9 286L196.9 287.8M200.6 286L200.6 287.8" stroke="#484848" stroke-width="1.0" fill="none"/>
<text x="79.1" y="297" font-size="6.9" text-anchor="middle" fill="#383838">2</text>
<text x="108.3" y="297" font-size="6.9" text-anchor="middle" fill="#383838">5</text>
<text x="130.5" y="297" font-size="6.9" text-anchor="middle" fill="#383838">10</text>
<text x="152.6" y="297" font-size="6.9" text-anchor="middle" fill="#383838">20</text>
<text x="181.8" y="297" font-size="6.9" text-anchor="middle" fill="#383838">50</text>
<text x="204" y="297" font-size="6.9" text-anchor="middle" fill="#383838">100</text>
<text x="38.4" y="238.9" font-size="7.6" text-anchor="middle" fill="#2e2e2e" textLength="67.2" lengthAdjust="spacingAndGlyphs" transform="rotate(-90 38.4 238.9)">Capacitance (F cm<tspan font-size="4.5" dy="-2.6">−3</tspan><tspan dy="2.6">)</tspan></text>
<text x="137.3" y="306.6" font-size="7.3" text-anchor="middle" fill="#2e2e2e" textLength="56" lengthAdjust="spacingAndGlyphs">Scan rate (mV s<tspan font-size="4.5" dy="-2.6">−1</tspan><tspan dy="2.6">)</tspan></text>
<path d="M79.1 210.4L108.3 212.4L130.5 214.7L152.6 216.9L181.8 220.5L204 224" stroke="#d04050" stroke-width="0.9" fill="none"/>
<path d="M108.3 203.1L130.5 217.6L152.6 225.8L181.8 233.6L204 237.1" stroke="#8cbc50" stroke-width="0.9" fill="none"/>
<path d="M79.1 241.8L108.3 245.2L130.5 248.9L152.6 252.4L181.8 256.3L204 258.9" stroke="#3aaee0" stroke-width="0.9" fill="none"/>
<path d="M79.1 249.6L108.3 251.4L130.5 252.8L152.6 254.6L181.8 256.3L204 258.7" stroke="#a080c8" stroke-width="0.9" fill="none"/>
<path d="M79.1 247.3L108.3 250.2L130.5 253.1L152.6 255.5L181.8 258.7L204 260.7" stroke="#5a5e62" stroke-width="0.9" fill="none"/>
<path d="M79.1 252.5L108.3 256.9L130.5 260.7L152.6 264.2L181.8 267L204 270" stroke="#f4c43a" stroke-width="0.9" fill="none"/>
<path d="M79.1 255.5L108.3 257.5L130.5 259.8L152.6 262.1L181.8 266.2L204 269.1" stroke="#f08a40" stroke-width="0.9" fill="none"/>
<path d="M79.1 260.7L108.3 262.1L130.5 264.2L152.6 266.2L181.8 268.1L204 270" stroke="#30a058" stroke-width="0.9" fill="none"/>
<path d="M79.1 278.1L108.3 279.3L130.5 279.4L152.6 279.4L181.8 279.4L204 279.4" stroke="#3a5aa8" stroke-width="0.9" fill="none"/>
<g fill="#d4404c" stroke="#2a2f33" stroke-width="0.6"><circle cx="79.1" cy="210.4" r="1.9"/><circle cx="108.3" cy="212.4" r="1.9"/><circle cx="130.5" cy="214.7" r="1.9"/><circle cx="152.6" cy="216.9" r="1.9"/><circle cx="181.8" cy="220.5" r="1.9"/><circle cx="204" cy="224" r="1.9"/></g>
<g fill="#fff" opacity="0.35"><circle cx="79.1" cy="210.4" r="0.8"/><circle cx="108.3" cy="212.4" r="0.8"/><circle cx="130.5" cy="214.7" r="0.8"/><circle cx="152.6" cy="216.9" r="0.8"/><circle cx="181.8" cy="220.5" r="0.8"/><circle cx="204" cy="224" r="0.8"/></g>
<g fill="#86b84c" stroke="#2a2f33" stroke-width="0.6"><circle cx="108.3" cy="203.1" r="1.9"/><circle cx="130.5" cy="217.6" r="1.9"/><circle cx="152.6" cy="225.8" r="1.9"/><circle cx="181.8" cy="233.6" r="1.9"/><circle cx="204" cy="237.1" r="1.9"/></g>
<g fill="#fff" opacity="0.35"><circle cx="108.3" cy="203.1" r="0.8"/><circle cx="130.5" cy="217.6" r="0.8"/><circle cx="152.6" cy="225.8" r="0.8"/><circle cx="181.8" cy="233.6" r="0.8"/><circle cx="204" cy="237.1" r="0.8"/></g>
<g fill="#3aaee0" stroke="#2a2f33" stroke-width="0.6"><circle cx="79.1" cy="241.8" r="1.9"/><circle cx="108.3" cy="245.2" r="1.9"/><circle cx="130.5" cy="248.9" r="1.9"/><circle cx="152.6" cy="252.4" r="1.9"/><circle cx="181.8" cy="256.3" r="1.9"/><circle cx="204" cy="258.9" r="1.9"/></g>
<g fill="#fff" opacity="0.35"><circle cx="79.1" cy="241.8" r="0.8"/><circle cx="108.3" cy="245.2" r="0.8"/><circle cx="130.5" cy="248.9" r="0.8"/><circle cx="152.6" cy="252.4" r="0.8"/><circle cx="181.8" cy="256.3" r="0.8"/><circle cx="204" cy="258.9" r="0.8"/></g>
<g fill="#9a78c0" stroke="#2a2f33" stroke-width="0.6"><circle cx="79.1" cy="249.6" r="1.9"/><circle cx="108.3" cy="251.4" r="1.9"/><circle cx="130.5" cy="252.8" r="1.9"/><circle cx="152.6" cy="254.6" r="1.9"/><circle cx="181.8" cy="256.3" r="1.9"/><circle cx="204" cy="258.7" r="1.9"/></g>
<g fill="#fff" opacity="0.35"><circle cx="79.1" cy="249.6" r="0.8"/><circle cx="108.3" cy="251.4" r="0.8"/><circle cx="130.5" cy="252.8" r="0.8"/><circle cx="152.6" cy="254.6" r="0.8"/><circle cx="181.8" cy="256.3" r="0.8"/><circle cx="204" cy="258.7" r="0.8"/></g>
<g fill="#5a5e62" stroke="#2a2f33" stroke-width="0.6"><circle cx="79.1" cy="247.3" r="1.9"/><circle cx="108.3" cy="250.2" r="1.9"/><circle cx="130.5" cy="253.1" r="1.9"/><circle cx="152.6" cy="255.5" r="1.9"/><circle cx="181.8" cy="258.7" r="1.9"/><circle cx="204" cy="260.7" r="1.9"/></g>
<g fill="#fff" opacity="0.35"><circle cx="79.1" cy="247.3" r="0.8"/><circle cx="108.3" cy="250.2" r="0.8"/><circle cx="130.5" cy="253.1" r="0.8"/><circle cx="152.6" cy="255.5" r="0.8"/><circle cx="181.8" cy="258.7" r="0.8"/><circle cx="204" cy="260.7" r="0.8"/></g>
<g fill="#f2c030" stroke="#2a2f33" stroke-width="0.6"><circle cx="79.1" cy="252.5" r="1.9"/><circle cx="108.3" cy="256.9" r="1.9"/><circle cx="130.5" cy="260.7" r="1.9"/><circle cx="152.6" cy="264.2" r="1.9"/><circle cx="181.8" cy="267" r="1.9"/><circle cx="204" cy="270" r="1.9"/></g>
<g fill="#fff" opacity="0.35"><circle cx="79.1" cy="252.5" r="0.8"/><circle cx="108.3" cy="256.9" r="0.8"/><circle cx="130.5" cy="260.7" r="0.8"/><circle cx="152.6" cy="264.2" r="0.8"/><circle cx="181.8" cy="267" r="0.8"/><circle cx="204" cy="270" r="0.8"/></g>
<g fill="#ee8a3a" stroke="#2a2f33" stroke-width="0.6"><circle cx="79.1" cy="255.5" r="1.9"/><circle cx="108.3" cy="257.5" r="1.9"/><circle cx="130.5" cy="259.8" r="1.9"/><circle cx="152.6" cy="262.1" r="1.9"/><circle cx="181.8" cy="266.2" r="1.9"/><circle cx="204" cy="269.1" r="1.9"/></g>
<g fill="#fff" opacity="0.35"><circle cx="79.1" cy="255.5" r="0.8"/><circle cx="108.3" cy="257.5" r="0.8"/><circle cx="130.5" cy="259.8" r="0.8"/><circle cx="152.6" cy="262.1" r="0.8"/><circle cx="181.8" cy="266.2" r="0.8"/><circle cx="204" cy="269.1" r="0.8"/></g>
<g fill="#30a058" stroke="#2a2f33" stroke-width="0.6"><circle cx="79.1" cy="260.7" r="1.9"/><circle cx="108.3" cy="262.1" r="1.9"/><circle cx="130.5" cy="264.2" r="1.9"/><circle cx="152.6" cy="266.2" r="1.9"/><circle cx="181.8" cy="268.1" r="1.9"/><circle cx="204" cy="270" r="1.9"/></g>
<g fill="#fff" opacity="0.35"><circle cx="79.1" cy="260.7" r="0.8"/><circle cx="108.3" cy="262.1" r="0.8"/><circle cx="130.5" cy="264.2" r="0.8"/><circle cx="152.6" cy="266.2" r="0.8"/><circle cx="181.8" cy="268.1" r="0.8"/><circle cx="204" cy="270" r="0.8"/></g>
<g fill="#3a5aa8" stroke="#2a2f33" stroke-width="0.6"><circle cx="79.1" cy="278.1" r="1.9"/><circle cx="108.3" cy="279.3" r="1.9"/><circle cx="130.5" cy="279.4" r="1.9"/><circle cx="152.6" cy="279.4" r="1.9"/><circle cx="181.8" cy="279.4" r="1.9"/><circle cx="204" cy="279.4" r="1.9"/></g>
<g fill="#fff" opacity="0.35"><circle cx="79.1" cy="278.1" r="0.8"/><circle cx="108.3" cy="279.3" r="0.8"/><circle cx="130.5" cy="279.4" r="0.8"/><circle cx="152.6" cy="279.4" r="0.8"/><circle cx="181.8" cy="279.4" r="0.8"/><circle cx="204" cy="279.4" r="0.8"/></g>
<rect x="220.6" y="200.3" width="150" height="106.2" fill="#fff" stroke="#6a6a6a" stroke-width="0.8"/>
<path d="M224.3 206.3L233.8 206.3" stroke="#86b84c" stroke-width="0.8"/>
<circle cx="229.2" cy="206.3" r="1.7" fill="#86b84c" stroke="#2a2f33" stroke-width="0.5"/>
<text x="235.3" y="208.9" font-size="7.5" text-anchor="start" fill="#444" textLength="92.5" lengthAdjust="spacingAndGlyphs">Ti<tspan font-size="4.6" dy="1.6">3</tspan><tspan dy="-1.6">​</tspan>C<tspan font-size="4.6" dy="1.6">2</tspan><tspan dy="-1.6">​</tspan>–PPy in H<tspan font-size="4.6" dy="1.6">2</tspan><tspan dy="-1.6">​</tspan>SO<tspan font-size="4.6" dy="1.6">4</tspan><tspan dy="-1.6">​</tspan> (13 μm)<tspan font-size="3.8" dy="-2.4">118</tspan></text>
<path d="M224.3 217.8L233.8 217.8" stroke="#d4404c" stroke-width="0.8"/>
<circle cx="229.2" cy="217.8" r="1.7" fill="#d4404c" stroke="#2a2f33" stroke-width="0.5"/>
<text x="235.3" y="220.4" font-size="7.5" text-anchor="start" fill="#444" textLength="82.9" lengthAdjust="spacingAndGlyphs">Ti<tspan font-size="4.6" dy="1.6">3</tspan><tspan dy="-1.6">​</tspan>C<tspan font-size="4.6" dy="1.6">2</tspan><tspan dy="-1.6">​</tspan>–LiF in H<tspan font-size="4.6" dy="1.6">2</tspan><tspan dy="-1.6">​</tspan>SO<tspan font-size="4.6" dy="1.6">4</tspan><tspan dy="-1.6">​</tspan> (5 μm)<tspan font-size="3.8" dy="-2.4">35</tspan></text>
<path d="M224.3 229.3L233.8 229.3" stroke="#9a78c0" stroke-width="0.8"/>
<circle cx="229.2" cy="229.3" r="1.7" fill="#9a78c0" stroke="#2a2f33" stroke-width="0.5"/>
<text x="235.3" y="231.9" font-size="7.5" text-anchor="start" fill="#444" textLength="90.8" lengthAdjust="spacingAndGlyphs">d-Mo<tspan font-size="4.6" dy="1.6">2</tspan><tspan dy="-1.6">​</tspan>TiC<tspan font-size="4.6" dy="1.6">2</tspan><tspan dy="-1.6">​</tspan> in H<tspan font-size="4.6" dy="1.6">2</tspan><tspan dy="-1.6">​</tspan>SO<tspan font-size="4.6" dy="1.6">4</tspan><tspan dy="-1.6">​</tspan> (3 μm)<tspan font-size="3.8" dy="-2.4">117</tspan></text>
<path d="M224.3 240.8L233.8 240.8" stroke="#f2c030" stroke-width="0.8"/>
<circle cx="229.2" cy="240.8" r="1.7" fill="#f2c030" stroke="#2a2f33" stroke-width="0.5"/>
<text x="235.3" y="243.4" font-size="7.5" text-anchor="start" fill="#444" textLength="107.7" lengthAdjust="spacingAndGlyphs">d-Nb<tspan font-size="4.6" dy="1.6">2</tspan><tspan dy="-1.6">​</tspan>C–CNT in 1 M LiPF<tspan font-size="4.6" dy="1.6">6</tspan><tspan dy="-1.6">​</tspan> (4 μm)<tspan font-size="3.8" dy="-2.4">145</tspan></text>
<path d="M224.3 252.3L233.8 252.3" stroke="#3aaee0" stroke-width="0.8"/>
<circle cx="229.2" cy="252.3" r="1.7" fill="#3aaee0" stroke="#2a2f33" stroke-width="0.5"/>
<text x="235.3" y="254.9" font-size="7.5" text-anchor="start" fill="#444" textLength="89.7" lengthAdjust="spacingAndGlyphs">d-Ti<tspan font-size="4.6" dy="1.6">3</tspan><tspan dy="-1.6">​</tspan>C<tspan font-size="4.6" dy="1.6">2</tspan><tspan dy="-1.6">​</tspan>–PVA in KOH (5 μm)<tspan font-size="3.8" dy="-2.4">40</tspan></text>
<path d="M224.3 263.8L233.8 263.8" stroke="#5a5e62" stroke-width="0.8"/>
<circle cx="229.2" cy="263.8" r="1.7" fill="#5a5e62" stroke="#2a2f33" stroke-width="0.5"/>
<text x="235.3" y="266.4" font-size="7.5" text-anchor="start" fill="#444" textLength="77.7" lengthAdjust="spacingAndGlyphs">d-Ti<tspan font-size="4.6" dy="1.6">3</tspan><tspan dy="-1.6">​</tspan>C<tspan font-size="4.6" dy="1.6">2</tspan><tspan dy="-1.6">​</tspan> in KOH (10 μm)<tspan font-size="3.8" dy="-2.4">54</tspan></text>
<path d="M224.3 275.3L233.8 275.3" stroke="#ee8a3a" stroke-width="0.8"/>
<circle cx="229.2" cy="275.3" r="1.7" fill="#ee8a3a" stroke="#2a2f33" stroke-width="0.5"/>
<text x="235.3" y="277.9" font-size="7.5" text-anchor="start" fill="#444" textLength="87.6" lengthAdjust="spacingAndGlyphs">Ti<tspan font-size="4.6" dy="1.6">3</tspan><tspan dy="-1.6">​</tspan>C<tspan font-size="4.6" dy="1.6">2</tspan><tspan dy="-1.6">​</tspan>–LiF in H<tspan font-size="4.6" dy="1.6">2</tspan><tspan dy="-1.6">​</tspan>SO<tspan font-size="4.6" dy="1.6">4</tspan><tspan dy="-1.6">​</tspan> (75 μm)<tspan font-size="3.8" dy="-2.4">35</tspan></text>
<path d="M224.3 286.8L233.8 286.8" stroke="#30a058" stroke-width="0.8"/>
<circle cx="229.2" cy="286.8" r="1.7" fill="#30a058" stroke="#2a2f33" stroke-width="0.5"/>
<text x="235.3" y="289.4" font-size="7.5" text-anchor="start" fill="#444" textLength="109.5" lengthAdjust="spacingAndGlyphs">Ti<tspan font-size="4.6" dy="1.6">3</tspan><tspan dy="-1.6">​</tspan>C<tspan font-size="4.6" dy="1.6">2</tspan><tspan dy="-1.6">​</tspan>–HF–KOH in H<tspan font-size="4.6" dy="1.6">2</tspan><tspan dy="-1.6">​</tspan>SO<tspan font-size="4.6" dy="1.6">4</tspan><tspan dy="-1.6">​</tspan> (75 μm)<tspan font-size="3.8" dy="-2.4">115</tspan></text>
<path d="M224.3 298.3L233.8 298.3" stroke="#3a5aa8" stroke-width="0.8"/>
<circle cx="229.2" cy="298.3" r="1.7" fill="#3a5aa8" stroke="#2a2f33" stroke-width="0.5"/>
<text x="235.3" y="300.9" font-size="7.5" text-anchor="start" fill="#444" textLength="133.2" lengthAdjust="spacingAndGlyphs">Ti<tspan font-size="4.6" dy="1.6">3</tspan><tspan dy="-1.6">​</tspan>C<tspan font-size="4.6" dy="1.6">2</tspan><tspan dy="-1.6">​</tspan>–HF in various electrolytes (75 μm)<tspan font-size="3.8" dy="-2.4">145</tspan></text>
<text x="388.7" y="193.5" font-size="8.4" text-anchor="start" fill="#1a1a2a" font-weight="bold">e</text>
<g clip-path="url(#clipE)">
<rect x="388.7" y="200.1" width="152.6" height="106.6" fill="#252525"/>
<path d="M388.7 200L541.3 200L541.3 230L500 226L460 223L420 220L388.7 219Z" fill="url(#eTop)"/>
<g filter="url(#bl1)" opacity="0.6"><ellipse cx="457.2" cy="214.6" rx="2.4" ry="0.9" fill="#484848"/><ellipse cx="477.9" cy="204.8" rx="2.5" ry="1" fill="#7a7a7a"/><ellipse cx="416.5" cy="211.6" rx="1.7" ry="1.1" fill="#727272"/><ellipse cx="494.1" cy="201.1" rx="3.4" ry="1" fill="#333333"/><ellipse cx="482.2" cy="204.1" rx="3.2" ry="0.6" fill="#6a6a6a"/><ellipse cx="393.5" cy="222.9" rx="1.6" ry="0.9" fill="#7a7a7a"/><ellipse cx="455.4" cy="221.9" rx="2" ry="0.8" fill="#7a7a7a"/><ellipse cx="388.7" cy="202.2" rx="2.1" ry="1.2" fill="#5a5a5a"/><ellipse cx="540.3" cy="221.8" rx="2" ry="1.1" fill="#5a5a5a"/><ellipse cx="466.5" cy="200.8" rx="3" ry="0.8" fill="#7a7a7a"/><ellipse cx="517.5" cy="210" rx="3.2" ry="0.6" fill="#6a6a6a"/><ellipse cx="420.1" cy="223.7" rx="2.3" ry="1" fill="#333333"/><ellipse cx="452.2" cy="214.7" rx="3.1" ry="0.8" fill="#727272"/><ellipse cx="401.3" cy="208.6" rx="3" ry="0.7" fill="#333333"/><ellipse cx="425.7" cy="202.6" rx="2.4" ry="0.9" fill="#6a6a6a"/><ellipse cx="492.4" cy="204.9" rx="1.9" ry="1" fill="#7a7a7a"/><ellipse cx="408" cy="216.7" rx="2.3" ry="1.2" fill="#6a6a6a"/><ellipse cx="388.1" cy="222.5" rx="2.7" ry="1.2" fill="#484848"/><ellipse cx="391" cy="204.9" rx="2.7" ry="0.9" fill="#484848"/><ellipse cx="394.4" cy="203.8" rx="2" ry="1.1" fill="#333333"/><ellipse cx="438.3" cy="207.7" rx="1.6" ry="0.7" fill="#6a6a6a"/><ellipse cx="485.4" cy="200.4" rx="2.2" ry="0.9" fill="#3a3a3a"/><ellipse cx="534.7" cy="212.6" rx="1.8" ry="0.8" fill="#7a7a7a"/><ellipse cx="484" cy="208.1" rx="3.1" ry="0.7" fill="#727272"/><ellipse cx="417" cy="219.2" rx="1.9" ry="1.2" fill="#7a7a7a"/><ellipse cx="523" cy="215.7" rx="1.6" ry="0.7" fill="#333333"/><ellipse cx="466.4" cy="206.6" rx="2.9" ry="0.8" fill="#5a5a5a"/><ellipse cx="514" cy="215.5" rx="2.5" ry="1.2" fill="#3a3a3a"/><ellipse cx="537.5" cy="203.3" rx="2.6" ry="1.1" fill="#333333"/><ellipse cx="482" cy="207.3" rx="3" ry="0.6" fill="#727272"/><ellipse cx="450.9" cy="206.5" rx="1.9" ry="0.8" fill="#6a6a6a"/><ellipse cx="475.5" cy="203.4" rx="1.8" ry="0.9" fill="#3a3a3a"/><ellipse cx="438.6" cy="219.1" rx="2.7" ry="0.7" fill="#7a7a7a"/><ellipse cx="393.4" cy="200.5" rx="2.9" ry="1.2" fill="#3a3a3a"/><ellipse cx="391.3" cy="216.5" rx="1.6" ry="0.8" fill="#333333"/><ellipse cx="408.9" cy="201.9" rx="2.6" ry="1" fill="#333333"/><ellipse cx="525.7" cy="219.2" rx="1.8" ry="1.2" fill="#5a5a5a"/><ellipse cx="440.3" cy="202.2" rx="3.3" ry="1.1" fill="#333333"/><ellipse cx="451.8" cy="220.6" rx="2.5" ry="0.6" fill="#484848"/><ellipse cx="489.3" cy="209.9" rx="2.7" ry="0.6" fill="#6a6a6a"/><ellipse cx="485.8" cy="225.8" rx="3" ry="0.8" fill="#333333"/><ellipse cx="500.5" cy="215.1" rx="2.4" ry="0.9" fill="#333333"/><ellipse cx="467.4" cy="213.4" rx="2.7" ry="0.9" fill="#3a3a3a"/><ellipse cx="423.2" cy="218.2" rx="3.1" ry="1" fill="#333333"/><ellipse cx="462.4" cy="223.3" rx="2.1" ry="1" fill="#3a3a3a"/><ellipse cx="419" cy="204.4" rx="2.8" ry="0.9" fill="#3a3a3a"/><ellipse cx="524.4" cy="208.5" rx="2" ry="1" fill="#5a5a5a"/><ellipse cx="511" cy="219.6" rx="3.3" ry="0.8" fill="#727272"/><ellipse cx="477.2" cy="208.2" rx="1.8" ry="0.8" fill="#727272"/><ellipse cx="525" cy="201.1" rx="3.4" ry="0.8" fill="#6a6a6a"/><ellipse cx="413.9" cy="211.7" rx="3.4" ry="1.1" fill="#3a3a3a"/><ellipse cx="446.5" cy="213.5" rx="2.1" ry="1.1" fill="#5a5a5a"/><ellipse cx="538.3" cy="211.8" rx="3.2" ry="0.8" fill="#6a6a6a"/><ellipse cx="481" cy="217.6" rx="2.6" ry="0.8" fill="#3a3a3a"/><ellipse cx="509.1" cy="200.5" rx="2.3" ry="0.7" fill="#727272"/><ellipse cx="505.7" cy="206.9" rx="1.8" ry="0.6" fill="#484848"/><ellipse cx="484.3" cy="211.6" rx="2.6" ry="1" fill="#5a5a5a"/><ellipse cx="444.4" cy="202" rx="1.9" ry="0.9" fill="#727272"/><ellipse cx="415.3" cy="200.3" rx="2.6" ry="0.6" fill="#333333"/><ellipse cx="422.6" cy="220.2" rx="2.9" ry="0.9" fill="#7a7a7a"/><ellipse cx="482" cy="219.7" rx="3.2" ry="1" fill="#333333"/><ellipse cx="422.3" cy="210.7" rx="2.3" ry="0.9" fill="#5a5a5a"/><ellipse cx="418.1" cy="223.1" rx="2.3" ry="0.9" fill="#6a6a6a"/><ellipse cx="522.5" cy="220.7" rx="2.4" ry="1" fill="#3a3a3a"/><ellipse cx="419.3" cy="218.8" rx="3.1" ry="1.2" fill="#484848"/><ellipse cx="406.9" cy="206.3" rx="3.5" ry="1.2" fill="#333333"/><ellipse cx="470.2" cy="220.6" rx="2" ry="1" fill="#3a3a3a"/><ellipse cx="390.4" cy="213.1" rx="2.4" ry="0.9" fill="#6a6a6a"/><ellipse cx="505.5" cy="212.7" rx="1.9" ry="1.1" fill="#6a6a6a"/><ellipse cx="453.6" cy="200.9" rx="2.2" ry="1.1" fill="#7a7a7a"/><ellipse cx="409.5" cy="203.9" rx="3.3" ry="0.9" fill="#7a7a7a"/><ellipse cx="491.7" cy="211.4" rx="2.7" ry="1" fill="#333333"/><ellipse cx="503.9" cy="211.4" rx="2.1" ry="1" fill="#7a7a7a"/><ellipse cx="485.7" cy="213.6" rx="3.3" ry="0.8" fill="#484848"/><ellipse cx="490.7" cy="224.8" rx="3.3" ry="0.7" fill="#484848"/><ellipse cx="518.2" cy="225.2" rx="2" ry="0.9" fill="#7a7a7a"/><ellipse cx="450.9" cy="203" rx="2.7" ry="0.6" fill="#6a6a6a"/><ellipse cx="536.3" cy="213.4" rx="2.6" ry="1.2" fill="#333333"/><ellipse cx="406.7" cy="202.4" rx="1.6" ry="0.9" fill="#727272"/><ellipse cx="451.3" cy="224.9" rx="2" ry="0.9" fill="#333333"/><ellipse cx="407.4" cy="211.3" rx="3.4" ry="1.2" fill="#484848"/><ellipse cx="468.3" cy="202.8" rx="2.7" ry="1.2" fill="#333333"/><ellipse cx="407.8" cy="220.3" rx="1.6" ry="0.7" fill="#6a6a6a"/><ellipse cx="389.8" cy="207.4" rx="2.2" ry="1" fill="#5a5a5a"/><ellipse cx="404" cy="219" rx="3.2" ry="1" fill="#6a6a6a"/><ellipse cx="497.8" cy="218.2" rx="1.5" ry="1" fill="#333333"/><ellipse cx="514.3" cy="216" rx="1.9" ry="1" fill="#7a7a7a"/><ellipse cx="485.7" cy="213.8" rx="2.6" ry="1" fill="#484848"/><ellipse cx="408.9" cy="223.8" rx="3.1" ry="1.1" fill="#5a5a5a"/><ellipse cx="436.3" cy="208.2" rx="1.9" ry="1.2" fill="#727272"/><ellipse cx="523.8" cy="203.5" rx="1.8" ry="0.7" fill="#727272"/><ellipse cx="447.3" cy="211.3" rx="2.6" ry="1" fill="#333333"/><ellipse cx="418.7" cy="216.3" rx="1.5" ry="0.7" fill="#484848"/><ellipse cx="492.4" cy="223.7" rx="1.7" ry="0.9" fill="#3a3a3a"/><ellipse cx="504" cy="213.1" rx="3.2" ry="1.1" fill="#5a5a5a"/><ellipse cx="461.8" cy="200.6" rx="2.6" ry="0.9" fill="#484848"/><ellipse cx="475" cy="203.8" rx="1.7" ry="0.7" fill="#727272"/><ellipse cx="412.2" cy="207.4" rx="1.7" ry="0.6" fill="#5a5a5a"/><ellipse cx="533.6" cy="212" rx="1.7" ry="0.8" fill="#484848"/><ellipse cx="453.2" cy="209.2" rx="2.7" ry="0.6" fill="#727272"/><ellipse cx="495.3" cy="222" rx="2.3" ry="0.8" fill="#727272"/><ellipse cx="444.6" cy="224" rx="1.8" ry="0.9" fill="#7a7a7a"/><ellipse cx="390.4" cy="223.2" rx="3.2" ry="1.1" fill="#484848"/><ellipse cx="527" cy="224.4" rx="2.7" ry="0.9" fill="#7a7a7a"/><ellipse cx="538.4" cy="220.9" rx="2.1" ry="0.7" fill="#3a3a3a"/><ellipse cx="501.7" cy="204.2" rx="1.8" ry="0.8" fill="#333333"/><ellipse cx="470.4" cy="209.6" rx="3" ry="0.8" fill="#333333"/><ellipse cx="498.6" cy="201.8" rx="2.1" ry="0.7" fill="#3a3a3a"/><ellipse cx="523.9" cy="225.8" rx="1.6" ry="0.8" fill="#7a7a7a"/><ellipse cx="535.1" cy="207.8" rx="2.8" ry="0.9" fill="#727272"/><ellipse cx="469.6" cy="210.1" rx="2.8" ry="1" fill="#333333"/><ellipse cx="504.5" cy="225.5" rx="1.7" ry="0.7" fill="#6a6a6a"/><ellipse cx="424.3" cy="211.5" rx="1.6" ry="0.7" fill="#7a7a7a"/><ellipse cx="445.5" cy="202.6" rx="2.1" ry="0.8" fill="#3a3a3a"/><ellipse cx="470.7" cy="210.8" rx="2.6" ry="1.2" fill="#7a7a7a"/><ellipse cx="485.6" cy="221" rx="2.6" ry="1" fill="#6a6a6a"/><ellipse cx="534.2" cy="210" rx="2.3" ry="1.2" fill="#727272"/><ellipse cx="518.9" cy="214.1" rx="1.6" ry="1.2" fill="#7a7a7a"/><ellipse cx="452.4" cy="213.7" rx="2.1" ry="0.9" fill="#7a7a7a"/><ellipse cx="461.9" cy="207" rx="2.8" ry="1" fill="#3a3a3a"/><ellipse cx="392.1" cy="220.1" rx="1.6" ry="0.7" fill="#7a7a7a"/><ellipse cx="503.5" cy="210.1" rx="3" ry="0.6" fill="#3a3a3a"/><ellipse cx="539.3" cy="224.6" rx="3.1" ry="0.7" fill="#6a6a6a"/><ellipse cx="498" cy="206.5" rx="2" ry="0.9" fill="#484848"/><ellipse cx="531.4" cy="218.8" rx="1.8" ry="1.2" fill="#333333"/><ellipse cx="425.5" cy="218.4" rx="2.7" ry="0.9" fill="#6a6a6a"/><ellipse cx="419.2" cy="201.4" rx="1.8" ry="0.8" fill="#7a7a7a"/><ellipse cx="409.4" cy="210.8" rx="2" ry="0.9" fill="#7a7a7a"/><ellipse cx="452.2" cy="220.2" rx="3.1" ry="0.7" fill="#7a7a7a"/><ellipse cx="432.4" cy="203.4" rx="1.7" ry="1.1" fill="#333333"/><ellipse cx="508" cy="216.2" rx="2" ry="1" fill="#3a3a3a"/><ellipse cx="498.9" cy="218.2" rx="2.8" ry="1.1" fill="#727272"/><ellipse cx="417" cy="206.5" rx="3.3" ry="1.1" fill="#5a5a5a"/><ellipse cx="394" cy="201.6" rx="2" ry="0.6" fill="#3a3a3a"/><ellipse cx="393.8" cy="205.8" rx="1.6" ry="0.7" fill="#3a3a3a"/><ellipse cx="491.5" cy="214.3" rx="3.5" ry="0.9" fill="#5a5a5a"/><ellipse cx="442.2" cy="208.8" rx="3" ry="1.1" fill="#333333"/><ellipse cx="399.4" cy="203.1" rx="3.1" ry="1.1" fill="#484848"/><ellipse cx="505.6" cy="211.6" rx="2" ry="1.1" fill="#5a5a5a"/><ellipse cx="444.4" cy="217" rx="2.2" ry="0.9" fill="#7a7a7a"/><ellipse cx="502.2" cy="223.9" rx="2.8" ry="0.9" fill="#333333"/><ellipse cx="458.7" cy="208.4" rx="1.7" ry="0.9" fill="#7a7a7a"/><ellipse cx="462.2" cy="217.8" rx="3.1" ry="0.6" fill="#3a3a3a"/><ellipse cx="435.5" cy="223.7" rx="1.7" ry="0.8" fill="#7a7a7a"/><ellipse cx="498.9" cy="218" rx="3.3" ry="0.7" fill="#3a3a3a"/><ellipse cx="488.6" cy="208.5" rx="2.1" ry="0.9" fill="#6a6a6a"/><ellipse cx="479" cy="223.5" rx="3.3" ry="0.9" fill="#5a5a5a"/><ellipse cx="510.9" cy="207.9" rx="1.9" ry="1.2" fill="#3a3a3a"/><ellipse cx="499.7" cy="213.4" rx="2.2" ry="0.8" fill="#6a6a6a"/><ellipse cx="443.6" cy="210.3" rx="3.1" ry="1" fill="#333333"/><ellipse cx="444.3" cy="210.1" rx="3.2" ry="0.9" fill="#727272"/><ellipse cx="415" cy="219.7" rx="2.1" ry="0.6" fill="#484848"/><ellipse cx="466.9" cy="214.1" rx="2.1" ry="0.6" fill="#7a7a7a"/><ellipse cx="516.8" cy="211" rx="2.6" ry="1.1" fill="#7a7a7a"/><ellipse cx="400.9" cy="202.1" rx="1.7" ry="0.8" fill="#5a5a5a"/><ellipse cx="392" cy="217" rx="3" ry="1" fill="#6a6a6a"/><ellipse cx="425.6" cy="205.7" rx="3.3" ry="0.8" fill="#484848"/><ellipse cx="458.2" cy="209.1" rx="3.4" ry="1" fill="#484848"/><ellipse cx="463.5" cy="214" rx="1.6" ry="1" fill="#5a5a5a"/><ellipse cx="395.1" cy="219.7" rx="2.2" ry="0.6" fill="#5a5a5a"/><ellipse cx="445.8" cy="202.3" rx="3.4" ry="1" fill="#333333"/><ellipse cx="468.1" cy="218.5" rx="1.7" ry="1.2" fill="#484848"/><ellipse cx="528.1" cy="206.4" rx="3.5" ry="0.8" fill="#727272"/><ellipse cx="413.7" cy="205.3" rx="2.6" ry="0.8" fill="#333333"/><ellipse cx="523.6" cy="212.3" rx="1.7" ry="1" fill="#5a5a5a"/><ellipse cx="506.7" cy="204.7" rx="3" ry="0.6" fill="#6a6a6a"/><ellipse cx="461.6" cy="220.8" rx="1.7" ry="0.7" fill="#3a3a3a"/><ellipse cx="421.3" cy="206.1" rx="2.4" ry="0.9" fill="#5a5a5a"/><ellipse cx="455.6" cy="223.3" rx="1.8" ry="1.1" fill="#333333"/><ellipse cx="435.7" cy="214.3" rx="2.6" ry="1.1" fill="#484848"/><ellipse cx="462.2" cy="210.5" rx="2.8" ry="1.1" fill="#3a3a3a"/><ellipse cx="402.1" cy="222.4" rx="1.6" ry="1.2" fill="#333333"/><ellipse cx="510.6" cy="210" rx="3.1" ry="1.1" fill="#7a7a7a"/><ellipse cx="508.5" cy="201.5" rx="3.3" ry="1.1" fill="#727272"/><ellipse cx="526.5" cy="211.7" rx="2.9" ry="1" fill="#727272"/><ellipse cx="412.1" cy="204.1" rx="1.8" ry="1.1" fill="#3a3a3a"/><ellipse cx="511.9" cy="203.4" rx="3.5" ry="0.8" fill="#5a5a5a"/><ellipse cx="469.8" cy="203.9" rx="1.9" ry="0.7" fill="#484848"/><ellipse cx="528.2" cy="203.9" rx="1.7" ry="0.8" fill="#727272"/><ellipse cx="497.6" cy="202.5" rx="2.9" ry="0.6" fill="#333333"/><ellipse cx="502.5" cy="214.1" rx="2.1" ry="1.1" fill="#7a7a7a"/><ellipse cx="451.8" cy="223.8" rx="3.1" ry="0.9" fill="#6a6a6a"/><ellipse cx="393.7" cy="210.7" rx="1.8" ry="1.1" fill="#333333"/><ellipse cx="435.6" cy="208.1" rx="2.6" ry="1.2" fill="#6a6a6a"/><ellipse cx="490.1" cy="201.7" rx="2.9" ry="0.7" fill="#6a6a6a"/><ellipse cx="448.3" cy="212" rx="3.2" ry="1" fill="#484848"/><ellipse cx="389.9" cy="209.8" rx="2.5" ry="0.8" fill="#5a5a5a"/><ellipse cx="405.3" cy="220.1" rx="3.5" ry="1.1" fill="#484848"/><ellipse cx="419.6" cy="216" rx="2.8" ry="1.2" fill="#3a3a3a"/><ellipse cx="502.7" cy="224.8" rx="2.3" ry="1" fill="#484848"/><ellipse cx="427.2" cy="205.2" rx="1.7" ry="0.8" fill="#5a5a5a"/><ellipse cx="429.9" cy="212.2" rx="2.2" ry="1.1" fill="#5a5a5a"/><ellipse cx="402.1" cy="203.7" rx="1.8" ry="1" fill="#6a6a6a"/><ellipse cx="415.4" cy="205" rx="3.2" ry="1" fill="#6a6a6a"/><ellipse cx="401.8" cy="205.9" rx="3.5" ry="0.9" fill="#727272"/><ellipse cx="506" cy="208.9" rx="2.4" ry="0.9" fill="#484848"/><ellipse cx="487" cy="219.9" rx="2.9" ry="0.9" fill="#484848"/><ellipse cx="529" cy="216.2" rx="2.3" ry="1" fill="#5a5a5a"/><ellipse cx="538.2" cy="220.5" rx="3.5" ry="0.9" fill="#5a5a5a"/><ellipse cx="427.9" cy="204.9" rx="2.8" ry="0.7" fill="#3a3a3a"/></g>
<path d="M388.7 216L400 218L420 218L440 221L460 222L480 224L500 224L520 222L541.3 220L541.3 296L520 293L500 289L485 287L472 284L460 279L441 273.5L420 272L400 271L388.7 270.5Z" fill="#4a4a4a"/>
<clipPath id="clipMat"><path d="M388.7 216L400 218L420 218L440 221L460 222L480 224L500 224L520 222L541.3 220L541.3 296L520 293L500 289L485 287L472 284L460 279L441 273.5L420 272L400 271L388.7 270.5Z"/></clipPath>
<g clip-path="url(#clipMat)">
<ellipse cx="525" cy="236" rx="20" ry="9" fill="#9a9a9a" filter="url(#bl3)"/>
<g opacity="0.9" filter="url(#bl1)"><ellipse cx="445.8" cy="257.7" rx="3.5" ry="1.2" fill="#111"/><ellipse cx="481.5" cy="231.7" rx="3.4" ry="1.2" fill="#111"/><ellipse cx="471.9" cy="246.1" rx="2.8" ry="0.7" fill="#111"/><ellipse cx="497.2" cy="293" rx="2.8" ry="1.1" fill="#111"/><ellipse cx="515.8" cy="234.6" rx="3.9" ry="1" fill="#111"/><ellipse cx="418.3" cy="226.2" rx="2.1" ry="1" fill="#111"/><ellipse cx="494.7" cy="244.4" rx="3.8" ry="0.9" fill="#111"/><ellipse cx="458.8" cy="229.2" rx="3.9" ry="0.7" fill="#111"/><ellipse cx="526.3" cy="260.2" rx="2.9" ry="1" fill="#111"/><ellipse cx="428.4" cy="287.3" rx="4" ry="1.2" fill="#111"/><ellipse cx="480" cy="229.1" rx="3.6" ry="0.8" fill="#111"/><ellipse cx="525.2" cy="237.8" rx="2.9" ry="1.2" fill="#111"/><ellipse cx="416.4" cy="260.5" rx="1.7" ry="0.6" fill="#111"/><ellipse cx="415.6" cy="293" rx="3.8" ry="1.1" fill="#111"/><ellipse cx="435.1" cy="269.7" rx="3.3" ry="0.9" fill="#111"/><ellipse cx="478.6" cy="279.5" rx="1.5" ry="0.7" fill="#111"/><ellipse cx="459.6" cy="230.6" rx="2.5" ry="1" fill="#111"/><ellipse cx="414.6" cy="258.5" rx="2.2" ry="1" fill="#111"/><ellipse cx="438.8" cy="267.5" rx="1.6" ry="1.1" fill="#111"/><ellipse cx="410.1" cy="291" rx="3" ry="0.9" fill="#111"/><ellipse cx="450.9" cy="266.2" rx="3.2" ry="1.1" fill="#111"/><ellipse cx="503" cy="255.9" rx="4" ry="1.2" fill="#111"/><ellipse cx="518.8" cy="250.3" rx="2.6" ry="1" fill="#111"/><ellipse cx="526.5" cy="258.9" rx="2.8" ry="0.9" fill="#111"/><ellipse cx="526.4" cy="243.7" rx="1.6" ry="1.1" fill="#111"/><ellipse cx="525.7" cy="274.2" rx="3" ry="1.1" fill="#111"/><ellipse cx="434.6" cy="263.9" rx="1.7" ry="0.7" fill="#111"/><ellipse cx="456.4" cy="257.2" rx="2.5" ry="0.6" fill="#111"/><ellipse cx="494.3" cy="258.9" rx="2.1" ry="0.8" fill="#111"/><ellipse cx="448.5" cy="237.5" rx="1.7" ry="1.2" fill="#111"/><ellipse cx="535.9" cy="269.3" rx="3.7" ry="0.9" fill="#111"/><ellipse cx="511.2" cy="236.4" rx="3.4" ry="1" fill="#111"/><ellipse cx="526.2" cy="227.3" rx="3.5" ry="0.7" fill="#111"/><ellipse cx="470.3" cy="290.4" rx="1.5" ry="0.8" fill="#111"/><ellipse cx="433.8" cy="244" rx="1.7" ry="1.2" fill="#111"/><ellipse cx="512.8" cy="249.4" rx="2.4" ry="1" fill="#111"/><ellipse cx="395" cy="222.3" rx="3.7" ry="0.8" fill="#111"/><ellipse cx="464.3" cy="289.1" rx="3.9" ry="0.9" fill="#111"/><ellipse cx="419.6" cy="241.9" rx="3.8" ry="1.2" fill="#111"/><ellipse cx="417.9" cy="282" rx="2.4" ry="0.9" fill="#111"/><ellipse cx="414.3" cy="285.1" rx="4" ry="0.7" fill="#111"/><ellipse cx="484.8" cy="234.2" rx="3.7" ry="0.6" fill="#111"/><ellipse cx="404.2" cy="273.7" rx="2.3" ry="1.2" fill="#111"/><ellipse cx="521" cy="272.8" rx="1.8" ry="1.1" fill="#111"/><ellipse cx="531.5" cy="252.9" rx="1.7" ry="0.8" fill="#111"/><ellipse cx="435" cy="272.6" rx="2" ry="0.7" fill="#111"/><ellipse cx="424" cy="269.2" rx="3.5" ry="0.9" fill="#111"/><ellipse cx="489.3" cy="285.4" rx="3" ry="0.8" fill="#111"/><ellipse cx="434" cy="288.6" rx="3.2" ry="0.8" fill="#111"/><ellipse cx="485.9" cy="226.7" rx="4" ry="0.9" fill="#111"/><ellipse cx="468.8" cy="259.3" rx="1.6" ry="1" fill="#111"/><ellipse cx="431.5" cy="238.6" rx="3.5" ry="0.7" fill="#111"/><ellipse cx="431.6" cy="275.9" rx="2.1" ry="0.8" fill="#111"/><ellipse cx="471.9" cy="233.8" rx="3.7" ry="1.3" fill="#111"/><ellipse cx="393.1" cy="254.2" rx="3.4" ry="0.9" fill="#111"/><ellipse cx="530.2" cy="257" rx="1.9" ry="1" fill="#111"/><ellipse cx="486.7" cy="246.6" rx="3.1" ry="1.1" fill="#111"/><ellipse cx="467.1" cy="257.4" rx="3.6" ry="1.1" fill="#111"/><ellipse cx="467.6" cy="290.4" rx="1.9" ry="1.1" fill="#111"/><ellipse cx="413.3" cy="265" rx="2.1" ry="0.9" fill="#111"/><ellipse cx="506.3" cy="278.2" rx="3.5" ry="0.8" fill="#111"/><ellipse cx="462.8" cy="236.4" rx="3" ry="0.9" fill="#111"/><ellipse cx="393.4" cy="264.2" rx="3.3" ry="1" fill="#111"/><ellipse cx="521.6" cy="233.3" rx="1.9" ry="0.6" fill="#111"/><ellipse cx="463.9" cy="252.2" rx="2.6" ry="0.8" fill="#111"/><ellipse cx="510.2" cy="225.4" rx="3.8" ry="1" fill="#111"/><ellipse cx="471.1" cy="278.6" rx="2.1" ry="0.7" fill="#111"/><ellipse cx="435.6" cy="223.1" rx="2.3" ry="1" fill="#111"/><ellipse cx="468.4" cy="239.6" rx="3" ry="0.7" fill="#111"/><ellipse cx="513.5" cy="232.7" rx="2.1" ry="0.7" fill="#111"/><ellipse cx="493.7" cy="281.5" rx="3.5" ry="0.6" fill="#111"/><ellipse cx="450.8" cy="247" rx="2" ry="1.3" fill="#111"/><ellipse cx="394.4" cy="256.2" rx="3.4" ry="1.3" fill="#111"/><ellipse cx="410.1" cy="253.7" rx="3.4" ry="0.6" fill="#111"/><ellipse cx="424.8" cy="285.9" rx="1.9" ry="0.9" fill="#111"/><ellipse cx="433.6" cy="251.4" rx="1.7" ry="0.6" fill="#111"/><ellipse cx="540.4" cy="276.5" rx="3.3" ry="0.8" fill="#111"/><ellipse cx="426.7" cy="260.8" rx="2.1" ry="0.9" fill="#111"/><ellipse cx="530.7" cy="246.9" rx="2.3" ry="1.3" fill="#111"/><ellipse cx="481.5" cy="222.9" rx="2.5" ry="1.1" fill="#111"/><ellipse cx="397" cy="245.4" rx="3.2" ry="1.2" fill="#111"/><ellipse cx="478.4" cy="285.6" rx="2.7" ry="0.9" fill="#111"/><ellipse cx="517" cy="248.2" rx="3.5" ry="0.8" fill="#111"/><ellipse cx="441.2" cy="233.6" rx="2.9" ry="0.7" fill="#111"/><ellipse cx="419.2" cy="235.9" rx="2.7" ry="0.8" fill="#111"/><ellipse cx="456.4" cy="293.5" rx="3.2" ry="1.2" fill="#111"/><ellipse cx="419.3" cy="248.3" rx="1.7" ry="1.1" fill="#111"/><ellipse cx="443.5" cy="240.3" rx="1.5" ry="0.7" fill="#111"/><ellipse cx="428.1" cy="249.1" rx="3.8" ry="1.1" fill="#111"/><ellipse cx="429.1" cy="246.7" rx="1.9" ry="1.3" fill="#111"/><ellipse cx="443" cy="276.7" rx="3.3" ry="1.2" fill="#111"/><ellipse cx="391.1" cy="243.8" rx="2.5" ry="0.7" fill="#111"/><ellipse cx="523" cy="244.1" rx="3.4" ry="1" fill="#111"/><ellipse cx="396.4" cy="249.2" rx="2.1" ry="0.6" fill="#111"/><ellipse cx="411.1" cy="264.1" rx="1.6" ry="0.8" fill="#111"/><ellipse cx="452.9" cy="260.3" rx="1.8" ry="1.1" fill="#111"/><ellipse cx="427.8" cy="273.7" rx="3.2" ry="0.7" fill="#111"/><ellipse cx="419.3" cy="240.7" rx="3.3" ry="0.9" fill="#111"/><ellipse cx="447.1" cy="284.1" rx="2.1" ry="0.8" fill="#111"/><ellipse cx="440.8" cy="236" rx="1.6" ry="0.6" fill="#111"/><ellipse cx="484.5" cy="261.9" rx="3.5" ry="1.3" fill="#111"/><ellipse cx="433.6" cy="269.6" rx="3.8" ry="0.8" fill="#111"/><ellipse cx="493.4" cy="269.3" rx="3.9" ry="1.2" fill="#111"/><ellipse cx="423.9" cy="266.8" rx="1.7" ry="0.9" fill="#111"/><ellipse cx="448" cy="224.4" rx="2.5" ry="0.8" fill="#111"/><ellipse cx="464.1" cy="240.7" rx="1.9" ry="0.9" fill="#111"/><ellipse cx="460.7" cy="232.3" rx="3.2" ry="0.8" fill="#111"/><ellipse cx="402.2" cy="245.3" rx="2.6" ry="0.7" fill="#111"/><ellipse cx="477.1" cy="271.9" rx="2.9" ry="1.1" fill="#111"/><ellipse cx="391.5" cy="249" rx="2.4" ry="0.6" fill="#111"/><ellipse cx="449.9" cy="224" rx="2.7" ry="1" fill="#111"/><ellipse cx="459.7" cy="244.1" rx="2.1" ry="0.6" fill="#111"/><ellipse cx="441.1" cy="286" rx="2.9" ry="0.8" fill="#111"/><ellipse cx="490.2" cy="233.8" rx="2.7" ry="1" fill="#111"/><ellipse cx="534.1" cy="246.8" rx="2.9" ry="1.3" fill="#111"/><ellipse cx="506" cy="266.4" rx="3.1" ry="0.9" fill="#111"/><ellipse cx="451.6" cy="240.4" rx="3.6" ry="1.2" fill="#111"/><ellipse cx="446.4" cy="287.3" rx="1.6" ry="0.7" fill="#111"/><ellipse cx="465.6" cy="242.8" rx="2.4" ry="1.3" fill="#111"/><ellipse cx="410.9" cy="234.2" rx="2.1" ry="1.1" fill="#111"/><ellipse cx="423.9" cy="220.1" rx="2.9" ry="0.9" fill="#111"/><ellipse cx="424.6" cy="256.5" rx="3.1" ry="1" fill="#111"/><ellipse cx="483.5" cy="261.5" rx="3.6" ry="1.3" fill="#111"/><ellipse cx="439" cy="245.7" rx="3.7" ry="0.8" fill="#111"/><ellipse cx="497.5" cy="271.5" rx="3.2" ry="1.3" fill="#111"/><ellipse cx="514.1" cy="231.8" rx="3.1" ry="0.9" fill="#111"/><ellipse cx="474.3" cy="247.3" rx="2.2" ry="1.1" fill="#111"/><ellipse cx="469.7" cy="237.5" rx="2.1" ry="0.8" fill="#111"/><ellipse cx="415.2" cy="258" rx="1.8" ry="0.6" fill="#111"/><ellipse cx="398.5" cy="227.6" rx="3.3" ry="0.7" fill="#111"/><ellipse cx="457.1" cy="277.1" rx="2.7" ry="0.7" fill="#111"/><ellipse cx="520.5" cy="284.4" rx="1.6" ry="0.8" fill="#111"/><ellipse cx="465.6" cy="278.9" rx="2.5" ry="1.1" fill="#111"/><ellipse cx="426.5" cy="273" rx="2.3" ry="0.8" fill="#111"/><ellipse cx="504.2" cy="282.4" rx="3.6" ry="1" fill="#111"/><ellipse cx="452.4" cy="272.3" rx="3.1" ry="1.2" fill="#111"/><ellipse cx="510.6" cy="229.3" rx="2.4" ry="1.1" fill="#111"/><ellipse cx="423.3" cy="233.7" rx="1.5" ry="1" fill="#111"/><ellipse cx="532" cy="291.8" rx="1.8" ry="1.1" fill="#111"/><ellipse cx="452.2" cy="266.7" rx="2.5" ry="1.3" fill="#111"/><ellipse cx="539.3" cy="223.6" rx="3.3" ry="0.7" fill="#111"/><ellipse cx="394.5" cy="241.2" rx="3.3" ry="1.3" fill="#111"/><ellipse cx="406.4" cy="244.4" rx="1.6" ry="1" fill="#111"/><ellipse cx="461.9" cy="247.6" rx="2.3" ry="1.2" fill="#111"/><ellipse cx="516.3" cy="241" rx="2.5" ry="1" fill="#111"/><ellipse cx="505.1" cy="292.6" rx="2.5" ry="1.1" fill="#111"/><ellipse cx="471.5" cy="279.2" rx="1.9" ry="0.7" fill="#111"/><ellipse cx="404.4" cy="289.1" rx="2.1" ry="0.9" fill="#111"/><ellipse cx="406.4" cy="244" rx="1.5" ry="1" fill="#111"/><ellipse cx="410" cy="266.3" rx="2.2" ry="0.8" fill="#111"/></g>
<g filter="url(#bl0)">
<path d="M411.2 223C414.1 222.5 416.4 220.1 423.4 221.2M385.8 257.3C387.6 262.4 392.5 265.4 393 267M543.3 246.8C545.1 240.6 549 238.4 548.8 232.9M497.3 232.7C500.4 233.9 507.2 230.5 510.6 229.8M495.9 269.5C500.1 267.8 499 268.2 501.3 269M423.7 247.8C427 246.7 431.6 243.7 432.3 245.3M387.6 291.5C390.3 291.3 391.3 295.1 391.5 292.5M478.3 230C481.3 229.2 482.6 228.7 485.7 227.4M425.4 218.4C428.6 217.6 433.1 218.2 436.4 213.9M470.1 264.2C475.9 267.7 478 265.2 480.2 267M424.7 224.1C425.7 223.6 431.6 220.9 431.7 222.4M403.3 296.1C405.7 294 403.4 297.6 407.6 297.8M515.8 214.2C519.8 211.8 517.1 216.1 520.4 213.6M534 241.7C538.3 236.3 535 235.6 538.9 230.9M391.9 238.8C395.2 238 399.6 236.5 401 235.2M431.4 279.6C437 278.9 436.6 281.3 441.9 278.2M461.6 237.4C462.4 235.7 468.8 239.3 469.4 237.5M467 239.5C471.7 241.1 473.1 239.8 477.6 236.1M392.4 242.8C395.2 243.9 397.4 245.9 402.3 247.6M435.4 277.4C437.4 276.9 440 283.8 442.5 282.9M436.3 274C439 271.7 439.4 270.3 444 267.3M412.6 222.9C415.1 224 421.6 222.4 424.3 226.4M454.8 249.2C453.8 252.1 457.9 254.9 457.6 260.3M442 233.9C442.2 234.1 443.3 230.9 446 232.9M457.2 246.4C464.3 250.2 463.9 248.6 471 251.9M410.3 252.8C414.2 249.7 415 251 416.1 249.1M428.9 290.1C427.7 286.8 431.7 287.3 430 284.1M475.5 255.7C477.6 253.8 477.4 252.6 479.9 255.6M478.6 245.9C479.6 248 481.1 248.7 483.5 248.3M390.6 236.9C395.9 240.5 396.8 238.3 402.8 240M436.8 236.1C439.6 235.2 439.6 238.8 441.1 238.1M531.6 230.5C535.3 226.6 532.5 222.6 534.5 216.7M459.9 279.7C465 283.9 471.5 280.6 473.4 284M416.3 280.6C421.2 281.1 420.3 281.8 425 278.9M498.2 274.4C498.4 275.7 503.2 274.8 507.1 278.6M395.5 268.8C401.1 270.3 406.5 273.2 409.3 271.3M543.4 251.6C549.2 252.7 549.9 249.5 554.3 252.9M528.2 237.5C530.7 234.9 531.9 236.3 535.1 237.7M508 271.9C509.1 271.1 517 276.8 519.3 276.2M508.8 226.3C510.1 229.5 515.9 225.7 519.4 227.6M446 218.9C446.3 218 447.9 216.9 450.5 214.4M543.5 287.7C544.1 285.1 547.1 279.1 552.7 278.4M407.4 251.5C408.4 248.7 412.4 251 411.9 249.7M386.6 215.4C384.4 217.6 386.5 219.6 388.7 220.7M468.2 259C469.4 263.7 472.6 259.9 479.1 264.3M414.2 255.5C417.2 254 422.1 248.5 421.6 246.6M448.4 220.8C451.5 221.9 457.7 218.5 459 215.5M537.9 250.7C541.7 248.3 547.6 249.9 552.2 248M414 227.1C416.2 230.3 421 227.9 425.2 228.7M541.2 251.8C546 255 548.2 255.3 553.8 253.5M392.4 222.3C396.4 220.8 396.3 220.4 395.7 219.9M395.2 224.6C397.8 223.5 400.7 222.1 401.6 224.8M421.6 233C422.3 233.8 430.6 227.9 431 228.6M440.6 227.5C442.8 226 449.8 225.1 451.6 223.1M500.9 271.2C505.3 274.8 508.9 276.8 512.4 279.3M421.4 281.8C425.7 280.7 425.9 279.3 427.3 274.6M398.7 294.1C401.5 293.4 409.2 296.8 410.9 295.5M537.5 266.3C538 265 540.8 260.3 541.5 256.2M537.9 224.5C539.3 224.4 543.2 218.8 547.2 220.4M524.7 230.7C526.6 228.9 531.4 226.3 537.3 226.4M503.2 268.6C507 269.9 507.5 270.8 509.8 271.7M518.4 246.1C518.7 241.2 520.5 238.6 522.4 239.4M537.4 266.1C537.7 263.7 542.1 264.3 542.1 259M484 232.5C489.6 232.6 491.1 231.7 493.9 228M461.7 291.5C466.4 285.5 469.3 285 469.1 282.4M472.5 289.9C476.8 288.6 479.3 286.7 479 289.3M387.1 273.8C389.5 269.3 395 270 395.9 268.1M389.7 226.7C388.2 226.4 391.8 229.7 393.8 228M485.4 228C490.9 225.9 492.3 226 496.9 227.1M450 269.9C451.3 269.1 455.4 268.8 458.5 265.8M503.5 264.9C505.4 262.7 511.4 260.5 514.6 260.4M443.6 276C446.6 272.4 453 276.3 457.4 272.7M399.3 255.8C400 254.6 401.9 256.8 405.1 256.7M487.2 267.3C490.8 264.6 494.2 267.8 495.4 264.3M496.3 218.5C500.7 219.7 503 215.3 510.5 216M501.6 284.8C503.6 281.1 506.2 279 504.5 276.2M541.6 266.7C545.1 265.5 549.8 266.7 550.3 266.9M452.3 289.3C454.5 291.6 459.5 290.6 461.7 292.4M384.9 258.1C387 260.3 391 256.8 392 256.8M472.5 283.8C474.7 279.9 474.3 279.6 478.7 273.8M405.3 292.9C407.3 292 409.1 292.8 413.9 290.6M485.2 293.6C489.5 293.2 489.1 294.1 494.8 294.8M526.4 255.5C525.6 252.8 528.1 251.9 530.8 253.3M512.8 229.3C512.7 231.8 516.1 229.9 521.1 232.3M410.7 233.6C409.7 231.5 411.3 227.6 414.5 225.9M493.8 283.1C495.8 283.6 492.6 282.6 494 278.4M485.2 251.9C487.2 250.6 494 249.6 497.3 250.6M462.7 270.5C465.8 267.6 469.5 269 471.4 267.6M410.1 239.5C409.3 240.3 412.7 236.2 415.9 236.6M484.8 217.8C488.3 214.8 489.5 212.9 490.5 206.1M417.9 230.4C415.7 232 419.2 233.1 420.3 234M415.8 264.3C418.6 262.2 421.5 260.9 428.4 261.5M459.8 295.1C464.2 293.3 466 293.9 470 293.3M409.1 252.5C412.2 246.7 411.8 247.2 411 242.5M536.5 248C542.5 249.5 544.8 253.1 549.6 253.5M524.9 282.1C531.3 286.2 530.4 283.6 536.8 287.3M386.4 258.2C388.9 260.8 391.8 266.9 391.2 272.1M397.1 291.6C400.6 289.6 397.7 290.4 401.8 291M490.2 234.4C495.7 233.8 499 232.2 502.4 233.3M484.3 216.1C486.4 220.3 491.9 222.2 494.2 221.4M482.6 286.8C481.9 285.2 488.5 286.8 489.1 289.6M458.7 220.2C458.2 214.4 458.1 210.9 461.9 207.5M528.4 296.2C530.6 294 530.1 291.4 534.7 290.3M492.8 287.8C494.4 287.5 501.5 285.3 501.9 286.5M406.3 259.5C409.2 257 416.9 258.1 420.7 257.3M432.5 270.9C433.5 268.5 439.2 271.1 438.1 271.6M477.7 214.5C477 217.8 477.2 214.9 479.7 218.4M473.7 279.1C474 282.9 471.8 283.8 474 290.3M448.6 249.1C447.6 244.1 449.8 239.3 452 238.2M414.8 257.4C420.3 257.5 420.3 258.4 423.6 255.9M422.7 257.8C424 253.9 430.4 256.6 433.2 254.9M533.6 289.5C535.8 288 540.1 289 547.6 291.7M504.9 280.9C508.9 283.3 514.2 283.9 518.3 282.9M444 263.4C446.2 263.5 447.9 258.7 453.2 260.3M418.9 241.4C425.1 241.4 426.1 236.6 431.4 235.5M417.4 281.8C419.2 282.1 425.5 278.3 430.5 279M435.1 272.6C439.7 275.3 439.6 276.7 442.7 274.9M420.2 259.3C421.9 257.8 425.3 255.1 428.9 248.9M521 230.8C523.8 230.1 529.6 234.2 530.1 234.2M386.1 246.3C391.8 249 396.6 248.4 399.5 252.7M520.8 283C521.6 279.5 521.2 281.8 522.4 277.1M410.2 227.1C414.3 225.5 410.4 230 414.2 228M400.2 261.4C402.2 268.7 399.4 272 400 275.4" stroke="#808080" stroke-width="1.5" fill="none"/>
<path d="M461.6 243.7C465.4 241.9 461.9 240.5 465.9 241.7M544.5 230C549.2 229.2 547.6 230 553.1 229.6M493 292.6C498.5 289.7 498.9 290.2 500.6 290.1M418.2 264.8C419.7 268.5 418.9 273.4 422.7 274.7M457 268.9C459.7 269.1 461.4 265.6 463.5 268.1M455.9 262.8C457.5 266.6 460.8 263.3 461.1 265.2M517.5 280C521.1 282 518.8 283.3 521.7 282.2M520.9 262.6C522.7 260 528.7 260.4 533.7 257.2M439.4 288.4C439.3 283.9 439.5 280 439.9 277.5M458.4 246.7C459.8 242 462.4 238.3 467.6 235M511.1 238.3C512 234.6 517.5 234.6 520.6 234.6M515.8 274.7C514.4 269.4 517.6 271.6 520.2 265.9M520.5 216.9C520.2 218.4 523.6 214.9 526.7 214.1M453.1 253.1C453.4 254.9 456.4 252.8 462 252.4M449.5 294.2C453.5 295.2 458.3 293.9 464 295.5M478.9 239.5C480.3 237.1 485.6 238.2 491.2 239.7M515.9 279.2C513.8 275.9 517.5 273.6 517.8 267M396.1 278.6C398.4 278.9 399 278.9 404 280.7M395.5 222.7C396.1 222.1 400.1 228.8 404.1 227.8M441.7 262C445.1 261.6 444.7 265.8 448.4 265.6M457.4 253.9C457.9 256.4 457.9 255.9 462.3 255.2M534.8 243.5C536 242.6 541.4 239 540.7 236.7M440.2 232.5C442.6 225.4 445.6 221 444.7 218.9M494.3 284.8C496.1 283.1 497.7 284.2 499.1 285.2M402 286C404 285.7 402.2 283.6 402.2 281.7M405.8 279.3C408.8 276 413.7 276.6 416.9 273M397.1 231.7C403.7 231 403.2 229.1 409.3 229.4M512.7 254.9C511.7 253.5 513.9 253 518.6 254.3M443.5 252.7C448 251.8 447.4 250 450.1 248.3M474.1 254.8C473.8 254.9 478.1 255.5 482.2 255.1M458.4 220.6C464.9 219.2 465.4 217.9 469.5 220.4M421.8 282.6C425.1 278.9 428.7 278.8 431.6 272.8M491.4 222.2C490.5 225.6 494.8 229.7 494.2 229.1M404.2 274C409.8 277.8 412.3 279.7 415.8 278.5M463.2 245.3C466.7 242.8 467.5 245.2 468.3 242.6M403.6 249.4C406.7 254.5 410.5 252.9 410.4 256.9M544.6 257.3C544 258 546.2 259.5 549 258.5M433 231.6C435.2 234 437.2 233.5 441.5 231.8M456.2 243.7C459.4 243.1 460 245.1 463.7 243.4M460.2 286.9C467.7 288 468.8 286.8 474 285.2M431.7 273.8C434.6 276.5 436.7 279.1 441.7 279.2M544 229.5C546.5 228.1 544.4 223.2 545.7 219.2M506.6 275.7C510.8 275 517.2 271.6 518 272.8M490.8 237.3C493.2 236.6 494.6 239.3 496.2 235.9M524.4 232C525.5 232.1 529.5 231.9 535.9 228.8M389.1 279.9C392.9 280.6 393.4 278.5 393.9 276M419.4 268.2C422.2 269.2 427.3 262.3 430.7 263M388.5 295.6C390.9 297.7 390.3 294.9 394 294.6M507.3 260.5C508.6 261.4 512.1 256.2 518.7 256.8M507.3 222.5C509.7 226.2 516.5 231.1 517 231.9M527.3 296.9C529.4 298.7 536.2 299.3 540.1 303.9M534.6 248.4C538.5 247.9 540.6 245.8 542 247.6M539.6 230.1C539.8 226.9 542.4 227.9 541.7 226.2M402.2 266.9C401.5 263.9 405.2 263.9 406.4 265.7M516.7 241.9C522.9 242.9 525.1 245.5 528.5 244M541 237.1C540.8 238.2 545.1 240.2 549.3 240.9M466.2 217.9C472.9 220.1 472.5 218.5 477.6 219.2M398.9 247.5C404.3 251.9 406.5 251.6 408 252.4M509.2 269.2C512.2 270.6 516 269.8 517.8 269.5M516.9 220.8C521.3 218.8 519.9 218.9 522 218.2M427 277.6C430 276.3 432.4 277.1 435.4 279M388.8 253.4C390.9 254.5 390.8 252.9 396.2 256.3M473.6 254.4C478.4 257.2 482.1 257.4 482.8 256.8M458.3 257.8C464.8 255.2 468.5 258.7 471.3 258.1M530.2 217.2C533 216.9 537.6 217.5 544.5 215.4M480 292C479.5 294.7 482 301.3 483.4 304.6M423 279.1C427.1 280.7 426.8 276.6 426.7 275.5M420.4 293.7C423.4 299.9 422.7 299.8 423.2 306.6M518.6 283.4C522.1 284 528.8 279.6 529.5 278.3M414.6 213.1C418.6 214 419.5 217.5 424.9 223.8M537.1 239.4C536 240.2 542.8 237 542.2 239.9M421.4 270.7C421 275 427.3 276.2 426.4 275.2M516.4 233.5C518 234.1 520.3 237 520.3 234.7M404.4 220C404.9 221.9 408 219.9 413.1 223.1M487.6 280.3C486.4 278 486.7 278 490.5 273.5M514.2 254C518.1 256.2 517.4 259 520.4 265.5M509 224.9C513.6 225.1 515 224.3 515 219.6M534.6 265.3C537.7 263.3 540.8 266.5 542.6 263.9M420.2 215.3C424.9 215.1 429.7 215.1 433.5 214.5M473.8 259.4C478.8 261 478 257.7 482 256.2M457.1 228C456.3 224.1 456.3 221.2 458.7 221.7M502.1 262.2C506.8 262.1 507.5 264.2 511.4 265.8M479.2 273.4C482.5 276.3 483.6 278.3 484.6 280.3M470.8 252.6C473.1 256.3 478.2 253.3 480.9 255.7M523.6 216.9C524 215.2 528 216.2 530.8 216.6M498.8 249.7C500.5 248.7 504.8 242.8 508.3 240.2M463 294.4C467 298.6 464.4 299.9 467.5 303.9M426.4 277.4C433 276.8 433.2 275 437.2 273.5M535.9 249.4C537.9 252.3 536.2 253.1 537.2 258.3M532.4 270.8C534.4 272.5 534.7 270.8 540.3 271M407.7 274.5C410.5 273.9 413.2 273.6 414.4 273.9M472.7 221.8C477.8 221.1 478.9 218.6 479.8 220M403 231.6C410 228.7 408.4 228.8 415.5 225.2M391.3 277.4C397 274.7 399.5 277 403.4 274.1M468.6 228.5C472.2 227.3 475.6 226.9 477.9 225.5M400.5 268.5C404.5 268.5 405.6 268.1 410.5 269.7M526.6 239.8C530.3 241.2 534 241.3 535.3 239.3M445 254.6C445.8 250.8 448.3 250.4 453.9 247.6M498.8 248.3C503.6 248.6 502.7 253 506.6 255M537.8 270C538.8 272.9 544.1 274.8 546.1 274M425.1 252.5C426.5 250.5 429.7 248.7 435.4 251M531.1 291.1C531.9 290.3 535 288.5 535.8 291.6M517.1 221.9C516.5 224.6 523.6 225 522.8 222.1M489.1 241.8C490.5 239.5 490.1 235.3 494.7 234.3M410.7 253C416.1 257.2 417.6 255.2 422.1 257.2M388.1 252.4C394.3 252.6 397.3 250.3 400.1 253.1M450.5 284.6C453.6 285.4 453.9 280.4 453.7 280.9M521.5 294.5C524.5 295.8 526.7 296.8 526.3 295.5M439.7 215.4C444.6 218.6 450.3 217 453.2 220.8M454.6 231.2C458.9 229.5 459.9 231.8 466.6 229.5M518.6 279C520.4 280.3 522.8 274.8 527.5 277.1M479.7 274.8C487.3 277.1 488.2 274.4 493.7 276.2M511 292.1C514.3 292.3 516 293.3 516 292.6M532.6 231.4C534.5 229.5 539.3 231.2 540.9 232.2M515.8 219.4C521.2 216.9 525 215.1 529.9 217.3M456.3 227.5C460.4 226.1 459.1 225.4 461.3 228.2M495.8 286C495.6 288.5 498.3 290.5 498.5 291.7M484.5 213.5C484.3 211.6 486.4 212.5 491.8 212.5M421.3 290.6C424.7 292.1 431.5 289.7 434.1 290.6M493.5 252.4C495.8 254.1 503.8 255 507.9 255.2M399.1 265.6C398.2 267.2 398 272.1 400.4 277.5M436 225.5C437.9 226.4 447.3 226.2 448.7 227.9M478.3 273.9C480.1 271.9 480.9 269.3 485.1 270.9M404.3 235.6C409.4 231.5 412.6 229.8 415.6 230.2M399 236.7C405.3 235.9 405.6 235.3 410.2 237.2M422.3 235.1C428.3 234.2 427.7 236.6 433.3 238.9M499 274.9C504.1 275.5 504.9 279.6 512 281.6M522.9 296.9C526.9 290.5 527.9 292.4 533 286M444.7 259.8C448 259.8 451.7 259.3 458.9 255.4M411.9 281.5C416.4 276.4 417.1 274.3 417 268.8M527.9 278.6C532.3 274.6 534.3 276.8 535.4 274.1M423.2 219.9C428.7 218.7 430.6 215.6 437.4 217.5M453.6 237.9C455.8 233.7 456.8 230.5 456.3 228.1M485.7 268.1C484.3 266.9 485.6 273.1 486.7 271.9M430.9 232.1C431.4 233.3 433.5 229.7 432.2 227M488.5 294C491 298.8 493.1 301.3 491.9 300.7M510.7 272C515.8 269.5 519.8 274.9 524.9 273M448.6 279.6C448.8 285.6 450.5 288.8 448.6 293.2M408.9 268.3C409.4 266.1 415.9 257.7 415.4 255.9M422.6 275.3C423.6 276.1 429.4 277.1 433.5 278.3M525.6 294C529.3 295.1 533 291.5 536.7 289.1M456.6 253.3C456.6 254.6 460.6 253.1 462.4 253.9M515.4 264.3C517 265.9 519.5 266.4 521.1 263.1M471.5 262.7C473.6 266.8 480.6 265.3 483.6 267.9M451.9 271.3C458.9 271.8 460.5 273.8 465.9 273.1M394.5 289.9C396.9 286.7 401.8 287.5 404.5 286M450.4 230.7C453.8 226.5 455.4 224.6 458.5 224.8M394.8 245.6C398.4 250 397.3 252.5 399.3 254M402.1 288.6C404.5 287.9 403.5 291.5 404.2 294.8M465.2 277.3C467 272.6 469.5 271.1 470.4 272.2M526.2 226.7C531.2 225.8 535.2 228 536 227.4M476.5 230.8C476.7 230.2 477.5 233.6 480.2 232.6M425.8 287.6C431.4 288.1 431.9 287 434.6 288M427.7 259.2C432.6 257 429.8 262.6 434.9 260.8M426.4 267C429 267.9 433.2 265.6 433.4 267.1M475.3 286.4C479.2 287.5 486.9 290.3 488.5 291.5M509.2 263.8C510.7 261.2 515.1 266.4 516 264.9M423.5 274.4C427.7 271.7 433.9 272.3 437.7 272.6M442.8 282.6C444.2 277.5 448.7 276 448 274M520 263.7C522.3 264.5 525 267.2 526.1 269.6M542.6 221C545.3 219.1 543.7 216.8 548.6 218M503.2 271.4C503.9 272.4 510.7 271.1 512.2 273.9M468.2 246.8C467.6 247.5 472.5 248.3 474.2 249.4M443.3 287.1C444.9 289.3 447 294 444.9 300.4M433.8 278.1C432.4 279.2 433.4 280.2 434.8 283.8M424.8 228.8C427.4 233.2 429 237.6 432.6 237.9M512.9 258.3C517.4 260.6 521.4 257.5 527.3 256.9M492.6 216.4C491.1 211.9 491.8 210.6 493.8 206.7M486 255.2C492.2 258.6 496.6 258.1 497.7 256.8M414.5 282.4C417.5 284.3 421.1 282.3 422.4 284.8M455.7 255.1C458.1 252.6 457.1 252.1 460.7 253.9M493.8 242.5C498.5 243.5 499.7 241.8 503.1 244.4M388 230.6C387.7 231.5 387.3 226.2 390 224.7M542.6 230.8C548.7 228.9 549.4 231 557.1 233.7M538.4 222.7C542.1 222.3 540.1 226 542.1 225M387.1 226.6C391.7 229.2 394.5 224 394 225.5M510.1 217.2C513.7 219.9 511.6 219.1 514.9 218.2M541.4 254.6C546 254.6 545.2 258.3 547.9 257.2M518.8 224.3C519.8 222.4 523 222.2 527.9 223.1M428.2 253.4C427.2 250.1 432.4 254.8 433.2 251.4M443.2 239.6C446.4 242.5 446.5 243.2 452.5 245.1M469.9 288C471.2 287.1 480.9 291.7 481.8 293.6M522.7 238.5C526.5 241.2 528.6 244.6 536 243.6M450.8 218.1C451.4 220.1 455.1 218.7 457.4 218.5M429.7 213.2C431.9 217.1 433.6 220.7 433.4 224.1M466.9 272.6C467.5 272.9 468.9 276.7 473.2 282.5M396.4 252.8C400 251.8 403.9 248.8 409.8 250.2M404 225.4C407 225 416.4 228.1 418.3 228.7M544.9 268.4C546 273.3 553.9 271.1 557.1 274.8M432.5 278.1C435.7 274.3 442.2 272.2 445.2 272.5M530.2 229.3C531.6 229.7 531.8 228.4 534.5 231M388.7 213.8C392.3 213 393.9 213.8 395.5 213M534 260.1C537.6 260.6 534.5 262.2 538.8 261M416.7 281.5C419.2 282 420.4 280.8 421 278.6M409.1 261.9C411.2 259.8 413.4 260.4 413.2 263.3M444.9 277.1C447 279.5 445.4 286.5 445.7 291.3M530.5 229.5C534.1 231.9 539 232.4 544.2 234.9M408.5 234.4C413.4 237.9 416.1 236.6 417.5 238.6M531.8 252.2C537.5 248.7 542.3 246.3 544.5 246.4M430.1 260.7C429.5 258.4 436.4 260.6 436.9 261M467 225C466.4 225.8 470.6 227.3 471 226.7M499.9 263.6C499.3 263.8 507.5 263.6 507 263.9M477.9 252.3C480.1 254.4 485.7 250.3 491.1 249.9M454.1 220C452.7 217.8 457 218 458.8 217.1M442.2 240.9C447.7 239.9 444.8 236.3 450.2 231.5M511.9 261.6C515.2 263.8 516.8 262.1 522.1 263.4M474.7 277.4C477.2 277.7 483.4 277.7 485.1 275.2M404 235.7C407.8 235 409.7 236.8 416.5 241.5M436.7 276.7C439 278.2 444.8 281 449.1 283.4M423.6 236.2C427.8 234.7 429 234 435.1 234.9M447.9 259.1C448.5 255.4 454.4 260.2 453.4 256.5M543.7 255.1C545.4 250.6 548 249.1 545.9 247M509.3 239.3C511.3 241.1 516 244.6 518.5 247.8M507.6 236.8C510.5 238.4 513.1 233.5 518.9 233.6M428.8 221C430.5 218.3 439.7 220.4 441.5 221.4M442.5 259.1C445.5 255 451.8 253.3 452.7 253M533.7 227.2C537.8 227.1 537.1 234.2 538.6 233.3M525 246.7C530.4 247.9 534.4 244.7 536.8 246.2M540.8 282.7C541.8 284.7 547.5 280.3 546.9 283.5M410.6 287.3C416.6 288 418.1 288.6 422.6 290.6M478.2 279.7C477.4 283.5 478.1 288.7 481 290M531.6 215.1C535.5 219.1 534.9 223.8 539.1 224.3M388.4 239.1C390.2 240.6 397.4 243.3 400.2 244.3M470.9 230.7C471.8 231.9 475.7 225.6 479.9 227.4M485.7 245.6C488.2 246.7 488.8 242.8 491.6 244.8M435.9 243.6C435.4 243.5 439.4 244.5 441.7 242.2M525.6 225C528.7 223.7 533.1 221.1 538.1 219.8M535.4 218.4C540.3 218 540.8 218.6 547.8 221.1M530 219.3C532.5 218.9 535.5 223.6 539.4 223.5M486.7 233.7C487.5 236.3 489.9 242.4 494.5 243.9M429.5 284.5C434.6 284.5 439.4 289.1 442.2 287.6M484.1 263.5C484.3 265 484.5 270.5 484.7 274.8M392.4 249.4C399.1 253.1 400.5 253.7 403.6 252.1M496.8 216C503.2 215.5 503.9 211.8 507.9 210M508.1 285.4C510 285 510.8 288.1 514.1 291.7M510.4 266C513.1 262.2 517.7 266.6 521.1 263.5M529.3 245.5C530.9 242.2 533.7 246.2 537.5 242.6M448.7 226C452.7 224.7 455.5 224.2 461.1 226.8M522.4 230.9C526.7 229.9 524.5 228.4 527.2 231.1M474.3 223.7C481.2 226.1 482.6 223.1 487.3 224.2M533.2 247.4C537.9 247.5 537.9 249.7 539.9 247.4M445.1 214.1C450 214.1 450 213.4 452.2 215.6M470.2 225.3C472.9 223.6 474.8 222.4 474.4 221.7M515.8 276.6C519.5 273.2 519.4 275.8 520.2 274.6M466 279.4C472.7 279 474.7 281.9 480.6 282.7M446.8 253.4C448.7 252 451.5 253.9 450.7 251.7M498.3 280.1C504.1 276 506.3 277.4 507.5 275.1M394.2 257.7C394.2 259.5 400.9 258.5 399.9 257.7M386.8 258.2C386.1 259.1 391.4 260.3 392.9 260M417.6 274.4C420.9 272.6 425.9 272.3 429.9 274M515 232.7C518.5 235.3 518.3 232.5 519.1 232.2M442.2 258.4C441.2 260.2 441.7 261.6 445.5 264.9M521.7 262.4C527 265.3 525.8 271.4 530.8 274.1M516.1 263.2C521.7 268.9 520.6 269.1 525.7 273.6M527.7 233.7C529.6 234.7 528.4 236.9 528.6 241.9" stroke="#c4c4c4" stroke-width="1.15" fill="none"/>
<path d="M484.3 236.3C485.9 242.9 489.6 243.5 490.2 250M400.2 292.8C404.9 290.4 405.1 292.1 406.8 294.2M443.5 268.2C445.9 265.3 452.6 264 453.5 263.6M437.9 275.3C442.2 274.2 442 274.8 447.6 277.7M453.4 213.8C456.1 216.3 456.6 215.6 460.9 213.1M505.4 222.1C508.5 220.5 516.1 218 519.6 218.9M470.3 285.7C471.4 285.2 479.3 284 481.2 283.3M512.8 284.8C519.2 283.5 521.2 283.9 526.6 287M439.7 285.6C439.7 285.9 441.7 284.3 441.7 280M543 230.4C542.7 235.1 545.5 234.9 547.3 241.6M434.8 265.9C436.7 264.1 443.7 266.5 446.3 267.1M402.7 292C407.5 292.3 407.8 289.4 408.2 289.3M449.7 225.3C453.4 224 458.2 225.9 462.4 222.2M446.4 275.4C447.5 273.9 449.1 277.6 451.1 274.7M481.5 294.5C483.4 298.2 482.7 303.1 481.4 302.9M397.4 227C399.7 230.4 406.3 231.8 408.7 231.7M459.5 214.3C457.3 218 461 223.7 461.5 228M408.9 294.5C414.7 297 415.5 290.9 419.6 293.5M526.8 292.5C530.8 291.3 537.5 291.1 540.7 292.5M448.4 231.7C450.7 229.8 454.8 231 455.8 230.8M452.5 285.2C453.8 287.3 462 282.6 463.7 282.8M532.5 230.7C534.6 233.1 541.1 228.2 545.7 231.2M444.8 269.6C448 271.2 450.1 270.9 456.4 269.4M472.8 241C478.4 240.4 481.9 242.9 484 246.4M499.7 237.4C499.9 236.1 503.4 239 504.9 242M521.6 264.2C525.8 267.5 529.7 264.3 531.2 266.5M415.8 272.2C417.3 272.5 421.9 272.5 420.7 272.2M432.3 241.2C435.8 248.6 436.1 253.5 434.8 255.7M462.8 262.6C468.8 261.4 469.7 267.9 472.9 266.4M514.1 213.1C520.8 213.9 522.5 215 528.2 217.3M508 235C511.6 234.8 511.5 237.5 515.7 235.2M408.1 234.3C409 235.9 411.6 235.9 415.5 236.4M525.2 228.5C529 229 531.9 227.7 532.7 227M506.9 233.5C511.1 232.2 519.3 235.6 521.8 232.3M501 292.7C501.4 295.1 501.9 290.4 506.2 292.1M387.9 277.1C387.7 277.6 389.7 272.5 393.2 274.6M437.5 289.8C443.9 289.6 445.7 296.4 449.7 295.4M411.5 273.8C416.1 272.6 412.9 275.2 417.2 274.2M531.7 270.5C536.8 271.3 540.2 274.8 541.7 278.6M532 214.9C536.9 216.7 543 214.5 544.6 212.9M430.8 293C430.2 295.8 431.7 301.2 431.9 305.4M522.9 258C523.2 259 525.7 258 529.4 259.6M393 219C393.7 219.1 399.2 221.6 401.7 220.7M488.6 270.2C486.8 263.6 489.4 259.5 490 258.5M446.9 252.4C450.9 254.8 453.9 259.2 459 258.2M541.8 241.7C543.4 237.4 542.6 234.3 542 233.1M537.5 242.6C539.2 241.4 540.5 237.1 539 235.5M441.7 258.1C443.3 256.5 451.4 259.8 452.8 256.7M522.4 230.7C526.7 230.6 526.4 232.7 528.6 235.3M514.8 260.9C513.1 263.7 512.7 268 514.9 267.3M477.9 221C483.4 222.4 485 217.2 492.6 218.8M496.2 227.8C499 228.3 502.6 229.5 507.7 229.8M459.5 256C464.1 258.5 468.3 259.1 470.9 260.6M446.8 255.3C451.8 257.8 451.7 252.7 456.7 255.6M471.5 256.2C477.5 254.8 480.5 255.6 480.6 259.7M446.7 266.7C451.1 268.6 456.8 267.8 461 267.6M458.7 288.6C460.8 285.3 462.8 284.7 464.2 281.6M426.2 281.4C424.5 284.3 426.2 281.9 429.4 284.8M391 260.3C394.5 259.1 395.3 264.6 397.5 262.5M491.8 265.7C492.2 266.4 497.3 267.3 501 267.8M519.9 265C519.9 270 523.1 268.9 527.9 273.9M388.6 286.7C392 286.7 393.8 282.7 392.7 284.9M430.2 229C431.7 226 437.4 226.1 440.7 225.8M394 265.8C395.7 264.9 403.2 267.5 404.5 263.9M442.9 271.3C445.1 271 443.7 269.7 448.7 273.4M539.8 217.9C544.5 217.6 545.5 217.3 547.9 213.8M513.4 246.1C516.1 245.1 522 243.1 521.8 245.7M396.8 269.9C400.1 270.5 401.9 266.7 404.9 267M527 230.9C527.7 229.9 535.1 234.7 535.7 234.4M492.7 231C496.8 230.1 493.6 233 497.2 231.4M390 267.8C392.1 266.7 398.4 270.9 401.7 272.7M512 216.4C517.8 217.4 516.7 214.4 521.3 212.9M411.1 275.5C414.8 275.4 415.9 270.3 418.6 271.2M411.3 282.4C413.2 280.9 419.4 283.8 419.2 283.6M497.1 263.2C501.7 268.8 501.2 269.5 504.1 271.4M450.1 243.8C454.5 244.4 455.8 243.4 457.1 240.2M487.5 234.1C493.9 231.3 494.6 228.5 499.2 229.1M486.7 287.9C489.1 289.2 493.9 285.8 498.7 284.9M430.8 248.7C433 250.8 432.6 247.5 435 249.6M396.5 279.5C397.1 275.5 393.8 273.1 396.6 270.6M540.5 243.2C539.6 248.2 540.7 249.9 544.5 252.7M429 278.4C430 280.1 434.6 283.6 441.1 282.8M401.2 224.6C401.7 227.6 410.1 224.1 411.6 224.9M517 295.1C523.8 294.4 523.1 295.2 529.5 298.4M528.9 289.4C529.8 289.4 535.1 289.2 536.2 286.6M457.6 252.3C462.7 251.1 465.6 249.8 469.1 251.8M446.3 243.2C451.6 244 448.8 239.7 454.2 239.6M434.1 224.5C434.7 223.1 436.3 227.9 441.8 227.2M500.6 279.4C504.5 280.1 504.1 277.6 507.7 277.1M466.1 217.3C471.6 217.2 473.6 213.5 474.5 215.5M501.7 241.6C502.6 241.2 503.9 240.7 505.9 239.7M386.7 269.6C388 266.9 390.9 268.4 394.9 269.6M502.4 238.8C503.8 238.9 504 233.1 502.4 232.3M534.5 223.4C535.8 221.6 541.3 221.6 545.6 220.9M440.3 296.3C440 296.9 445.3 292 444.7 294M507.5 255.8C510.3 256.7 512.9 258.8 518.8 256.1M491.1 271.3C495 272.8 496 271.5 495.8 271.9M456.6 270.2C457.3 268.1 457.5 267.5 460.4 268.6M495.9 289.7C496.7 286.6 496.9 279.8 496.4 276.2M484.6 295.8C491.4 297 494.8 298 496.3 300.1M436.5 242.5C439.8 239.3 439.7 240.3 443.1 240.2M480.3 248.5C482.7 246.3 487.2 240.8 493.1 241.3M404.4 273.2C405.5 273.5 413.8 269.2 415.6 267.2M388.5 271.8C394.3 269.6 399.3 273.3 402.7 272.2M508.2 261.6C509.3 264 512 263.4 515.3 261.8M484.1 293.3C484.1 289.9 488.2 291.7 490.3 291.6M392.3 244C390 243.9 392.3 236.7 393.6 236.9M416.8 249.4C418.5 247.6 419.4 252.9 421.2 251.9M420 229.7C420.8 230.2 426.1 225.6 429.8 227.5M534.6 284.3C537.2 284 546.5 279.2 548.5 279.2M460.2 295.9C467.5 297.1 471.5 297.8 473.7 294.9M483.3 218.3C481.6 221.9 481.5 224.4 484.5 227.8M451.2 281.7C452.1 281.8 455.5 287.6 455 289.9M473.1 226.4C477.3 228.4 477 226.9 482.9 229.9M519.9 292.3C521.7 291.3 525.4 289.8 524.3 291.2M504.3 236.5C506.1 236.2 511.8 233.7 513.9 228.8M537.6 261.9C537.7 259.5 543.2 261.1 545 263M411.7 267C415.2 267 417.2 270.5 420.2 270.6M499.8 228.6C502.9 232.4 499.3 232.4 500.1 238M474.2 220.6C479.3 222.3 476.8 224.2 481.1 225.9M410.6 287.6C412.7 291 412 290.6 416.4 288.9M541.4 289.3C542.3 288.9 547 292.4 550.3 290.6M427.5 265.1C430 269.2 436 266.6 439.8 268.8M428.4 215.5C429.9 213.4 434.3 212.7 441.6 215.4M401.7 290.6C406.5 288.3 408.2 286.3 410.7 287.9M457.3 255.8C458.3 251.5 461.6 253.1 467.4 251.3M518.9 279C518.4 279.5 520.3 280.3 523.9 280.4M450.2 283.7C456.7 287.2 460.5 287.7 464 289.2M540.5 250.7C544.9 250.6 545.7 251.6 547.8 251.8M385.7 236.4C389.8 240 390.7 236.7 390.7 238.8M525.8 218.7C531.1 222.4 530.7 222 536.1 223.6M502.7 246.8C505 250.5 508.9 251.4 513.3 250.6M537.3 270.4C538.4 270.1 540 270.4 542.8 271.7M396 248.5C397.3 250.7 401.3 251.7 406.3 252.2M396.8 240.7C401.7 238.2 401.9 238.6 408.4 240.5M413.3 237.1C417.8 233.6 416.7 235.5 422 232.6M406.6 254.2C409.8 254.4 409.8 257.9 415.7 256.9M502 263.5C505.1 263.4 506.2 259.9 512.5 259.9M506.8 253.2C508.7 253.5 510.1 252.4 516.2 255.9M538.8 286.8C542.9 285.8 544.5 290.3 547.8 291M533.7 264.7C534.6 262.9 541.1 264.8 542.2 264.8M483 282.8C483.6 278.7 487.8 272.5 490.6 270.4M488.5 252.1C487.7 255.2 493.5 256.2 493.8 257.3M503.8 227.7C504.7 228.3 512 228.2 514 231.9M385.6 227.5C384.9 229.5 389.8 227.4 389.5 229.4M392.1 215.4C392.7 216.9 398.5 216.4 401.5 218.7M409.1 253.6C411.5 254.6 415.2 255.7 420.5 254.6M404.7 227.9C409.9 230.1 410.3 227.7 412.8 229.1M397 252.8C396.2 249.1 394.9 240.8 397.6 238.7M411.5 225C416.6 222.1 417.9 222.4 418.7 224.5M538.8 228.7C540.3 227.2 546.8 227.5 549.8 229.2M432.3 229C437 225.2 438.3 228.2 444 226.7M465.6 296.1C470.8 297 477 291.7 478.2 293.4M514.5 215C516.2 218 522.3 218.6 522.3 224.3M487.1 293C491.7 292.5 493.8 288.5 495.7 290.2M443.1 230.8C447.1 232.3 451.7 230.6 456.3 229.7M449.9 273.9C450.9 272.8 452.6 274.1 456.7 273.5M518.3 283.1C517.3 281.2 515.4 279.3 518.4 278.8M515.6 253.3C518.5 249.8 523.3 251.8 527.8 250.3M446.4 239.3C446.7 243.5 453.5 245.1 455.3 250.6M521.3 294.9C522 296 521.4 299.6 524.9 298.4M482.5 254.6C484.5 252.5 493.6 252.6 496.5 253.3M400.5 239.7C400.7 240.2 408.7 239 409.5 240.7M427.2 245C428.6 247.7 425.9 251.3 428.9 255.9M512.7 228.4C516.4 229.7 518.2 227 519.6 230.5M542.5 244.5C546.8 246.1 549.4 247.2 551.7 249.6M417.2 255.9C416.4 253.6 419.2 255.8 421.6 256M396.5 223.2C394.4 226.1 398.9 229.7 396.7 237.3M386 239.9C391.4 239.7 395.7 235.5 396.8 236.7M521.4 282.9C526.8 279.2 530.5 280.9 531.9 277.5M495.2 246.8C497 245.8 501.1 252 506.1 250.5M463 250.8C465.7 252.1 467.7 255.3 471.3 261.4M472 294.7C474.9 295.5 477.5 297.2 479.5 294.4M466.3 264.8C471.3 267.2 473.1 267.6 475.3 272.4M456.9 270.2C459 271.1 464 270.2 463.3 273.4M486.1 243.4C490.1 242.2 493.3 242.7 499.2 238.4M443.5 216.2C446 214.6 449.8 215.1 453.2 214.9M467.4 261.5C468.6 264.8 470.9 261.7 476.1 263.6M445.7 259.2C447.9 258.3 451.3 260.1 456.5 262.1M478.5 245.2C477.3 242.8 482.2 245 482 242.8M405.6 272.2C406.5 273.1 406.4 269.5 406.4 268M475.2 289.6C480.5 292 481.2 289.9 484.1 291.9M427.5 250.4C427.1 250.3 429.9 250.6 434.8 247.1M540.4 276.5C542.7 277.9 551.5 272.7 554.3 274M501.8 267.9C506 268.1 502.9 267.4 507.9 268M529.9 287.5C528.3 283.7 531.2 278.3 529.6 273.2M393.7 292.9C396.2 293.7 396.6 293.2 398.2 295.9M431 245.1C430 243.7 434 245.5 436.7 242.2M499.9 296.5C502.5 295.8 504.3 300.3 507.4 298.5M398.8 284.4C402.7 283.5 404.6 290.4 406 290.1M518.4 214.1C522 213.3 521.9 209.6 525.5 210.4M527.2 296.6C532.8 296.8 531.3 303.2 536.6 303.4M393.9 243.2C393.6 244.6 399.3 240.1 398.7 239.4M441.5 216.1C442.8 213.8 447.6 206.9 451.2 206.4M500.6 261C500.6 259.8 504.8 259.5 508.1 259.6M441.9 253.3C440.8 250.5 447.8 248.3 446.8 245.2M489 237.5C492.7 234.6 493.4 236.8 498.8 235.3M491.2 227.8C495.5 223 498.5 224.8 503.4 222.2M517.9 213.4C522.9 213.8 519.8 215.3 524 213.9M401.2 287.4C401.6 287 402.6 289.4 407.4 286.3M543.5 267.2C548.7 264.2 550.1 262.6 552.8 258.8M391.4 228.3C394.4 226.9 399.8 227.5 404.7 230.1M537.6 265.7C538.6 263.2 543.4 266.8 544.6 265.9M421.1 296.4C426 298.1 425.6 294.9 427.7 297.7M391.3 260.3C396.8 259.5 395.1 258.4 398.8 258.9M540 259.2C541 259.3 549.8 261.8 551.7 263.3M499.3 243.2C497.9 244.6 505 244.4 503.4 245.5M410.4 251.8C412.9 252.9 420.3 251.1 422.8 249.5M403.6 280.7C407.6 280.1 406.4 273.4 411.2 272.3M495.6 243.1C496 239.5 499.6 239.3 500.9 233.4M413.7 268.3C417.8 268.6 419.4 265.5 423.3 265.2M484.8 240.7C483.2 238.9 487.6 231.7 486.2 228.5M425.5 235.6C429.4 233.4 431.8 234.6 438.3 229.8M510.3 216.6C514.5 217 517.5 214 519.3 216.5M461.2 274.2C463.8 272.5 466.4 270.2 468.8 272.4M402.6 253.2C409.1 254.7 409.7 258.9 415.1 258.6M445.1 218.2C446.6 223.5 453 225.1 455.2 228.2M513.7 252.7C514.5 254.9 517.2 260.1 515.4 260.6M501.5 281.5C506.6 285.4 508.5 283.6 514.8 287.5M541.4 270.8C546.7 270 547.8 267.1 550.6 267.8M422.3 238.5C422.8 241 429.2 239 428.7 241.5M503.5 290.4C502 284.3 504.7 280.5 507.5 278.9M421.6 281.2C426.4 281.8 425.7 281 431.6 281.3M392 287.8C395.4 286 395.4 290.9 399.6 291.1M467.4 295.6C469.2 299.1 473.4 293.9 477.4 297.3M450.8 230.3C455.2 227.1 459.7 226.9 463.8 224.4M514.3 251.2C514.8 255.4 522.3 259 522 260M539.6 266.5C543.1 265.5 547.3 266.7 548.4 266.3M455.6 223.2C459.2 225 460 226.6 459.3 225.9M434.6 227.5C436 233.7 435.6 233.9 436 237.7M542.7 223.3C542.3 223.9 543.9 223.6 546.8 224.7M491.7 219.3C493.5 218.1 496 216.7 502.4 214.7M457.7 272C458.5 270.6 464.9 269.4 464.1 272.3M388.8 279.8C393 280.3 393.3 277.1 392.8 272.6M411.9 242.2C412.7 245.9 417.6 247.9 416 249.6M422.7 228.7C425.8 230.7 426.4 231.7 427.6 232.9M536 220.6C539.4 219.7 541.8 217.8 546.3 215.6M417.2 274.6C423.6 275.8 426.4 273.1 427.6 270.4M508.3 295.7C510.6 297.9 511.3 300.1 512.8 301.5M495.4 288.7C501.3 288.8 503.9 291.5 504.3 288.6M508.2 222.4C510.3 223.8 510.5 223 513.1 223M435.9 218.4C438.6 214.6 439.6 210.3 437.7 210.5M456 266.4C455.5 273.5 455.9 274.5 459.9 278.8M387.8 230.1C391 234.1 385.4 235.9 388.4 237.8M428.8 273.3C429 271.9 429.1 270.5 432.8 272.7M487 280.5C491.2 282.4 493.5 282.8 498.8 281.4M434.1 264.1C437.9 266.8 439 266.8 438.9 265.9M475.4 218.2C476.4 217.4 479 222.7 479.3 223.2M397.1 213.2C403.3 212.9 406.3 209.7 408.7 210.4M466.6 295.8C467.8 292.2 470.1 293.3 473.8 287.5M444.5 286.9C452.1 284.1 454.4 290 458.6 287.5M442.4 225.8C446.4 228.8 449.4 227.5 452.7 227.9M438 294.4C440.5 291.6 441.2 292.6 443 294.3M419.6 231.9C423 228.6 425.9 229.6 425.9 229.3M508.4 244.6C512.8 243.6 511.5 243.3 513.6 241.8M408.4 285.4C410.9 282.6 417.6 282.6 419.7 278M542.1 230.6C545.8 230.5 550.6 229.3 552.3 230.8M527.1 254.1C532.3 252.1 531.9 253.5 536.4 250.3M436.1 216.1C438.2 214.7 435.3 213.8 437.5 208.4M516.5 248.4C517.1 250.5 519.6 252.1 517 253.1M495.2 225.5C495.3 226.5 498.8 228.1 499.6 232.9M412.4 296.3C415.1 292.4 414.8 294 414.4 292.8M543.4 296C542.4 294.5 548.7 296.5 547.2 294.5M453.8 259.5C461.1 256.8 463.3 259.6 467.4 255.5M475.2 276.7C477 274.4 481.2 273.9 480.4 275.2M437.8 237.8C441.1 240.8 446.7 237.1 450 237.9M525.2 236.5C527.6 234.2 530.4 237.5 532.3 238.6M415 290.8C416.1 288.5 418.4 290.8 421.2 286.6M511.9 275.7C516.1 276.6 513.1 276.4 516 275.9M498.4 271.6C500.6 269 506.3 268.4 510.4 269.8M409.2 230.8C409.6 228.7 413.8 227.8 416.9 230.1M391.2 275.1C394.1 277.9 396.1 272.5 396.7 274.9M461.9 272.3C463.8 273 466.9 277.2 471.8 275.8M393.8 288.8C394.8 292 395.5 294.7 395.9 299.2M444.6 240.1C447.2 239.3 445.4 241.6 449.3 239.2M490.9 275.5C497 278.8 496.5 278.2 501.4 280.1M484.3 259.1C485.6 265.8 486 267.3 486.3 271.3M528.1 262.4C534.9 261.8 537 261.7 540.2 261M483.9 292.8C490 293.3 493.1 293.2 494.5 290.5M474 259.1C478.7 260.4 477.9 258.9 479.9 258.2M421.7 217.5C421.1 219.1 422.8 222.9 425.4 223.3M425.8 247C425 245.4 429.5 250.2 429.9 250.3M462.2 233.3C467.1 232.3 468.5 232.7 472.2 235.8M440.2 236.1C438.7 235.3 439.8 232.1 443.1 226.9M441.7 221.2C442.6 216.2 444.1 215.1 444 210.1M531 286.5C529.3 288.7 534.6 292.7 532.7 294.1M407.8 228.8C407.2 228.1 415.5 227.6 414.9 227.7M504.9 267.1C505.6 266.6 506.7 263.9 508 262.4M536.7 233.1C540.5 234.2 547.9 235.9 550.4 237.4M417.2 255.7C418.7 258.3 425.9 260.7 429 260.8M477.7 222.2C479.8 221.9 480.6 221.6 485.6 221.1M396.4 242.8C398.3 239.7 402.6 240.5 404.9 239.9M470.1 232C474.6 228.3 476.9 232.1 481.8 229.8M451.7 232.7C454 232.9 460.4 230.2 462.4 230.9M475.3 261.1C476.9 265.4 479 263.9 480.2 268.8M402.6 269.3C403.4 267 406.5 272.1 406.8 271.2M499.2 217.2C502 220.6 504.7 218.6 505 219.8M464.6 245.4C465.3 242.9 467.9 243.2 471.8 242M459.6 283.2C465.5 284.1 468.6 283 469.2 284.2M449.6 251.2C452 253.1 455.7 248.6 454.4 249.5M397.8 221.8C398.4 221.7 400.7 222 404.9 218M519 223C520.6 224.4 523.4 220.5 528.2 220.2M499.8 286.4C500.6 287 504.5 283.2 508.4 282.9M428 243.5C431.6 240.5 432.6 243 434.8 241.4M456.3 250.9C456.5 251.3 459.1 252.4 461.2 252.2M539.8 231C537.6 225.4 539.6 224.8 540.1 218M541.9 284.2C547.8 287.4 547.3 285.3 553 288.3M539.3 239.4C544.6 239.9 545.9 235.2 548.6 232.2M476.5 233.3C478.6 231.1 482.1 233.6 483.3 234.4M446.2 249C448.7 247.1 456.2 246.5 459.2 243.2M495.3 283.1C499.9 283.1 499.4 280.8 505.6 281.9M523.4 264.8C528.7 266.1 530.6 264.5 530.7 265.3M510.9 228.2C514.3 232.5 514 233.7 519.8 238.4M412.8 248.7C411.8 244.3 411.8 244.7 414.5 240.7M542.7 240C543.8 241.2 548.7 238 554 234.8M392.1 289C391.8 288.2 396.3 289.6 395 291.9M449.6 281.9C452.3 285.3 449.4 286.3 451.7 285.4M384.6 236.8C384.9 237.6 385.2 245.7 385.1 246.2M489.7 281.6C491.7 280.4 495.9 278.4 501.5 280.8M517.9 275.9C519.6 275.5 526 272.6 526.8 272.3M517.2 285C518.6 285.5 526.7 277.6 529.4 277.8M512.2 291.5C517.6 294.6 523.3 290.6 525.5 293.1" stroke="#f6f6f6" stroke-width="1.2" fill="none"/>
</g>
</g>
<path d="M446.5 272Q445 284 431 292M489 286Q487 295 492 299M470 283Q474 290 479 293" stroke="#d8d8d8" stroke-width="0.9" fill="none"/>
<path d="M392.8 301H415.6" stroke="#fff" stroke-width="1.1"/>
</g>
<text x="396" y="298.4" font-size="6.6" text-anchor="start" fill="#fff" textLength="16.5" lengthAdjust="spacingAndGlyphs">1 μm</text>
<text x="367.9" y="324.1" font-size="8.4" text-anchor="start" fill="#1a1a2a" font-weight="bold">b</text>
<g clip-path="url(#clipB)">
<rect x="377" y="319.4" width="168" height="94.6" fill="#000"/>
<rect x="377" y="388" width="168" height="26" fill="url(#bGrey)"/>
<path d="M377 353.8L381 354L385 354.2L389 354.4L393 354.5L397 354.6L401 354.7L405 354.8L409 354.8L413 354.8L417 354.7L421 354.6L425 354.5L429 354.3L433 354.1L437 353.9L441 353.7L445 353.5L449 353.4L453 354.2L457 354L461 353.9L465 353.8L469 353.8L473 353.8L477 353.8L481 353.9L485 354L489 354.2L493 354.3L497 354.5L501 354.7L505 354.9L509 355.1L513 355.3L517 355.5L521 355.6L525 355.7L529 355.8L533 355.8L537 355.8L541 355.7L545 355.7L545 392L500 392L470 390L440 391L377 392Z" fill="#5a5a5a"/>
<path d="M377 356.4L381 356.6L385 356.8L389 357L393 357.1L397 357.2L401 357.3L405 357.4L409 357.4L413 357.4L417 357.3L421 357.2L425 357.1L429 356.9L433 356.7L437 356.5L441 356.3L445 356.1L449 356L453 356.8L457 356.6L461 356.5L465 356.4L469 356.4L473 356.4L477 356.4L481 356.5L485 356.6L489 356.8L493 356.9L497 357.1L501 357.3L505 357.5L509 357.7L513 357.9L517 358.1L521 358.2L525 358.3L529 358.4L533 358.4L537 358.4L541 358.3L545 358.3" stroke="#e8e8e8" stroke-width="4.5" fill="none" filter="url(#bl1)"/>
<path d="M377 362.2L380 362.2L383 362.1L386 361.8L389 361.6L392 361.4L395 361.4L398 361.5L401 361.7L404 361.7L407 361.6L410 361.4L413 361L416 360.5L419 360L422 359.7L425 359.6L428 359.7L431 359.7L434 359.3L437 358.8L440 358.7L443 358.7L446 358.6L449 358.5L452 358.5L455 358.6L458 358.9L461 359.4L464 359.8L467 360.2L470 360.4L473 360.4L476 360.2L479 359.9L482 359.5L485 359.3L488 359.1L491 359.3L494 359.8L497 360.2L500 360.4L503 360.3L506 359.8L509 359.1L512 358.4L515 357.6L518 357.5L521 357.6L524 357.9L527 358.3L530 358.7L533 359L536 359.1L539 359.1L542 359L545 358.9" stroke="#1a1a1a" stroke-width="1.0" fill="none" filter="url(#bl1)"/>
<path d="M377 363.2L380 363.3L383 363.4L386 363.4L389 363.4L392 363.3L395 362.9L398 362.5L401 362.2L404 361.9L407 361.8L410 361.9L413 362.2L416 362.6L419 363L422 363.3L425 363.4L428 363.3L431 363L434 362.1L437 361.4L440 361.4L443 361.7L446 362.1L449 362.4L452 362.6L455 362.5L458 362.3L461 361.9L464 361.5L467 361.1L470 360.9L473 360.8L476 360.9L479 361L482 361.1L485 361L488 360.8L491 360.7L494 360.8L497 360.9L500 361L503 361.2L506 361.4L509 361.6L512 361.6L515 361.5L518 361.7L521 361.7L524 361.6L527 361.5L530 361.5L533 361.5L536 361.7L539 362L542 362.3L545 362.4" stroke="#c4c4c4" stroke-width="2.4" fill="none" filter="url(#bl1)"/>
<path d="M377 366.3L380 366.8L383 367.1L386 367.3L389 367.2L392 367.1L395 366.8L398 366.7L401 366.7L404 366.8L407 366.9L410 367L413 367L416 366.7L419 366.3L422 365.8L425 365.3L428 364.8L431 364.3L434 363.6L437 363L440 363L443 363.2L446 363.4L449 363.4L452 363.4L455 363.3L458 363.2L461 363.3L464 363.6L467 364.1L470 364.6L473 365.1L476 365.4L479 365.6L482 365.5L485 365.3L488 364.9L491 364.8L494 365L497 365.3L500 365.6L503 365.7L506 365.6L509 365.1L512 364.4L515 363.5L518 363L521 362.6L524 362.4L527 362.4L530 362.6L533 362.9L536 363.3L539 363.6L542 363.8L545 363.8" stroke="#151515" stroke-width="1.1" fill="none" filter="url(#bl1)"/>
<path d="M377 367.8L380 368.3L383 368.8L386 369.2L389 369.5L392 369.6L395 369.5L398 369.4L401 369.2L404 369.1L407 369.1L410 369.3L413 369.5L416 369.6L419 369.6L422 369.4L425 369L428 368.5L431 367.8L434 366.7L437 365.7L440 365.4L443 365.6L446 365.8L449 366L452 366.1L455 366.1L458 366L461 365.8L464 365.8L467 365.8L470 366.1L473 366.5L476 367L479 367.5L482 367.8L485 367.9L488 367.8L491 367.8L494 367.9L497 368L500 368.1L503 368.2L506 368.2L509 368L512 367.7L515 367.1L518 366.8L521 366.3L524 365.8L527 365.4L530 365.2L533 365.2L536 365.4L539 365.7L542 366L545 366.3" stroke="#e0e0e0" stroke-width="2.2" fill="none" filter="url(#bl1)"/>
<path d="M377 371.1L380 370.9L383 370.6L386 370.2L389 369.8L392 369.6L395 369.5L398 369.7L401 370.1L404 370.6L407 371.1L410 371.5L413 371.7L416 371.8L419 371.8L422 371.7L425 371.8L428 372L431 372L434 371.6L437 371.1L440 371L443 370.9L446 370.6L449 370.1L452 369.6L455 369.1L458 368.7L461 368.6L464 368.5L467 368.6L470 368.6L473 368.6L476 368.5L479 368.2L482 368L485 367.8L488 367.8L491 368.1L494 368.9L497 369.8L500 370.6L503 371.1L506 371.3L509 371.2L512 370.7L515 370.2L518 370.1L521 370.1L524 370.2L527 370.4L530 370.6L533 370.7L536 370.6L539 370.3L542 369.8L545 369.2" stroke="#202020" stroke-width="1.2" fill="none" filter="url(#bl1)"/>
<path d="M377 374.4L380 374.2L383 374.1L386 374.1L389 374.2L392 374.2L395 374.1L398 373.8L401 373.4L404 373L407 372.6L410 372.3L413 372.2L416 372.4L419 372.7L422 373.1L425 373.4L428 373.7L431 373.5L434 372.7L437 371.9L440 371.7L443 371.8L446 372.1L449 372.5L452 372.9L455 373.2L458 373.4L461 373.3L464 373.1L467 372.7L470 372.2L473 371.9L476 371.7L479 371.6L482 371.6L485 371.7L488 371.7L491 371.7L494 371.8L497 371.8L500 371.7L503 371.5L506 371.3L509 371.2L512 371.2L515 371.2L518 371.7L521 372L524 372.2L527 372.2L530 372.2L533 372.1L536 372.1L539 372.3L542 372.5L545 372.9" stroke="#b4b4b4" stroke-width="2.4" fill="none" filter="url(#bl1)"/>
<path d="M377 377.9L380 377.6L383 377.3L386 377.1L389 377L392 377L395 377.1L398 377.1L401 377.1L404 376.8L407 376.4L410 375.9L413 375.4L416 375.1L419 374.9L422 374.9L425 375.2L428 375.5L431 375.6L434 375.1L437 374.4L440 374.2L443 374.1L446 374.1L449 374.3L452 374.5L455 375L458 375.4L461 375.9L464 376.1L467 376.2L470 376L473 375.7L476 375.3L479 374.9L482 374.7L485 374.6L488 374.6L491 374.7L494 375.2L497 375.4L500 375.3L503 374.9L506 374.4L509 373.8L512 373.2L515 372.9L518 373.2L521 373.6L524 374L527 374.4L530 374.6L533 374.7L536 374.7L539 374.7L542 374.7L545 374.9" stroke="#101010" stroke-width="1.2" fill="none" filter="url(#bl1)"/>
<path d="M377 377.6L380 377.4L383 377.3L386 377.4L389 377.7L392 378.2L395 378.8L398 379.3L401 379.7L404 379.9L407 379.9L410 379.8L413 379.8L416 379.8L419 380L422 380.2L425 380.4L428 380.6L431 380.3L434 379.3L437 378.1L440 377.3L443 376.7L446 376.2L449 375.9L452 375.8L455 375.9L458 376L461 376.1L464 376.1L467 376L470 375.8L473 375.7L476 375.6L479 375.7L482 376.1L485 376.6L488 377.2L491 377.9L494 378.7L497 379.3L500 379.5L503 379.4L506 379.2L509 378.7L512 378.3L515 378L518 378.1L521 378.2L524 378.1L527 377.9L530 377.5L533 376.9L536 376.3L539 375.8L542 375.5L545 375.4" stroke="#d8d8d8" stroke-width="2.2" fill="none" filter="url(#bl1)"/>
<path d="M377 381.8L380 381.9L383 381.9L386 381.9L389 381.6L392 381.3L395 380.9L398 380.5L401 380.3L404 380.3L407 380.6L410 380.9L413 381.4L416 381.7L419 382L422 382L425 382L428 381.9L431 381.6L434 381L437 380.5L440 380.5L443 380.9L446 381.2L449 381.3L452 381.1L455 380.8L458 380.4L461 379.9L464 379.6L467 379.4L470 379.3L473 379.4L476 379.5L479 379.5L482 379.4L485 379.2L488 378.9L491 378.8L494 379L497 379.4L500 379.8L503 380.3L506 380.6L509 380.8L512 380.8L515 380.5L518 380.5L521 380.4L524 380.2L527 380.2L530 380.3L533 380.5L536 380.8L539 381L542 381.1L545 381" stroke="#1a1a1a" stroke-width="1.1" fill="none" filter="url(#bl1)"/>
<path d="M377 384.2L380 384.3L383 384.2L386 383.9L389 383.6L392 383.2L395 383L398 382.9L401 383L404 383.4L407 383.8L410 384.2L413 384.4L416 384.6L419 384.5L422 384.4L425 384.3L428 384.3L431 384.1L434 383.6L437 383.2L440 383.3L443 383.4L446 383.4L449 383.2L452 382.8L455 382.4L458 382L461 381.7L464 381.6L467 381.7L470 381.9L473 382L476 382L479 381.9L482 381.6L485 381.3L488 381.1L491 381.2L494 381.7L497 382.4L500 383L503 383.5L506 383.8L509 383.7L512 383.4L515 382.8L518 382.6L521 382.5L524 382.5L527 382.6L530 382.8L533 383.1L536 383.2L539 383.2L542 383L545 382.7" stroke="#a8a8a8" stroke-width="2.4" fill="none" filter="url(#bl1)"/>
<path d="M377 387.2L380 387.6L383 387.8L386 387.8L389 387.6L392 387.4L395 387.2L398 387.1L401 387.1L404 387.3L407 387.5L410 387.6L413 387.5L416 387.3L419 387L422 386.5L425 386.1L428 385.8L431 385.4L434 384.8L437 384.2L440 384.3L443 384.5L446 384.6L449 384.5L452 384.4L455 384.3L458 384.2L461 384.3L464 384.5L467 384.9L470 385.4L473 385.8L476 386L479 386L482 385.8L485 385.5L488 385.2L491 385.2L494 385.5L497 385.9L500 386.2L503 386.4L506 386.3L509 385.9L512 385.2L515 384.4L518 384L521 383.7L524 383.5L527 383.6L530 383.9L533 384.2L536 384.5L539 384.8L542 384.8L545 384.8" stroke="#181818" stroke-width="1.0" fill="none" filter="url(#bl1)"/>
<path d="M377 389.3L380 389.2L383 389.2L386 389.4L389 389.5L392 389.6L395 389.5L398 389.2L401 388.8L404 388.4L407 388.1L410 388L413 388.1L416 388.3L419 388.7L422 389L425 389.3L428 389.3L431 389L434 388.1L437 387.3L440 387L443 387.1L446 387.4L449 387.8L452 388.1L455 388.4L458 388.4L461 388.2L464 387.9L467 387.5L470 387.2L473 387L476 386.9L479 387L482 387.1L485 387.3L488 387.2L491 387.2L494 387.4L497 387.4L500 387.3L503 387.2L506 387.2L509 387.2L512 387.2L515 387.1L518 387.5L521 387.6L524 387.6L527 387.5L530 387.4L533 387.3L536 387.3L539 387.5L542 387.7L545 388" stroke="#f0f0f0" stroke-width="2.0" fill="none" filter="url(#bl1)"/>
<path d="M495 379L498 378L506 389L502 391Z" fill="#f4f4f4" filter="url(#bl1)"/>
<path d="M526.9 409.7H537.5" stroke="#fff" stroke-width="1.5"/>
</g>
<rect x="485.8" y="320.2" width="58.6" height="30.5" rx="2.2" fill="#e8e8e8" stroke="#555" stroke-width="0.7"/>
<path d="M492.4 334L500 330.1L518.2 329.4L521.4 327.4L542.9 328.3L537.5 333.9L539.6 339.8L530 344.1L500 341.9L492.4 337.1Z" fill="#e6b010" stroke="#b68600" stroke-width="0.4"/>
<path d="M496 334.2L536 334.6M497 338.6L537 339.2" stroke="#c08c00" stroke-width="0.8" fill="none"/>
<path d="M530 324.2Q533.5 327.5 529 331.2L501.5 330.8Q500 331.5 501.5 332.2" stroke="#2e2e36" stroke-width="0.9" fill="none"/>
<path d="M533.2 335.4Q530 334.5 526 334.5L489.5 334.5Q486.6 336 489.5 337.7L531 337.7Q536.5 338.5 538.8 341.5L539.1 343.2" stroke="#2e2e36" stroke-width="0.85" fill="none"/>
<path d="M537.3 341.8L539.2 344.4L541 341.6" stroke="#2e2e36" stroke-width="0.9" fill="none"/>
<text x="368.2" y="422.9" font-size="8.4" text-anchor="start" fill="#1a1a2a" font-weight="bold">c</text>
<g clip-path="url(#clipC)">
<rect x="377.2" y="417.5" width="167.4" height="95.5" fill="#0c0c0c"/>
<rect x="377.2" y="417.5" width="167.4" height="30" fill="url(#cTop)"/>
<path d="M377.2 440L420 440L460 446L500 446L544.6 448L544.6 500L520 500L505 503L490 506L470 506L450 504L430 503L410 500L395 496L377.2 495Z" fill="#444"/>
<clipPath id="clipCb"><path d="M377.2 440L420 440L460 446L500 446L544.6 448L544.6 500L520 500L505 503L490 506L470 506L450 504L430 503L410 500L395 496L377.2 495Z"/></clipPath>
<g clip-path="url(#clipCb)">
<g opacity="0.9" filter="url(#bl1)"><ellipse cx="455.4" cy="495.9" rx="1.9" ry="1.3" fill="#202020"/><ellipse cx="467.4" cy="460.4" rx="1.6" ry="1.4" fill="#202020"/><ellipse cx="457.7" cy="472.3" rx="2" ry="2.2" fill="#202020"/><ellipse cx="385.4" cy="464.7" rx="2.5" ry="1.5" fill="#202020"/><ellipse cx="539.4" cy="467.3" rx="2.4" ry="2.5" fill="#202020"/><ellipse cx="464.3" cy="461.3" rx="2.5" ry="2.6" fill="#202020"/><ellipse cx="516.6" cy="465.7" rx="1.6" ry="2.5" fill="#202020"/><ellipse cx="427.3" cy="452.6" rx="2.3" ry="2.3" fill="#202020"/><ellipse cx="439.5" cy="493.8" rx="3.4" ry="2.1" fill="#202020"/><ellipse cx="525.2" cy="481.6" rx="1.7" ry="2.1" fill="#202020"/><ellipse cx="419.9" cy="494.1" rx="3.3" ry="1.9" fill="#202020"/><ellipse cx="495.4" cy="450.8" rx="2.7" ry="2.1" fill="#202020"/><ellipse cx="531.3" cy="452" rx="1.9" ry="2.3" fill="#202020"/><ellipse cx="479.9" cy="473.6" rx="3.4" ry="1.3" fill="#202020"/><ellipse cx="523.2" cy="454.4" rx="2" ry="2.1" fill="#202020"/><ellipse cx="385.6" cy="491.6" rx="2.1" ry="2.3" fill="#202020"/><ellipse cx="477.9" cy="462.6" rx="3.1" ry="2.5" fill="#202020"/><ellipse cx="509.8" cy="453.3" rx="2.4" ry="1.3" fill="#202020"/><ellipse cx="452.4" cy="464.1" rx="2.6" ry="2.4" fill="#202020"/><ellipse cx="502.2" cy="493.2" rx="1.6" ry="1.9" fill="#202020"/><ellipse cx="446.9" cy="489.4" rx="3.3" ry="1.2" fill="#202020"/><ellipse cx="521.9" cy="466.9" rx="1.6" ry="2.1" fill="#202020"/><ellipse cx="466.9" cy="502.8" rx="3.1" ry="1.9" fill="#202020"/><ellipse cx="508" cy="498.7" rx="2.5" ry="1.6" fill="#202020"/><ellipse cx="486.7" cy="496.5" rx="2.9" ry="2.1" fill="#202020"/><ellipse cx="404.5" cy="489.5" rx="2.7" ry="2.2" fill="#202020"/><ellipse cx="454.2" cy="450.2" rx="2" ry="2" fill="#202020"/><ellipse cx="403.2" cy="466.6" rx="2.3" ry="1.4" fill="#202020"/><ellipse cx="424.3" cy="473.6" rx="3.3" ry="2.2" fill="#202020"/><ellipse cx="394.1" cy="470.3" rx="3.1" ry="1.2" fill="#202020"/><ellipse cx="496" cy="488.9" rx="2" ry="1.2" fill="#202020"/><ellipse cx="428.9" cy="466.7" rx="2.8" ry="1.3" fill="#202020"/><ellipse cx="404.9" cy="489.1" rx="1.6" ry="2" fill="#202020"/><ellipse cx="439.5" cy="467.1" rx="2.3" ry="1.7" fill="#202020"/><ellipse cx="510.4" cy="500.2" rx="2.6" ry="2.2" fill="#202020"/><ellipse cx="518.8" cy="454.2" rx="2.4" ry="1.2" fill="#202020"/><ellipse cx="503.9" cy="499" rx="1.8" ry="1.8" fill="#202020"/><ellipse cx="481.4" cy="478.3" rx="1.6" ry="1.8" fill="#202020"/><ellipse cx="433.9" cy="482.3" rx="3.3" ry="1.3" fill="#202020"/><ellipse cx="467.8" cy="474.3" rx="2.3" ry="1.5" fill="#202020"/><ellipse cx="452.8" cy="454.7" rx="2.8" ry="1.6" fill="#202020"/><ellipse cx="523.5" cy="461.9" rx="1.9" ry="1.5" fill="#202020"/><ellipse cx="499.2" cy="495.9" rx="3.2" ry="1.9" fill="#202020"/><ellipse cx="484.2" cy="468.3" rx="2.6" ry="1.4" fill="#202020"/><ellipse cx="523.6" cy="472.2" rx="2.5" ry="1.3" fill="#202020"/><ellipse cx="463.3" cy="459.2" rx="3.5" ry="1.3" fill="#202020"/><ellipse cx="436.5" cy="452.5" rx="1.9" ry="1.9" fill="#202020"/><ellipse cx="388.4" cy="484.1" rx="2.7" ry="2.3" fill="#202020"/><ellipse cx="434.4" cy="484.2" rx="2.2" ry="2.2" fill="#202020"/><ellipse cx="542.9" cy="458.2" rx="2.9" ry="2.3" fill="#202020"/><ellipse cx="418.6" cy="450.8" rx="2.5" ry="1.9" fill="#202020"/><ellipse cx="479.7" cy="491.4" rx="2.2" ry="2.3" fill="#202020"/><ellipse cx="496.7" cy="462" rx="2" ry="1.8" fill="#202020"/><ellipse cx="521.1" cy="497.9" rx="2.6" ry="1.9" fill="#202020"/><ellipse cx="460.1" cy="490.6" rx="1.5" ry="2.2" fill="#202020"/><ellipse cx="463.7" cy="480.1" rx="3.2" ry="1.4" fill="#202020"/><ellipse cx="463" cy="502.2" rx="2" ry="2.1" fill="#202020"/><ellipse cx="423.6" cy="491.8" rx="2.8" ry="1.4" fill="#202020"/><ellipse cx="400.3" cy="467.8" rx="2.4" ry="2.3" fill="#202020"/><ellipse cx="535.4" cy="479.5" rx="1.7" ry="1.8" fill="#202020"/><ellipse cx="535.6" cy="452.4" rx="2.4" ry="1.6" fill="#202020"/><ellipse cx="485.6" cy="460.1" rx="1.6" ry="1.5" fill="#202020"/><ellipse cx="465.2" cy="472" rx="3.2" ry="1.5" fill="#202020"/><ellipse cx="486.3" cy="500.8" rx="1.6" ry="1.9" fill="#202020"/><ellipse cx="411.9" cy="470" rx="2" ry="2.3" fill="#202020"/><ellipse cx="420.2" cy="504" rx="1.9" ry="1.6" fill="#202020"/><ellipse cx="484.3" cy="455.1" rx="1.8" ry="1.7" fill="#202020"/><ellipse cx="488.5" cy="494.8" rx="2.7" ry="1.6" fill="#202020"/><ellipse cx="471.6" cy="504" rx="2.2" ry="1.4" fill="#202020"/><ellipse cx="383.5" cy="473.8" rx="3.4" ry="2.5" fill="#202020"/><ellipse cx="493.8" cy="461.2" rx="2.3" ry="1.5" fill="#202020"/><ellipse cx="450.7" cy="491.9" rx="1.6" ry="1.9" fill="#202020"/><ellipse cx="413.1" cy="483.3" rx="3.1" ry="2.3" fill="#202020"/><ellipse cx="435.4" cy="499.1" rx="1.5" ry="1.6" fill="#202020"/><ellipse cx="401.8" cy="487" rx="2.5" ry="2" fill="#202020"/><ellipse cx="386.5" cy="453.9" rx="3" ry="2.1" fill="#202020"/><ellipse cx="531.6" cy="472.7" rx="2.7" ry="1.8" fill="#202020"/><ellipse cx="524.3" cy="464.8" rx="2.5" ry="2.3" fill="#202020"/><ellipse cx="439.6" cy="472.7" rx="1.7" ry="2.5" fill="#202020"/><ellipse cx="461.2" cy="474.8" rx="1.8" ry="1.8" fill="#202020"/><ellipse cx="436.1" cy="458.6" rx="2.2" ry="1.7" fill="#202020"/><ellipse cx="484.8" cy="452.2" rx="3.5" ry="2.4" fill="#202020"/><ellipse cx="378.7" cy="473.9" rx="3" ry="1.3" fill="#202020"/><ellipse cx="526.7" cy="503.2" rx="1.6" ry="1.7" fill="#202020"/><ellipse cx="539.6" cy="464.2" rx="3" ry="2.3" fill="#202020"/><ellipse cx="377.7" cy="475.3" rx="2.2" ry="2.4" fill="#202020"/><ellipse cx="390.3" cy="486.2" rx="1.5" ry="2" fill="#202020"/><ellipse cx="456.8" cy="500.8" rx="3.5" ry="2.4" fill="#202020"/><ellipse cx="494.4" cy="469.5" rx="2.7" ry="1.8" fill="#202020"/><ellipse cx="501.7" cy="503.6" rx="2.8" ry="1.4" fill="#202020"/><ellipse cx="469.6" cy="478.3" rx="3.3" ry="1.6" fill="#202020"/><ellipse cx="443.6" cy="487.6" rx="2.7" ry="1.9" fill="#202020"/><ellipse cx="478.1" cy="461" rx="1.7" ry="1.8" fill="#202020"/><ellipse cx="466" cy="489.6" rx="2.3" ry="1.7" fill="#202020"/><ellipse cx="538" cy="499.8" rx="1.9" ry="2.4" fill="#202020"/><ellipse cx="434.3" cy="450.9" rx="3.1" ry="1.9" fill="#202020"/><ellipse cx="533.5" cy="472.8" rx="1.6" ry="1.7" fill="#202020"/><ellipse cx="494" cy="461.3" rx="2.8" ry="1.5" fill="#202020"/><ellipse cx="489.3" cy="448.7" rx="2.9" ry="1.5" fill="#202020"/><ellipse cx="442" cy="503.2" rx="1.7" ry="1.3" fill="#202020"/><ellipse cx="539.8" cy="494.3" rx="2.6" ry="1.9" fill="#202020"/><ellipse cx="454.3" cy="484.7" rx="3.1" ry="1.4" fill="#202020"/><ellipse cx="437" cy="476.7" rx="1.8" ry="1.4" fill="#202020"/><ellipse cx="485.2" cy="504.1" rx="3.1" ry="1.6" fill="#202020"/><ellipse cx="433.6" cy="504.3" rx="3.1" ry="2" fill="#202020"/><ellipse cx="390.4" cy="455.5" rx="3" ry="1.7" fill="#202020"/><ellipse cx="488.1" cy="457.4" rx="2.9" ry="1.9" fill="#202020"/><ellipse cx="395.5" cy="455.3" rx="2" ry="1.8" fill="#202020"/><ellipse cx="467.7" cy="501.9" rx="1.9" ry="1.5" fill="#202020"/><ellipse cx="466.2" cy="460.7" rx="1.5" ry="1.9" fill="#202020"/></g>
<g fill="#8a8a8a" stroke="#efefef" stroke-width="0.9" filter="url(#bl0)"><circle cx="446.2" cy="481.7" r="2.6"/><circle cx="389.4" cy="468.2" r="1.9"/><circle cx="389.7" cy="494.9" r="3.2"/><circle cx="537.7" cy="486.9" r="2.7"/><circle cx="461.6" cy="473.5" r="2.2"/><circle cx="523.6" cy="469.7" r="3.3"/><circle cx="437.6" cy="456" r="2.8"/><circle cx="495.3" cy="471.1" r="2.1"/><circle cx="391.1" cy="480.4" r="1.9"/><circle cx="519.1" cy="469.4" r="2.9"/><circle cx="422.4" cy="498.1" r="2.1"/><circle cx="543.6" cy="444.1" r="3"/><circle cx="427.2" cy="500.1" r="2.7"/><circle cx="500.3" cy="475" r="3"/><circle cx="424.6" cy="464.2" r="2.8"/><circle cx="387.1" cy="458.4" r="2"/><circle cx="406.5" cy="456.2" r="1.7"/><circle cx="470.5" cy="466.9" r="3"/><circle cx="538.4" cy="478.2" r="2.8"/><circle cx="527.4" cy="501.6" r="2.5"/><circle cx="522.1" cy="467.3" r="2.5"/><circle cx="419.7" cy="487.6" r="2.1"/><circle cx="430" cy="468.4" r="1.7"/><circle cx="514.6" cy="440.1" r="1.9"/><circle cx="527.7" cy="489.5" r="1.7"/><circle cx="414" cy="466.4" r="1.7"/><circle cx="416.3" cy="462.1" r="3.4"/><circle cx="385.8" cy="484.7" r="2.1"/><circle cx="482.2" cy="440.7" r="3"/><circle cx="532.2" cy="444" r="3.4"/><circle cx="521.4" cy="459.8" r="2.5"/><circle cx="377.9" cy="451.6" r="1.8"/><circle cx="434.8" cy="456" r="1.8"/><circle cx="387.6" cy="451.8" r="1.8"/><circle cx="399.9" cy="493.6" r="2.4"/><circle cx="391.7" cy="495.4" r="2"/><circle cx="414.6" cy="442.8" r="3.1"/><circle cx="452.2" cy="477.1" r="2.6"/><circle cx="520.3" cy="497.7" r="3.1"/><circle cx="466.4" cy="484.6" r="2.1"/><circle cx="522" cy="473.1" r="1.7"/><circle cx="432.5" cy="500.6" r="2.2"/><circle cx="397.2" cy="503.1" r="2.4"/><circle cx="473.5" cy="463.2" r="2.1"/><circle cx="431.1" cy="499.7" r="2.5"/><circle cx="496.6" cy="479.3" r="2.1"/><circle cx="529.2" cy="498.7" r="1.9"/><circle cx="385.1" cy="486.4" r="2"/><circle cx="522.7" cy="471.2" r="2.6"/><circle cx="423.3" cy="475.5" r="2.2"/><circle cx="379.7" cy="474.2" r="3.2"/><circle cx="488.9" cy="469.8" r="3.1"/><circle cx="385.1" cy="453.6" r="2.3"/><circle cx="380.8" cy="445.8" r="3.1"/><circle cx="456" cy="481.9" r="2"/><circle cx="529.8" cy="499" r="2.3"/><circle cx="410.3" cy="462.1" r="2.2"/><circle cx="441.4" cy="483.8" r="3"/><circle cx="528.2" cy="479.4" r="3.1"/><circle cx="486" cy="445.1" r="2"/><circle cx="416.7" cy="446.9" r="2.1"/><circle cx="489.5" cy="487.6" r="2.5"/><circle cx="468.7" cy="481.1" r="2.9"/><circle cx="449" cy="463.2" r="2.6"/><circle cx="474.6" cy="448.7" r="2.5"/><circle cx="461.2" cy="488.7" r="2.2"/><circle cx="538.1" cy="486.3" r="2.8"/><circle cx="461.2" cy="450.9" r="2.3"/><circle cx="429.1" cy="470.5" r="1.8"/><circle cx="380.5" cy="503.8" r="1.7"/><circle cx="427.4" cy="465.8" r="3.4"/><circle cx="434.3" cy="458.5" r="2.5"/><circle cx="482.5" cy="496.1" r="2.9"/><circle cx="389.8" cy="497.7" r="3.2"/><circle cx="394.5" cy="492.5" r="3.3"/><circle cx="518.3" cy="499.6" r="2.2"/><circle cx="483.9" cy="489.8" r="3.1"/><circle cx="478.4" cy="496.6" r="2.8"/><circle cx="441.3" cy="500.6" r="2.4"/><circle cx="394.6" cy="498.4" r="2.3"/><circle cx="510.5" cy="496.7" r="3"/><circle cx="492.8" cy="460.8" r="2.6"/><circle cx="443.2" cy="491.7" r="2.2"/><circle cx="450.9" cy="489.6" r="1.9"/><circle cx="509.3" cy="475.4" r="2.9"/><circle cx="491.3" cy="455.6" r="3.2"/><circle cx="481.2" cy="462.8" r="1.9"/><circle cx="411.6" cy="442.2" r="2.2"/><circle cx="400" cy="441.9" r="1.8"/><circle cx="394.2" cy="453.9" r="1.9"/><circle cx="428.8" cy="446.8" r="2"/><circle cx="474.6" cy="464" r="2.9"/><circle cx="415.8" cy="481.7" r="2.2"/><circle cx="449" cy="456.2" r="1.9"/><circle cx="544.7" cy="456.5" r="1.7"/><circle cx="480.5" cy="443.6" r="1.9"/><circle cx="415.2" cy="453" r="2.3"/><circle cx="433.3" cy="459.8" r="3"/><circle cx="441.1" cy="497.6" r="2.9"/><circle cx="525.6" cy="467.7" r="2.3"/><circle cx="474.5" cy="503.9" r="1.8"/><circle cx="491.5" cy="492.8" r="2.6"/><circle cx="397.8" cy="503.9" r="2.3"/><circle cx="531.9" cy="470.4" r="1.9"/><circle cx="466.6" cy="458.9" r="2.2"/><circle cx="526.7" cy="497.7" r="2.7"/><circle cx="487.2" cy="482.5" r="2.5"/><circle cx="506" cy="478.9" r="3.4"/><circle cx="511.8" cy="496.8" r="1.8"/><circle cx="455.5" cy="449.7" r="2.2"/><circle cx="389.3" cy="495.6" r="2.5"/><circle cx="470.6" cy="492.9" r="3"/><circle cx="522.8" cy="442.3" r="1.9"/><circle cx="456.7" cy="477.5" r="3.4"/><circle cx="436" cy="448.8" r="2.1"/><circle cx="398.1" cy="487.8" r="2.6"/><circle cx="419" cy="488.4" r="2.4"/><circle cx="410.1" cy="444.6" r="3"/><circle cx="516.4" cy="485.5" r="3.3"/><circle cx="538.9" cy="440.3" r="1.9"/><circle cx="461.5" cy="473" r="2.3"/><circle cx="413.3" cy="457" r="3.4"/><circle cx="459.8" cy="467" r="3"/><circle cx="500" cy="491.2" r="3"/><circle cx="428.8" cy="455.7" r="2.6"/><circle cx="501.1" cy="457.2" r="3.2"/><circle cx="397.4" cy="454.9" r="2.4"/><circle cx="406.8" cy="448.4" r="2.2"/><circle cx="378.4" cy="478.5" r="2.6"/><circle cx="401.1" cy="487.4" r="2.4"/><circle cx="469" cy="496.6" r="2.6"/><circle cx="395.3" cy="461.4" r="2"/><circle cx="526.2" cy="455.2" r="1.8"/><circle cx="452.8" cy="461.5" r="3"/><circle cx="380.7" cy="454.3" r="2.2"/><circle cx="395.1" cy="472.9" r="3.2"/><circle cx="532" cy="477.5" r="1.7"/><circle cx="484.1" cy="449.6" r="2.6"/><circle cx="481.3" cy="500.6" r="2.7"/><circle cx="419.6" cy="445.5" r="3"/><circle cx="436.5" cy="460" r="2.6"/><circle cx="489.8" cy="478.7" r="1.7"/><circle cx="517.6" cy="482.3" r="3.2"/><circle cx="489.3" cy="482.1" r="2.2"/><circle cx="435.2" cy="499.8" r="2.2"/><circle cx="530" cy="456.7" r="2.5"/><circle cx="539" cy="481" r="2.6"/><circle cx="378.6" cy="465.2" r="1.9"/><circle cx="472.1" cy="502.6" r="2.1"/><circle cx="533.2" cy="499.2" r="2"/><circle cx="525.8" cy="485.5" r="2"/><circle cx="401.1" cy="479.3" r="3.2"/><circle cx="427.7" cy="489.3" r="2.8"/><circle cx="398.3" cy="485.1" r="2.2"/><circle cx="405.5" cy="469.3" r="1.8"/><circle cx="523.8" cy="442.3" r="3.4"/><circle cx="542.7" cy="497" r="2.7"/><circle cx="542.9" cy="442.8" r="2.3"/><circle cx="456.7" cy="450.4" r="2.9"/><circle cx="514.4" cy="468.6" r="1.8"/><circle cx="432.6" cy="494.9" r="3.4"/><circle cx="441.6" cy="440.9" r="3.2"/><circle cx="495.4" cy="442.6" r="2.6"/><circle cx="438" cy="503.4" r="2.7"/><circle cx="533.1" cy="466.7" r="2.3"/><circle cx="465.9" cy="445.7" r="2.4"/><circle cx="429.8" cy="451.3" r="3.1"/><circle cx="473.4" cy="486.1" r="2.7"/><circle cx="414.7" cy="457.8" r="2"/><circle cx="482.7" cy="459.6" r="1.9"/><circle cx="515" cy="448.3" r="3.4"/><circle cx="432.1" cy="483.1" r="3.4"/><circle cx="417.9" cy="496.2" r="2.3"/><circle cx="466.9" cy="469" r="2.6"/><circle cx="491.9" cy="489.1" r="2.3"/><circle cx="493.7" cy="496" r="2.6"/><circle cx="456" cy="469.7" r="2"/><circle cx="479.1" cy="456.8" r="2.3"/><circle cx="533.2" cy="458.5" r="2.3"/><circle cx="487.5" cy="478.6" r="3.1"/><circle cx="398.2" cy="456.7" r="2"/><circle cx="400.9" cy="465.2" r="3"/><circle cx="516.8" cy="452.6" r="2.9"/><circle cx="408.6" cy="469" r="1.9"/><circle cx="417" cy="492.1" r="2.9"/><circle cx="460" cy="496.8" r="1.9"/><circle cx="426.8" cy="483.2" r="1.9"/><circle cx="452.1" cy="467.4" r="2"/><circle cx="423.4" cy="456.7" r="2.6"/><circle cx="433.9" cy="476.4" r="2.3"/><circle cx="498.1" cy="496.2" r="2.7"/><circle cx="517.2" cy="469.7" r="1.8"/><circle cx="527.6" cy="452.7" r="1.8"/><circle cx="502.4" cy="446" r="2.6"/><circle cx="448.9" cy="443.3" r="2.5"/><circle cx="396.1" cy="484.8" r="3.1"/><circle cx="447.3" cy="475.8" r="2.4"/><circle cx="477.5" cy="502" r="2.1"/><circle cx="477.1" cy="440.9" r="3.3"/><circle cx="386.4" cy="467.4" r="2.3"/><circle cx="468.8" cy="456" r="2"/><circle cx="465.6" cy="492.2" r="3.3"/><circle cx="446.5" cy="455.6" r="2.2"/><circle cx="396.8" cy="495.9" r="3.1"/><circle cx="400.3" cy="498.3" r="2.5"/><circle cx="476.7" cy="480.4" r="3"/><circle cx="412.7" cy="462.7" r="2.6"/><circle cx="482.9" cy="486.2" r="2.1"/><circle cx="410" cy="483.2" r="2.4"/><circle cx="540.8" cy="501.2" r="3.3"/><circle cx="541.7" cy="496.7" r="3.1"/><circle cx="385.8" cy="491" r="3.1"/><circle cx="405.7" cy="447.1" r="3.2"/><circle cx="406.2" cy="443.1" r="2.3"/><circle cx="435.7" cy="459.4" r="2"/><circle cx="453.7" cy="494" r="1.8"/><circle cx="457.5" cy="500.1" r="3.1"/><circle cx="381.7" cy="476.4" r="2"/><circle cx="402.8" cy="495.4" r="3.3"/><circle cx="544.4" cy="441" r="1.7"/><circle cx="433.9" cy="463.9" r="1.9"/><circle cx="530.6" cy="469.8" r="3.4"/><circle cx="384.6" cy="469.9" r="1.9"/><circle cx="540.3" cy="497.4" r="1.9"/><circle cx="436.3" cy="502.2" r="2.7"/><circle cx="444.1" cy="479" r="2.5"/><circle cx="518.9" cy="445.8" r="2.7"/><circle cx="530.2" cy="441.9" r="2.2"/><circle cx="447.1" cy="478.3" r="3.1"/><circle cx="468" cy="445.4" r="3.3"/><circle cx="408.2" cy="491.6" r="1.9"/><circle cx="394.6" cy="482.6" r="2.4"/><circle cx="519.2" cy="443.8" r="1.9"/><circle cx="390.8" cy="468.7" r="2"/><circle cx="404.3" cy="469.1" r="3"/><circle cx="509.8" cy="465.6" r="2.3"/><circle cx="420.6" cy="484.3" r="2.3"/><circle cx="495.4" cy="447.4" r="2.1"/><circle cx="468.9" cy="440.3" r="3.2"/><circle cx="518.3" cy="467.9" r="1.9"/><circle cx="440.4" cy="462.2" r="2.3"/><circle cx="450.4" cy="449.1" r="1.8"/><circle cx="389.9" cy="449.1" r="2"/><circle cx="447" cy="449.3" r="1.9"/><circle cx="474.6" cy="476.2" r="2.2"/><circle cx="495.5" cy="474.1" r="2.1"/><circle cx="521.9" cy="476.5" r="1.9"/><circle cx="460.7" cy="443" r="2.2"/><circle cx="526" cy="465.1" r="2.5"/><circle cx="382.4" cy="468.2" r="3.2"/><circle cx="529.9" cy="469.5" r="3.4"/><circle cx="541.2" cy="447.1" r="3.1"/><circle cx="418.5" cy="478.7" r="2.5"/><circle cx="414.3" cy="452.5" r="3.4"/><circle cx="523.1" cy="466.4" r="3.1"/><circle cx="494.3" cy="464" r="3.1"/><circle cx="518.5" cy="461.8" r="3.3"/><circle cx="437" cy="453.9" r="3.2"/><circle cx="510.9" cy="454.1" r="2.6"/><circle cx="403.5" cy="489.3" r="1.9"/><circle cx="544.3" cy="497.9" r="2.3"/><circle cx="530.1" cy="469" r="2.7"/><circle cx="529.4" cy="441.4" r="1.7"/><circle cx="429.5" cy="474.5" r="3"/><circle cx="410.7" cy="444.5" r="1.7"/><circle cx="377.8" cy="453.2" r="3.3"/><circle cx="447.5" cy="457" r="2"/><circle cx="451" cy="455.6" r="2.1"/><circle cx="453.3" cy="466.8" r="3.4"/><circle cx="447.9" cy="442.8" r="1.8"/><circle cx="497.1" cy="473.8" r="2.7"/><circle cx="538" cy="459" r="2"/><circle cx="446.1" cy="501.1" r="3.2"/><circle cx="472" cy="487.6" r="2.2"/><circle cx="453.9" cy="453.5" r="2.7"/><circle cx="508.7" cy="475.8" r="3.2"/><circle cx="417.2" cy="490.5" r="2.9"/><circle cx="522.4" cy="475.2" r="2.2"/><circle cx="441.5" cy="486" r="2.2"/><circle cx="540.6" cy="484.9" r="3.4"/><circle cx="447.5" cy="472.8" r="3"/><circle cx="540.1" cy="446.4" r="3.2"/><circle cx="534.2" cy="463.7" r="2.3"/><circle cx="394.4" cy="483.1" r="2.4"/><circle cx="439.4" cy="452.9" r="3.1"/><circle cx="383.5" cy="499.3" r="1.9"/><circle cx="450.8" cy="457" r="1.8"/><circle cx="388.6" cy="447.3" r="1.7"/><circle cx="418.1" cy="460" r="2.6"/><circle cx="529.5" cy="472.7" r="3.2"/><circle cx="445.9" cy="493.7" r="2.1"/><circle cx="441.2" cy="454.5" r="2.3"/><circle cx="459.6" cy="503" r="3"/><circle cx="445.1" cy="458.1" r="2.9"/><circle cx="483.7" cy="502.1" r="3.3"/><circle cx="389.3" cy="497.2" r="1.9"/><circle cx="430.3" cy="459.5" r="2.1"/><circle cx="441.6" cy="453.6" r="2.5"/><circle cx="422.9" cy="473.7" r="3.4"/><circle cx="385.9" cy="446.5" r="2"/></g>
</g>
<path d="M377.2 434L410 435L440 439L470 441L500 442L544.6 444L544.6 454L500 456L470 462L440 462L410 455L377.2 452Z" fill="#d8d8d8" opacity="0.7" filter="url(#bl2)"/>
<g opacity="0.5" filter="url(#bl0)"><circle cx="412.8" cy="448.8" r="0.7" fill="#8a8a8a"/><circle cx="414.8" cy="428.4" r="0.7" fill="#d6d6d6"/><circle cx="511.8" cy="444.1" r="1.2" fill="#9a9a9a"/><circle cx="422.3" cy="441.5" r="1.2" fill="#e0e0e0"/><circle cx="471.6" cy="428.8" r="1.3" fill="#d6d6d6"/><circle cx="532.3" cy="420.1" r="1.2" fill="#e0e0e0"/><circle cx="379.7" cy="433.6" r="1" fill="#9a9a9a"/><circle cx="485.5" cy="437.4" r="1.1" fill="#e0e0e0"/><circle cx="401" cy="440.2" r="0.9" fill="#9a9a9a"/><circle cx="481.4" cy="448.5" r="1.4" fill="#9a9a9a"/><circle cx="402.4" cy="431.7" r="0.8" fill="#e0e0e0"/><circle cx="458.8" cy="418.8" r="1.1" fill="#d6d6d6"/><circle cx="484.9" cy="448.8" r="1.4" fill="#9a9a9a"/><circle cx="392" cy="432.8" r="1.2" fill="#8a8a8a"/><circle cx="424.4" cy="446.8" r="1.3" fill="#c8c8c8"/><circle cx="422.2" cy="443.7" r="0.7" fill="#e0e0e0"/><circle cx="541" cy="429.2" r="1.1" fill="#d6d6d6"/><circle cx="543.7" cy="424.8" r="0.9" fill="#9a9a9a"/><circle cx="421.2" cy="444.3" r="0.6" fill="#d6d6d6"/><circle cx="500.6" cy="419.3" r="0.8" fill="#d6d6d6"/><circle cx="434.4" cy="435.7" r="1.3" fill="#9a9a9a"/><circle cx="460.5" cy="419.6" r="1.3" fill="#c8c8c8"/><circle cx="519.2" cy="434.4" r="1" fill="#e0e0e0"/><circle cx="416.7" cy="441.2" r="1" fill="#9a9a9a"/><circle cx="389.6" cy="423.5" r="1.1" fill="#c8c8c8"/><circle cx="542.8" cy="449" r="0.7" fill="#c8c8c8"/><circle cx="441.4" cy="437.1" r="0.8" fill="#e0e0e0"/><circle cx="486.2" cy="433.3" r="1.3" fill="#d6d6d6"/><circle cx="425.9" cy="449.4" r="0.8" fill="#9a9a9a"/><circle cx="400.8" cy="423.6" r="0.6" fill="#c8c8c8"/><circle cx="531" cy="443.5" r="0.8" fill="#8a8a8a"/><circle cx="539" cy="443.1" r="1.2" fill="#e0e0e0"/><circle cx="542.4" cy="428.5" r="1" fill="#8a8a8a"/><circle cx="383.1" cy="445" r="0.9" fill="#c8c8c8"/><circle cx="497.6" cy="439.7" r="1.2" fill="#d6d6d6"/><circle cx="447" cy="434.4" r="0.6" fill="#c8c8c8"/><circle cx="528.6" cy="424.3" r="0.7" fill="#d6d6d6"/><circle cx="446.3" cy="437.2" r="1.1" fill="#8a8a8a"/><circle cx="497.6" cy="444.8" r="1.1" fill="#c8c8c8"/><circle cx="424.9" cy="435.4" r="1.4" fill="#9a9a9a"/><circle cx="478.7" cy="420.8" r="1.2" fill="#e0e0e0"/><circle cx="458.9" cy="437.6" r="0.7" fill="#d6d6d6"/><circle cx="434.8" cy="429.1" r="1.1" fill="#9a9a9a"/><circle cx="436.8" cy="424.4" r="1.4" fill="#e0e0e0"/><circle cx="521" cy="445.9" r="1" fill="#d6d6d6"/><circle cx="413.4" cy="438" r="0.6" fill="#8a8a8a"/><circle cx="453.3" cy="429.8" r="1.2" fill="#8a8a8a"/><circle cx="505.2" cy="443.4" r="0.9" fill="#c8c8c8"/><circle cx="394.6" cy="443.6" r="1.3" fill="#c8c8c8"/><circle cx="401" cy="419.5" r="1.3" fill="#e0e0e0"/><circle cx="490.4" cy="441" r="1.3" fill="#9a9a9a"/><circle cx="515.5" cy="424.3" r="1.1" fill="#e0e0e0"/><circle cx="400.5" cy="441.2" r="0.9" fill="#8a8a8a"/><circle cx="527.3" cy="447.4" r="1.3" fill="#8a8a8a"/><circle cx="509.3" cy="440.3" r="1" fill="#e0e0e0"/><circle cx="510.7" cy="419.1" r="0.9" fill="#c8c8c8"/><circle cx="495" cy="427.1" r="1.3" fill="#9a9a9a"/><circle cx="457" cy="433" r="1.4" fill="#e0e0e0"/><circle cx="381.6" cy="439.2" r="0.9" fill="#c8c8c8"/><circle cx="487" cy="435.2" r="1.2" fill="#d6d6d6"/><circle cx="486.3" cy="444.5" r="1" fill="#8a8a8a"/><circle cx="483.6" cy="447.8" r="1.2" fill="#8a8a8a"/><circle cx="382.3" cy="427" r="0.9" fill="#8a8a8a"/><circle cx="538.6" cy="440.8" r="0.8" fill="#d6d6d6"/><circle cx="425.4" cy="447.8" r="0.8" fill="#8a8a8a"/><circle cx="463" cy="440.4" r="1.3" fill="#e0e0e0"/><circle cx="445.7" cy="447.8" r="1.1" fill="#e0e0e0"/><circle cx="539.4" cy="436.9" r="1.4" fill="#e0e0e0"/><circle cx="501.9" cy="439.9" r="1" fill="#c8c8c8"/><circle cx="441.7" cy="423.3" r="1" fill="#d6d6d6"/><circle cx="440.9" cy="426.5" r="0.7" fill="#d6d6d6"/><circle cx="413.6" cy="430" r="1.1" fill="#c8c8c8"/><circle cx="447.9" cy="429.7" r="1.1" fill="#8a8a8a"/><circle cx="414.8" cy="447.2" r="0.8" fill="#e0e0e0"/><circle cx="397.7" cy="438.1" r="0.7" fill="#d6d6d6"/><circle cx="381.8" cy="435.2" r="0.9" fill="#e0e0e0"/><circle cx="467" cy="421.6" r="0.6" fill="#c8c8c8"/><circle cx="528.7" cy="432.7" r="0.7" fill="#c8c8c8"/><circle cx="528.2" cy="424.5" r="0.7" fill="#e0e0e0"/><circle cx="470.4" cy="449.4" r="1.2" fill="#8a8a8a"/><circle cx="411.4" cy="428.8" r="1.3" fill="#8a8a8a"/><circle cx="380.3" cy="430.4" r="1.3" fill="#d6d6d6"/><circle cx="415.9" cy="448.6" r="0.9" fill="#e0e0e0"/><circle cx="403.9" cy="442.6" r="1.1" fill="#9a9a9a"/><circle cx="476.8" cy="436.6" r="0.7" fill="#e0e0e0"/><circle cx="447.3" cy="421.7" r="0.7" fill="#e0e0e0"/><circle cx="392.9" cy="438.6" r="1.1" fill="#e0e0e0"/><circle cx="452.5" cy="446.6" r="1.1" fill="#c8c8c8"/><circle cx="457.2" cy="429.2" r="0.8" fill="#8a8a8a"/><circle cx="455" cy="448.3" r="0.6" fill="#c8c8c8"/><circle cx="474.6" cy="444.3" r="1.1" fill="#d6d6d6"/><circle cx="458.6" cy="433.9" r="0.7" fill="#8a8a8a"/><circle cx="400.3" cy="425.2" r="1.1" fill="#9a9a9a"/><circle cx="497.7" cy="437.1" r="0.8" fill="#e0e0e0"/><circle cx="472.8" cy="436.1" r="0.9" fill="#9a9a9a"/><circle cx="409.9" cy="444.5" r="1.1" fill="#9a9a9a"/><circle cx="422.3" cy="423.5" r="0.7" fill="#9a9a9a"/><circle cx="492.1" cy="418.5" r="1" fill="#9a9a9a"/><circle cx="532.4" cy="425.9" r="0.8" fill="#9a9a9a"/><circle cx="470" cy="439.9" r="0.9" fill="#c8c8c8"/><circle cx="526.5" cy="429.9" r="1.2" fill="#c8c8c8"/><circle cx="480.1" cy="445.5" r="1.2" fill="#8a8a8a"/><circle cx="509.9" cy="434.8" r="1.4" fill="#e0e0e0"/><circle cx="520" cy="435.5" r="0.8" fill="#c8c8c8"/><circle cx="446.6" cy="446.3" r="1" fill="#c8c8c8"/><circle cx="441.2" cy="422.6" r="0.6" fill="#8a8a8a"/><circle cx="440.3" cy="444.4" r="1.1" fill="#8a8a8a"/><circle cx="426.1" cy="423.9" r="0.6" fill="#8a8a8a"/><circle cx="504.5" cy="427.1" r="0.7" fill="#8a8a8a"/><circle cx="501" cy="421.2" r="0.7" fill="#d6d6d6"/><circle cx="400.5" cy="445.9" r="1.1" fill="#e0e0e0"/><circle cx="399.1" cy="437.6" r="1.2" fill="#e0e0e0"/><circle cx="450.3" cy="442" r="0.8" fill="#8a8a8a"/><circle cx="409.3" cy="434.6" r="1.4" fill="#c8c8c8"/><circle cx="532.7" cy="431.6" r="1.3" fill="#c8c8c8"/><circle cx="415.5" cy="421.9" r="0.6" fill="#8a8a8a"/><circle cx="530.5" cy="436.5" r="1.1" fill="#c8c8c8"/><circle cx="462.7" cy="429.3" r="1.3" fill="#e0e0e0"/><circle cx="391.5" cy="429" r="1" fill="#c8c8c8"/><circle cx="473.8" cy="419.3" r="1.3" fill="#d6d6d6"/><circle cx="395.7" cy="422.6" r="1.2" fill="#9a9a9a"/><circle cx="496.4" cy="433.8" r="0.9" fill="#9a9a9a"/><circle cx="443.1" cy="437.9" r="0.9" fill="#e0e0e0"/><circle cx="473.3" cy="436" r="0.8" fill="#8a8a8a"/><circle cx="521.3" cy="434.5" r="1.3" fill="#8a8a8a"/><circle cx="530.7" cy="420.9" r="0.7" fill="#9a9a9a"/><circle cx="443" cy="420.7" r="0.7" fill="#9a9a9a"/><circle cx="527.1" cy="422.5" r="1.2" fill="#9a9a9a"/><circle cx="380.7" cy="428.2" r="1.1" fill="#c8c8c8"/><circle cx="538.6" cy="430.6" r="0.7" fill="#d6d6d6"/><circle cx="468.4" cy="434.5" r="1" fill="#8a8a8a"/><circle cx="435.9" cy="445.2" r="1.4" fill="#8a8a8a"/><circle cx="426.7" cy="429" r="0.9" fill="#9a9a9a"/><circle cx="542.6" cy="420.2" r="1.2" fill="#9a9a9a"/><circle cx="501" cy="442.9" r="0.8" fill="#8a8a8a"/><circle cx="381" cy="423.8" r="0.8" fill="#e0e0e0"/><circle cx="483.4" cy="435.4" r="0.7" fill="#8a8a8a"/><circle cx="540.1" cy="445.5" r="1.3" fill="#c8c8c8"/><circle cx="530.6" cy="446" r="1.3" fill="#9a9a9a"/><circle cx="490.1" cy="447.2" r="1" fill="#9a9a9a"/><circle cx="479.8" cy="441.6" r="1.2" fill="#c8c8c8"/><circle cx="508.4" cy="442.9" r="1.2" fill="#c8c8c8"/><circle cx="428.3" cy="425.1" r="0.9" fill="#e0e0e0"/><circle cx="509.5" cy="445" r="1.1" fill="#9a9a9a"/><circle cx="514.6" cy="421.9" r="1.2" fill="#8a8a8a"/><circle cx="401.1" cy="428.7" r="1" fill="#8a8a8a"/><circle cx="536.9" cy="427.2" r="0.8" fill="#8a8a8a"/><circle cx="393.8" cy="440.4" r="1.2" fill="#e0e0e0"/><circle cx="446.1" cy="424.6" r="1.2" fill="#c8c8c8"/><circle cx="426.9" cy="440.5" r="1.2" fill="#e0e0e0"/><circle cx="382.1" cy="434.6" r="0.8" fill="#c8c8c8"/><circle cx="379.9" cy="434.1" r="0.7" fill="#c8c8c8"/><circle cx="543.9" cy="445.7" r="0.7" fill="#9a9a9a"/><circle cx="394.7" cy="436.6" r="0.8" fill="#8a8a8a"/><circle cx="523.6" cy="422.6" r="0.7" fill="#e0e0e0"/><circle cx="403.9" cy="430.4" r="1.2" fill="#8a8a8a"/><circle cx="515.6" cy="448" r="1.2" fill="#e0e0e0"/><circle cx="534.6" cy="431.8" r="1.1" fill="#c8c8c8"/><circle cx="389.4" cy="434.7" r="1.1" fill="#9a9a9a"/><circle cx="517.3" cy="425.6" r="1.2" fill="#9a9a9a"/></g>
<path d="M519.2 506.8H537.9" stroke="#fff" stroke-width="1.5"/>
</g>
<rect x="490.3" y="417.6" width="53.2" height="34.7" rx="2.2" fill="#e8e8e8" stroke="#555" stroke-width="0.7"/>
<path d="M500.7 421L500.5 431M511 446.5L511 449.5M534 446L533.5 448.5" stroke="#333" stroke-width="0.6" fill="none"/>
<circle cx="508.7" cy="425.9" r="6.4" fill="url(#gAu)" stroke="#7a5a05" stroke-width="0.4"/>
<circle cx="522.6" cy="430.9" r="6.4" fill="url(#gAu)" stroke="#7a5a05" stroke-width="0.4"/>
<circle cx="497.7" cy="436.5" r="6.4" fill="url(#gAu)" stroke="#7a5a05" stroke-width="0.4"/>
<circle cx="496.7" cy="436" r="3.4" fill="url(#gHole)"/>
<circle cx="535.1" cy="424.9" r="6.4" fill="url(#gAu)" stroke="#7a5a05" stroke-width="0.4"/>
<circle cx="534.6" cy="424.9" r="3.2" fill="url(#gHole)"/>
<circle cx="511.6" cy="440.8" r="6.4" fill="url(#gAu)" stroke="#7a5a05" stroke-width="0.4"/>
<circle cx="512.4" cy="441.8" r="2.2" fill="url(#gHole)"/>
<circle cx="534.5" cy="438.8" r="6.4" fill="url(#gAu)" stroke="#7a5a05" stroke-width="0.4"/>
<text x="9.8" y="311.8" font-size="14.6" text-anchor="start" fill="#111" font-weight="bold" font-family="'Liberation Serif','Times New Roman',serif" textLength="19.6" lengthAdjust="spacingAndGlyphs" stroke="#111" stroke-width="0.35">(ii)</text>
<text x="24" y="323.9" font-size="8.5" text-anchor="start" fill="#1a1a2a" font-weight="bold">a</text>
<g><circle cx="207.4" cy="324" r="1.8" fill="#d8d8d8" opacity="0.75"/><circle cx="141.6" cy="324" r="1.6" fill="#d8d8d8" opacity="0.75"/><circle cx="162.7" cy="324.2" r="1.9" fill="#d8d8d8" opacity="0.75"/><circle cx="178.1" cy="324.4" r="1.3" fill="#d8d8d8" opacity="0.75"/><circle cx="105.3" cy="324.5" r="1.4" fill="#d8d8d8" opacity="0.75"/><circle cx="123.3" cy="324.7" r="1.2" fill="#d8d8d8" opacity="0.75"/><circle cx="174.6" cy="324.7" r="1.3" fill="#d8d8d8" opacity="0.75"/><circle cx="104.3" cy="324.9" r="1.5" fill="#d8d8d8" opacity="0.75"/><circle cx="60.2" cy="325" r="1.4" fill="#d8d8d8" opacity="0.75"/><circle cx="69.5" cy="325.1" r="1.6" fill="#d8d8d8" opacity="0.75"/><circle cx="104.3" cy="325.6" r="1.6" fill="#d8d8d8" opacity="0.75"/><circle cx="149" cy="326.2" r="1.8" fill="#d8d8d8" opacity="0.75"/><circle cx="93.3" cy="326.9" r="1.3" fill="#d8d8d8" opacity="0.75"/><circle cx="136.5" cy="330.3" r="1.7" fill="#d8d8d8" opacity="0.75"/><circle cx="128.4" cy="330.4" r="1.6" fill="#d8d8d8" opacity="0.75"/><circle cx="199" cy="330.8" r="1.9" fill="#d8d8d8" opacity="0.75"/><circle cx="204.4" cy="331.2" r="1.4" fill="#d8d8d8" opacity="0.75"/><circle cx="168.7" cy="331.3" r="1.3" fill="#d8d8d8" opacity="0.75"/><circle cx="160" cy="331.4" r="1.5" fill="#d8d8d8" opacity="0.75"/><circle cx="175.4" cy="331.5" r="1.9" fill="#d8d8d8" opacity="0.75"/><circle cx="199.3" cy="331.6" r="1.4" fill="#d8d8d8" opacity="0.75"/><circle cx="155.9" cy="331.8" r="1.8" fill="#d8d8d8" opacity="0.75"/><circle cx="90.7" cy="332.5" r="1.4" fill="#d8d8d8" opacity="0.75"/><circle cx="142" cy="332.7" r="1.4" fill="#d8d8d8" opacity="0.75"/><circle cx="104.7" cy="332.7" r="1.5" fill="#d8d8d8" opacity="0.75"/><circle cx="181.5" cy="333" r="1.2" fill="#d8d8d8" opacity="0.75"/><circle cx="89.2" cy="333.6" r="1.7" fill="#d8d8d8" opacity="0.75"/><circle cx="178.4" cy="333.6" r="1.9" fill="#d8d8d8" opacity="0.75"/><circle cx="208.5" cy="334" r="1.8" fill="#d8d8d8" opacity="0.75"/><circle cx="117.6" cy="334.2" r="1.3" fill="#d8d8d8" opacity="0.75"/><circle cx="81.2" cy="334.6" r="1.3" fill="#d8d8d8" opacity="0.75"/><circle cx="66.8" cy="334.7" r="1.3" fill="#d8d8d8" opacity="0.75"/><circle cx="206.7" cy="334.8" r="1.4" fill="#d8d8d8" opacity="0.75"/><circle cx="72" cy="334.9" r="1.2" fill="#d8d8d8" opacity="0.75"/><circle cx="87.2" cy="332.7" r="1.9" fill="url(#gH)"/><circle cx="103.2" cy="333.1" r="1.8" fill="url(#gH)"/><circle cx="61.8" cy="333.1" r="2" fill="url(#gH)"/><circle cx="97.8" cy="333.3" r="1.8" fill="url(#gH)"/><circle cx="118.7" cy="333.3" r="1.9" fill="url(#gH)"/><circle cx="108.3" cy="333.3" r="1.9" fill="url(#gH)"/><circle cx="146" cy="333.4" r="1.9" fill="url(#gH)"/><circle cx="77.6" cy="333.5" r="1.9" fill="url(#gH)"/><circle cx="72.6" cy="333.5" r="2" fill="url(#gH)"/><circle cx="193" cy="333.5" r="1.8" fill="url(#gH)"/><circle cx="172.6" cy="333.6" r="1.8" fill="url(#gH)"/><circle cx="213.6" cy="333.6" r="2" fill="url(#gH)"/><circle cx="187.7" cy="333.7" r="2" fill="url(#gH)"/><circle cx="198.4" cy="333.8" r="2" fill="url(#gH)"/><circle cx="183.2" cy="334" r="2" fill="url(#gH)"/><circle cx="124.1" cy="334" r="1.8" fill="url(#gH)"/><circle cx="176.9" cy="334.5" r="2" fill="url(#gH)"/><circle cx="71.9" cy="342.6" r="2.2" fill="url(#gR)"/><circle cx="104.2" cy="342.8" r="2.2" fill="url(#gR)"/><circle cx="45.9" cy="342.9" r="2.2" fill="url(#gR)"/><circle cx="65.4" cy="342.9" r="2.2" fill="url(#gR)"/><circle cx="58.8" cy="342.9" r="2.2" fill="url(#gR)"/><circle cx="136.2" cy="343" r="2.2" fill="url(#gR)"/><circle cx="84.9" cy="343" r="2.2" fill="url(#gR)"/><circle cx="123" cy="343" r="2.2" fill="url(#gR)"/><circle cx="110.3" cy="343" r="2.2" fill="url(#gR)"/><circle cx="52.6" cy="343" r="2.2" fill="url(#gR)"/><circle cx="91.2" cy="343.1" r="2.2" fill="url(#gR)"/><circle cx="129.3" cy="343.1" r="2.2" fill="url(#gR)"/><circle cx="116.5" cy="343.2" r="2.2" fill="url(#gR)"/><circle cx="167.8" cy="343.2" r="2.2" fill="url(#gR)"/><circle cx="155" cy="343.3" r="2.2" fill="url(#gR)"/><circle cx="78.5" cy="343.3" r="2.2" fill="url(#gR)"/><circle cx="97.4" cy="343.4" r="2.2" fill="url(#gR)"/><circle cx="194" cy="343.4" r="2.2" fill="url(#gR)"/><circle cx="161.8" cy="343.4" r="2.2" fill="url(#gR)"/><circle cx="148.6" cy="343.5" r="2.2" fill="url(#gR)"/><circle cx="142.8" cy="343.5" r="2.2" fill="url(#gR)"/><circle cx="180.7" cy="343.6" r="2.2" fill="url(#gR)"/><circle cx="206.7" cy="343.6" r="2.2" fill="url(#gR)"/><circle cx="212.8" cy="343.6" r="2.2" fill="url(#gR)"/><circle cx="174.2" cy="343.6" r="2.2" fill="url(#gR)"/><circle cx="200.6" cy="343.8" r="2.2" fill="url(#gR)"/><circle cx="187.4" cy="344" r="2.2" fill="url(#gR)"/><circle cx="68.8" cy="340.4" r="2.3" fill="url(#gR)"/><circle cx="101.1" cy="340.6" r="2.4" fill="url(#gR)"/><circle cx="42.8" cy="340.7" r="2.3" fill="url(#gR)"/><circle cx="62.3" cy="340.7" r="2.4" fill="url(#gR)"/><circle cx="55.7" cy="340.7" r="2.2" fill="url(#gR)"/><circle cx="133.1" cy="340.8" r="2.5" fill="url(#gR)"/><circle cx="81.8" cy="340.8" r="2.4" fill="url(#gR)"/><circle cx="119.9" cy="340.8" r="2.4" fill="url(#gR)"/><circle cx="107.2" cy="340.8" r="2.4" fill="url(#gR)"/><circle cx="49.5" cy="340.8" r="2.4" fill="url(#gR)"/><circle cx="88.1" cy="340.9" r="2.3" fill="url(#gR)"/><circle cx="126.2" cy="340.9" r="2.4" fill="url(#gR)"/><circle cx="113.4" cy="341" r="2.3" fill="url(#gR)"/><circle cx="164.7" cy="341" r="2.2" fill="url(#gR)"/><circle cx="151.9" cy="341.1" r="2.2" fill="url(#gR)"/><circle cx="75.4" cy="341.1" r="2.1" fill="url(#gR)"/><circle cx="94.3" cy="341.2" r="2.2" fill="url(#gR)"/><circle cx="190.9" cy="341.2" r="2.3" fill="url(#gR)"/><circle cx="158.7" cy="341.2" r="2.3" fill="url(#gR)"/><circle cx="145.5" cy="341.3" r="2.4" fill="url(#gR)"/><circle cx="139.7" cy="341.3" r="2.4" fill="url(#gR)"/><circle cx="177.6" cy="341.4" r="2.3" fill="url(#gR)"/><circle cx="203.6" cy="341.4" r="2.3" fill="url(#gR)"/><circle cx="209.7" cy="341.4" r="2.4" fill="url(#gR)"/><circle cx="171.1" cy="341.4" r="2.4" fill="url(#gR)"/><circle cx="197.5" cy="341.6" r="2.2" fill="url(#gR)"/><circle cx="184.3" cy="341.8" r="2.2" fill="url(#gR)"/><circle cx="51.8" cy="348.9" r="4.1" fill="url(#gM)"/><circle cx="66.3" cy="348.9" r="3.8" fill="url(#gM)"/><circle cx="44.4" cy="349.1" r="3.8" fill="url(#gM)"/><circle cx="58.9" cy="349.2" r="3.9" fill="url(#gM)"/><circle cx="87.7" cy="349.3" r="3.9" fill="url(#gM)"/><circle cx="95" cy="349.3" r="3.9" fill="url(#gM)"/><circle cx="123.8" cy="349.3" r="4.2" fill="url(#gM)"/><circle cx="73.3" cy="349.3" r="3.8" fill="url(#gM)"/><circle cx="80.5" cy="349.4" r="4.2" fill="url(#gM)"/><circle cx="145.5" cy="349.4" r="3.9" fill="url(#gM)"/><circle cx="102.2" cy="349.5" r="4.2" fill="url(#gM)"/><circle cx="116.8" cy="349.5" r="3.8" fill="url(#gM)"/><circle cx="109.5" cy="349.5" r="4.1" fill="url(#gM)"/><circle cx="167.4" cy="349.5" r="3.9" fill="url(#gM)"/><circle cx="160.1" cy="349.5" r="3.9" fill="url(#gM)"/><circle cx="138.6" cy="349.6" r="4" fill="url(#gM)"/><circle cx="131.2" cy="349.6" r="4" fill="url(#gM)"/><circle cx="182" cy="349.6" r="3.9" fill="url(#gM)"/><circle cx="196.1" cy="349.8" r="3.9" fill="url(#gM)"/><circle cx="152.9" cy="349.8" r="3.9" fill="url(#gM)"/><circle cx="174.8" cy="349.8" r="4" fill="url(#gM)"/><circle cx="203.7" cy="349.9" r="4" fill="url(#gM)"/><circle cx="189.2" cy="349.9" r="3.8" fill="url(#gM)"/><circle cx="210.7" cy="350.1" r="3.8" fill="url(#gM)"/><circle cx="217.9" cy="350.1" r="4.1" fill="url(#gM)"/><circle cx="48.8" cy="350.7" r="4.1" fill="url(#gM)"/><circle cx="70.2" cy="350.8" r="4" fill="url(#gM)"/><circle cx="84.7" cy="350.8" r="3.9" fill="url(#gM)"/><circle cx="56.2" cy="350.8" r="3.9" fill="url(#gM)"/><circle cx="77.5" cy="350.8" r="4" fill="url(#gM)"/><circle cx="99.3" cy="350.9" r="4.3" fill="url(#gM)"/><circle cx="41.5" cy="350.9" r="3.8" fill="url(#gM)"/><circle cx="92.1" cy="351" r="3.9" fill="url(#gM)"/><circle cx="63" cy="351" r="4.4" fill="url(#gM)"/><circle cx="135.4" cy="351.1" r="4.3" fill="url(#gM)"/><circle cx="113.8" cy="351.1" r="4" fill="url(#gM)"/><circle cx="142.6" cy="351.1" r="4" fill="url(#gM)"/><circle cx="106.6" cy="351.2" r="3.8" fill="url(#gM)"/><circle cx="121.1" cy="351.2" r="4" fill="url(#gM)"/><circle cx="149.8" cy="351.3" r="4" fill="url(#gM)"/><circle cx="128.2" cy="351.3" r="3.9" fill="url(#gM)"/><circle cx="164.3" cy="351.4" r="4.1" fill="url(#gM)"/><circle cx="200.4" cy="351.4" r="4" fill="url(#gM)"/><circle cx="157" cy="351.4" r="3.9" fill="url(#gM)"/><circle cx="193.4" cy="351.5" r="4" fill="url(#gM)"/><circle cx="215" cy="351.5" r="3.9" fill="url(#gM)"/><circle cx="171.6" cy="351.6" r="4.3" fill="url(#gM)"/><circle cx="207.8" cy="351.6" r="4.3" fill="url(#gM)"/><circle cx="186.2" cy="351.6" r="4.2" fill="url(#gM)"/><circle cx="178.9" cy="351.6" r="4.1" fill="url(#gM)"/><circle cx="51.9" cy="361.5" r="2.2" fill="url(#gK)"/><circle cx="60.2" cy="361.7" r="2.2" fill="url(#gK)"/><circle cx="43.6" cy="361.7" r="2.2" fill="url(#gK)"/><circle cx="68.7" cy="361.7" r="2.2" fill="url(#gK)"/><circle cx="77.3" cy="362.1" r="2.2" fill="url(#gK)"/><circle cx="127.6" cy="362.1" r="2.2" fill="url(#gK)"/><circle cx="102.8" cy="362.1" r="2.2" fill="url(#gK)"/><circle cx="94.1" cy="362.1" r="2.2" fill="url(#gK)"/><circle cx="85.6" cy="362.1" r="2.2" fill="url(#gK)"/><circle cx="119" cy="362.2" r="2.2" fill="url(#gK)"/><circle cx="136.1" cy="362.2" r="2.2" fill="url(#gK)"/><circle cx="169.5" cy="362.4" r="2.2" fill="url(#gK)"/><circle cx="153.1" cy="362.7" r="2.2" fill="url(#gK)"/><circle cx="161.1" cy="362.7" r="2.2" fill="url(#gK)"/><circle cx="203.2" cy="362.8" r="2.2" fill="url(#gK)"/><circle cx="186.7" cy="362.8" r="2.2" fill="url(#gK)"/><circle cx="194.6" cy="362.9" r="2.2" fill="url(#gK)"/><circle cx="177.9" cy="362.9" r="2.2" fill="url(#gK)"/><circle cx="211.6" cy="363" r="2.2" fill="url(#gK)"/><circle cx="50.2" cy="358.3" r="2.3" fill="url(#gK)"/><circle cx="58.5" cy="358.5" r="2.4" fill="url(#gK)"/><circle cx="41.9" cy="358.5" r="2.4" fill="url(#gK)"/><circle cx="67" cy="358.5" r="2.4" fill="url(#gK)"/><circle cx="75.6" cy="358.9" r="2.2" fill="url(#gK)"/><circle cx="125.9" cy="358.9" r="2.3" fill="url(#gK)"/><circle cx="101.1" cy="358.9" r="2.5" fill="url(#gK)"/><circle cx="92.4" cy="358.9" r="2.4" fill="url(#gK)"/><circle cx="83.9" cy="358.9" r="2.3" fill="url(#gK)"/><circle cx="117.3" cy="359" r="2.5" fill="url(#gK)"/><circle cx="134.4" cy="359" r="2.3" fill="url(#gK)"/><circle cx="167.8" cy="359.2" r="2.5" fill="url(#gK)"/><circle cx="151.4" cy="359.5" r="2.3" fill="url(#gK)"/><circle cx="159.4" cy="359.5" r="2.2" fill="url(#gK)"/><circle cx="201.5" cy="359.6" r="2.3" fill="url(#gK)"/><circle cx="185" cy="359.6" r="2.3" fill="url(#gK)"/><circle cx="192.9" cy="359.7" r="2.2" fill="url(#gK)"/><circle cx="176.2" cy="359.7" r="2.4" fill="url(#gK)"/><circle cx="209.9" cy="359.8" r="2.3" fill="url(#gK)"/><circle cx="63.1" cy="368.8" r="4" fill="url(#gM)"/><circle cx="48.5" cy="368.9" r="3.9" fill="url(#gM)"/><circle cx="41.2" cy="368.9" r="4.1" fill="url(#gM)"/><circle cx="55.9" cy="369" r="3.9" fill="url(#gM)"/><circle cx="70.8" cy="369.1" r="4.2" fill="url(#gM)"/><circle cx="78.1" cy="369.1" r="4.1" fill="url(#gM)"/><circle cx="107.9" cy="369.1" r="3.9" fill="url(#gM)"/><circle cx="93.2" cy="369.2" r="3.8" fill="url(#gM)"/><circle cx="122.8" cy="369.2" r="4.1" fill="url(#gM)"/><circle cx="85.7" cy="369.2" r="4.1" fill="url(#gM)"/><circle cx="145.2" cy="369.3" r="4.1" fill="url(#gM)"/><circle cx="152.4" cy="369.3" r="4.2" fill="url(#gM)"/><circle cx="137.5" cy="369.3" r="4.1" fill="url(#gM)"/><circle cx="115.2" cy="369.3" r="4.2" fill="url(#gM)"/><circle cx="100.5" cy="369.3" r="4.3" fill="url(#gM)"/><circle cx="130.2" cy="369.4" r="4.2" fill="url(#gM)"/><circle cx="197.2" cy="369.5" r="4.2" fill="url(#gM)"/><circle cx="160.1" cy="369.6" r="4" fill="url(#gM)"/><circle cx="182.1" cy="369.7" r="3.8" fill="url(#gM)"/><circle cx="204.7" cy="369.7" r="4.1" fill="url(#gM)"/><circle cx="212.2" cy="369.7" r="4.2" fill="url(#gM)"/><circle cx="167.4" cy="369.7" r="3.9" fill="url(#gM)"/><circle cx="189.6" cy="369.7" r="4.1" fill="url(#gM)"/><circle cx="174.9" cy="369.8" r="3.7" fill="url(#gM)"/><circle cx="37.6" cy="370.6" r="4" fill="url(#gM)"/><circle cx="44.9" cy="370.7" r="3.9" fill="url(#gM)"/><circle cx="67.7" cy="370.9" r="3.9" fill="url(#gM)"/><circle cx="82.5" cy="370.9" r="4.2" fill="url(#gM)"/><circle cx="52.7" cy="371" r="4.3" fill="url(#gM)"/><circle cx="74.9" cy="371" r="4.3" fill="url(#gM)"/><circle cx="89.9" cy="371" r="4.1" fill="url(#gM)"/><circle cx="60.1" cy="371.1" r="4.2" fill="url(#gM)"/><circle cx="97.5" cy="371.2" r="4.4" fill="url(#gM)"/><circle cx="112.2" cy="371.3" r="4.3" fill="url(#gM)"/><circle cx="120" cy="371.3" r="4.1" fill="url(#gM)"/><circle cx="104.7" cy="371.4" r="4" fill="url(#gM)"/><circle cx="149.6" cy="371.4" r="4.4" fill="url(#gM)"/><circle cx="142.2" cy="371.4" r="3.9" fill="url(#gM)"/><circle cx="127.4" cy="371.5" r="4" fill="url(#gM)"/><circle cx="172.1" cy="371.5" r="4.1" fill="url(#gM)"/><circle cx="157.2" cy="371.6" r="3.9" fill="url(#gM)"/><circle cx="134.7" cy="371.6" r="3.9" fill="url(#gM)"/><circle cx="179.6" cy="371.8" r="4" fill="url(#gM)"/><circle cx="164.6" cy="371.8" r="4.3" fill="url(#gM)"/><circle cx="187.3" cy="371.8" r="3.9" fill="url(#gM)"/><circle cx="201.8" cy="371.9" r="4.1" fill="url(#gM)"/><circle cx="194.5" cy="372.1" r="4.2" fill="url(#gM)"/><circle cx="209.5" cy="372.2" r="4.2" fill="url(#gM)"/><circle cx="44.8" cy="380.5" r="2.2" fill="url(#gK)"/><circle cx="79.7" cy="381.1" r="2.2" fill="url(#gK)"/><circle cx="53.9" cy="381.1" r="2.2" fill="url(#gK)"/><circle cx="62.6" cy="381.2" r="2.2" fill="url(#gK)"/><circle cx="88" cy="381.2" r="2.2" fill="url(#gK)"/><circle cx="96.4" cy="381.4" r="2.2" fill="url(#gK)"/><circle cx="105.4" cy="381.8" r="2.2" fill="url(#gK)"/><circle cx="130.7" cy="381.9" r="2.2" fill="url(#gK)"/><circle cx="113.9" cy="382" r="2.2" fill="url(#gK)"/><circle cx="122.2" cy="382" r="2.2" fill="url(#gK)"/><circle cx="156.7" cy="382.2" r="2.2" fill="url(#gK)"/><circle cx="139.4" cy="382.2" r="2.2" fill="url(#gK)"/><circle cx="148.3" cy="382.2" r="2.2" fill="url(#gK)"/><circle cx="173.7" cy="382.5" r="2.2" fill="url(#gK)"/><circle cx="208" cy="382.6" r="2.2" fill="url(#gK)"/><circle cx="165.3" cy="382.6" r="2.2" fill="url(#gK)"/><circle cx="190.9" cy="382.7" r="2.2" fill="url(#gK)"/><circle cx="182.4" cy="382.7" r="2.2" fill="url(#gK)"/><circle cx="199.3" cy="382.8" r="2.2" fill="url(#gK)"/><circle cx="216.8" cy="383.3" r="2.2" fill="url(#gK)"/><circle cx="43.1" cy="377.3" r="2.3" fill="url(#gK)"/><circle cx="78" cy="377.9" r="2.3" fill="url(#gK)"/><circle cx="52.2" cy="377.9" r="2.3" fill="url(#gK)"/><circle cx="60.9" cy="378" r="2.2" fill="url(#gK)"/><circle cx="86.3" cy="378" r="2.2" fill="url(#gK)"/><circle cx="94.7" cy="378.2" r="2.3" fill="url(#gK)"/><circle cx="103.7" cy="378.6" r="2.2" fill="url(#gK)"/><circle cx="129" cy="378.7" r="2.4" fill="url(#gK)"/><circle cx="112.2" cy="378.8" r="2.2" fill="url(#gK)"/><circle cx="120.5" cy="378.8" r="2.2" fill="url(#gK)"/><circle cx="155" cy="379" r="2.3" fill="url(#gK)"/><circle cx="137.7" cy="379" r="2.4" fill="url(#gK)"/><circle cx="146.6" cy="379" r="2.2" fill="url(#gK)"/><circle cx="172" cy="379.3" r="2.2" fill="url(#gK)"/><circle cx="206.3" cy="379.4" r="2.3" fill="url(#gK)"/><circle cx="163.6" cy="379.4" r="2.4" fill="url(#gK)"/><circle cx="189.2" cy="379.5" r="2.4" fill="url(#gK)"/><circle cx="180.7" cy="379.5" r="2.4" fill="url(#gK)"/><circle cx="197.6" cy="379.6" r="2.3" fill="url(#gK)"/><circle cx="215.1" cy="380.1" r="2.4" fill="url(#gK)"/><circle cx="46.9" cy="387" r="3.8" fill="url(#gM)"/><circle cx="39.6" cy="387.2" r="4.3" fill="url(#gM)"/><circle cx="62" cy="387.4" r="4.2" fill="url(#gM)"/><circle cx="54.4" cy="387.4" r="3.9" fill="url(#gM)"/><circle cx="69.2" cy="387.6" r="4" fill="url(#gM)"/><circle cx="76.7" cy="387.9" r="3.8" fill="url(#gM)"/><circle cx="84.2" cy="387.9" r="3.9" fill="url(#gM)"/><circle cx="91.6" cy="388.3" r="3.9" fill="url(#gM)"/><circle cx="99.3" cy="388.4" r="4.1" fill="url(#gM)"/><circle cx="106.5" cy="388.5" r="4" fill="url(#gM)"/><circle cx="114.2" cy="388.6" r="3.7" fill="url(#gM)"/><circle cx="121.6" cy="388.9" r="3.7" fill="url(#gM)"/><circle cx="129.1" cy="389.1" r="3.7" fill="url(#gM)"/><circle cx="136.5" cy="389.1" r="4.1" fill="url(#gM)"/><circle cx="143.9" cy="389.3" r="3.8" fill="url(#gM)"/><circle cx="151.2" cy="389.7" r="3.8" fill="url(#gM)"/><circle cx="158.8" cy="389.8" r="4.1" fill="url(#gM)"/><circle cx="166.1" cy="390" r="3.8" fill="url(#gM)"/><circle cx="173.8" cy="390" r="3.7" fill="url(#gM)"/><circle cx="181.3" cy="390.3" r="4" fill="url(#gM)"/><circle cx="188.5" cy="390.4" r="4.3" fill="url(#gM)"/><circle cx="196" cy="390.5" r="3.8" fill="url(#gM)"/><circle cx="203.5" cy="390.9" r="3.8" fill="url(#gM)"/><circle cx="210.9" cy="391" r="4" fill="url(#gM)"/><circle cx="35.7" cy="389" r="4" fill="url(#gM)"/><circle cx="43.2" cy="389" r="4.2" fill="url(#gM)"/><circle cx="50.7" cy="389.2" r="4.3" fill="url(#gM)"/><circle cx="58" cy="389.2" r="4.1" fill="url(#gM)"/><circle cx="65.7" cy="389.5" r="4.2" fill="url(#gM)"/><circle cx="73.2" cy="389.6" r="4.1" fill="url(#gM)"/><circle cx="80.4" cy="390" r="4.2" fill="url(#gM)"/><circle cx="95.5" cy="390.2" r="4.1" fill="url(#gM)"/><circle cx="87.8" cy="390.3" r="4.2" fill="url(#gM)"/><circle cx="102.8" cy="390.3" r="4.1" fill="url(#gM)"/><circle cx="110.5" cy="390.5" r="4" fill="url(#gM)"/><circle cx="118" cy="391" r="4.2" fill="url(#gM)"/><circle cx="125.2" cy="391.1" r="3.9" fill="url(#gM)"/><circle cx="132.8" cy="391.2" r="4.2" fill="url(#gM)"/><circle cx="147.9" cy="391.5" r="3.9" fill="url(#gM)"/><circle cx="140.4" cy="391.7" r="3.9" fill="url(#gM)"/><circle cx="155.4" cy="391.9" r="4" fill="url(#gM)"/><circle cx="162.7" cy="392.2" r="4" fill="url(#gM)"/><circle cx="177.8" cy="392.4" r="4.2" fill="url(#gM)"/><circle cx="170.2" cy="392.4" r="4.2" fill="url(#gM)"/><circle cx="184.9" cy="392.4" r="4.1" fill="url(#gM)"/><circle cx="192.5" cy="393" r="4.2" fill="url(#gM)"/><circle cx="199.9" cy="393.1" r="4.1" fill="url(#gM)"/><circle cx="207.6" cy="393.2" r="4" fill="url(#gM)"/><circle cx="45.3" cy="396.2" r="2.3" fill="url(#gR)"/><circle cx="80.6" cy="396.5" r="2.3" fill="url(#gR)"/><circle cx="86.4" cy="396.6" r="2.4" fill="url(#gR)"/><circle cx="40.2" cy="396.8" r="2.5" fill="url(#gR)"/><circle cx="56.7" cy="396.8" r="2.3" fill="url(#gR)"/><circle cx="68.5" cy="396.9" r="2.3" fill="url(#gR)"/><circle cx="62.4" cy="397" r="2.4" fill="url(#gR)"/><circle cx="126" cy="397" r="2.5" fill="url(#gR)"/><circle cx="51.6" cy="397.1" r="2.4" fill="url(#gR)"/><circle cx="132.2" cy="397.3" r="2.3" fill="url(#gR)"/><circle cx="114.1" cy="397.4" r="2.4" fill="url(#gR)"/><circle cx="160.6" cy="397.4" r="2.4" fill="url(#gR)"/><circle cx="74.8" cy="397.4" r="2.2" fill="url(#gR)"/><circle cx="165.7" cy="397.4" r="2.4" fill="url(#gR)"/><circle cx="103.5" cy="397.4" r="2.4" fill="url(#gR)"/><circle cx="108.8" cy="397.6" r="2.4" fill="url(#gR)"/><circle cx="97.1" cy="397.6" r="2.3" fill="url(#gR)"/><circle cx="148.9" cy="397.7" r="2.4" fill="url(#gR)"/><circle cx="137.3" cy="397.8" r="2.2" fill="url(#gR)"/><circle cx="205.9" cy="397.8" r="2.2" fill="url(#gR)"/><circle cx="120.6" cy="397.8" r="2.3" fill="url(#gR)"/><circle cx="200.3" cy="397.9" r="2.2" fill="url(#gR)"/><circle cx="142.6" cy="397.9" r="2.4" fill="url(#gR)"/><circle cx="154.5" cy="397.9" r="2.3" fill="url(#gR)"/><circle cx="171.4" cy="398" r="2.4" fill="url(#gR)"/><circle cx="177.6" cy="398.1" r="2.4" fill="url(#gR)"/><circle cx="183.7" cy="398.3" r="2.3" fill="url(#gR)"/><circle cx="212.3" cy="398.4" r="2.4" fill="url(#gR)"/><circle cx="189.3" cy="398.7" r="2.1" fill="url(#gR)"/><circle cx="195.3" cy="398.9" r="2.2" fill="url(#gR)"/><circle cx="48.6" cy="400.5" r="2.2" fill="url(#gR)"/><circle cx="87.9" cy="400.6" r="2.2" fill="url(#gR)"/><circle cx="82.8" cy="400.7" r="2.3" fill="url(#gR)"/><circle cx="76.4" cy="400.8" r="2.3" fill="url(#gR)"/><circle cx="43.6" cy="400.8" r="2.2" fill="url(#gR)"/><circle cx="99.2" cy="400.8" r="2.2" fill="url(#gR)"/><circle cx="93.2" cy="401" r="2.1" fill="url(#gR)"/><circle cx="110" cy="401" r="2.1" fill="url(#gR)"/><circle cx="66.1" cy="401.2" r="2.2" fill="url(#gR)"/><circle cx="144.5" cy="401.4" r="2.2" fill="url(#gR)"/><circle cx="71.4" cy="401.5" r="2.2" fill="url(#gR)"/><circle cx="155.9" cy="401.6" r="2.1" fill="url(#gR)"/><circle cx="127" cy="401.6" r="2.3" fill="url(#gR)"/><circle cx="105.6" cy="401.9" r="2.3" fill="url(#gR)"/><circle cx="116.4" cy="401.9" r="2.3" fill="url(#gR)"/><circle cx="138.2" cy="402" r="2.3" fill="url(#gR)"/><circle cx="190.1" cy="402.1" r="2.1" fill="url(#gR)"/><circle cx="177.8" cy="402.2" r="2.1" fill="url(#gR)"/><circle cx="121.8" cy="402.3" r="2.2" fill="url(#gR)"/><circle cx="167" cy="402.3" r="2.1" fill="url(#gR)"/><circle cx="184.4" cy="402.3" r="2.2" fill="url(#gR)"/><circle cx="172.3" cy="402.3" r="2.3" fill="url(#gR)"/><circle cx="205.7" cy="402.5" r="2.1" fill="url(#gR)"/><circle cx="149.8" cy="402.6" r="2.1" fill="url(#gR)"/><circle cx="195.4" cy="402.7" r="2.3" fill="url(#gR)"/><circle cx="161.5" cy="402.8" r="2.1" fill="url(#gR)"/><circle cx="212.5" cy="403" r="2.2" fill="url(#gR)"/><circle cx="200.5" cy="403.1" r="2.3" fill="url(#gR)"/><circle cx="79.7" cy="404" r="1.7" fill="url(#gH)" opacity="0.7"/><circle cx="66" cy="404.1" r="1.8" fill="url(#gH)" opacity="0.7"/><circle cx="119.4" cy="404.3" r="1.6" fill="url(#gH)" opacity="0.7"/><circle cx="89.8" cy="404.3" r="1.9" fill="url(#gH)" opacity="0.7"/><circle cx="131.5" cy="404.4" r="1.6" fill="url(#gH)" opacity="0.7"/><circle cx="83.1" cy="404.6" r="1.6" fill="url(#gH)" opacity="0.7"/><circle cx="51.7" cy="404.7" r="1.8" fill="url(#gH)" opacity="0.7"/><circle cx="148.7" cy="405" r="1.9" fill="url(#gH)" opacity="0.7"/><circle cx="213.5" cy="405.2" r="1.9" fill="url(#gH)" opacity="0.7"/><circle cx="114.2" cy="405.2" r="1.7" fill="url(#gH)" opacity="0.7"/><circle cx="119.4" cy="405.5" r="1.7" fill="url(#gH)" opacity="0.7"/><circle cx="146.5" cy="405.5" r="2" fill="url(#gH)" opacity="0.7"/><circle cx="79.7" cy="405.8" r="1.8" fill="url(#gH)" opacity="0.7"/><circle cx="154.7" cy="406.2" r="1.7" fill="url(#gH)" opacity="0.7"/><circle cx="54" cy="406.2" r="1.7" fill="url(#gH)" opacity="0.7"/><circle cx="109.9" cy="406.3" r="1.8" fill="url(#gH)" opacity="0.7"/><circle cx="69.4" cy="406.4" r="1.5" fill="url(#gH)" opacity="0.7"/><circle cx="141.7" cy="406.5" r="1.9" fill="url(#gH)" opacity="0.7"/><circle cx="139.7" cy="406.5" r="1.5" fill="url(#gH)" opacity="0.7"/><circle cx="41.8" cy="406.7" r="1.9" fill="url(#gH)" opacity="0.7"/><circle cx="192.9" cy="406.8" r="1.7" fill="url(#gH)" opacity="0.7"/><circle cx="175.5" cy="406.8" r="1.7" fill="url(#gH)" opacity="0.7"/><circle cx="108.3" cy="406.9" r="1.8" fill="url(#gH)" opacity="0.7"/><circle cx="203.6" cy="407.5" r="1.9" fill="url(#gH)" opacity="0.7"/><circle cx="70.2" cy="407.7" r="2" fill="url(#gH)" opacity="0.7"/><circle cx="85.2" cy="408.1" r="1.6" fill="url(#gH)" opacity="0.7"/><circle cx="166.5" cy="408.1" r="1.6" fill="url(#gH)" opacity="0.7"/><circle cx="70.9" cy="408.3" r="1.7" fill="url(#gH)" opacity="0.7"/><circle cx="206.5" cy="408.4" r="1.9" fill="url(#gH)" opacity="0.7"/><circle cx="47.9" cy="408.5" r="1.6" fill="url(#gH)" opacity="0.7"/><circle cx="141.1" cy="408.5" r="2" fill="url(#gH)" opacity="0.7"/><circle cx="160.7" cy="408.6" r="1.9" fill="url(#gH)" opacity="0.7"/><circle cx="198.6" cy="409" r="1.7" fill="url(#gH)" opacity="0.7"/><circle cx="187.2" cy="409.1" r="1.7" fill="url(#gH)" opacity="0.7"/><circle cx="145" cy="409.3" r="1.6" fill="url(#gH)" opacity="0.7"/><circle cx="169.5" cy="409.3" r="1.7" fill="url(#gH)" opacity="0.7"/><circle cx="116.1" cy="409.5" r="1.7" fill="url(#gH)" opacity="0.7"/><circle cx="154.3" cy="409.5" r="1.7" fill="url(#gH)" opacity="0.7"/><circle cx="186.5" cy="409.6" r="1.9" fill="url(#gH)" opacity="0.7"/><circle cx="89.5" cy="409.9" r="1.5" fill="url(#gH)" opacity="0.7"/><circle cx="70.5" cy="410.5" r="1.7" fill="url(#gH)" opacity="0.7"/><circle cx="188.1" cy="410.6" r="1.9" fill="url(#gH)" opacity="0.7"/><circle cx="117.6" cy="410.6" r="1.5" fill="url(#gH)" opacity="0.7"/><circle cx="213.2" cy="410.7" r="2" fill="url(#gH)" opacity="0.7"/><circle cx="58.9" cy="410.8" r="2" fill="url(#gH)" opacity="0.7"/><circle cx="185.4" cy="411" r="1.6" fill="url(#gH)" opacity="0.7"/><circle cx="104.5" cy="411.1" r="2" fill="url(#gH)" opacity="0.7"/><circle cx="212.1" cy="411.1" r="1.6" fill="url(#gH)" opacity="0.7"/><circle cx="188.8" cy="411.1" r="1.6" fill="url(#gH)" opacity="0.7"/><circle cx="73.4" cy="412.9" r="1.7" fill="url(#gH)" opacity="0.7"/><circle cx="86.8" cy="412.4" r="2.1" fill="url(#gR)"/><circle cx="152.3" cy="412.8" r="2.3" fill="url(#gR)"/><circle cx="123.3" cy="413" r="2.1" fill="url(#gR)"/><circle cx="138" cy="413.8" r="2.5" fill="url(#gR)"/><circle cx="89" cy="414.2" r="2.4" fill="url(#gR)"/><circle cx="112.7" cy="414.4" r="2.1" fill="url(#gR)"/><circle cx="124.8" cy="414.6" r="2.5" fill="url(#gR)"/><circle cx="204.3" cy="414.8" r="2.3" fill="url(#gR)"/><circle cx="58.7" cy="414.8" r="2.3" fill="url(#gR)"/><circle cx="77.1" cy="415.3" r="2.1" fill="url(#gR)"/><circle cx="119.5" cy="415.3" r="2.4" fill="url(#gR)"/><circle cx="73.4" cy="415.4" r="2.3" fill="url(#gR)"/><circle cx="166.7" cy="415.4" r="2.3" fill="url(#gR)"/><circle cx="158.7" cy="415.5" r="2.3" fill="url(#gR)"/><circle cx="79.4" cy="415.5" r="2.1" fill="url(#gR)"/><circle cx="150.9" cy="415.9" r="2.1" fill="url(#gR)"/><circle cx="194.6" cy="416.2" r="2.2" fill="url(#gR)"/><circle cx="83.4" cy="416.7" r="2.3" fill="url(#gR)"/><circle cx="199.5" cy="416.8" r="2.3" fill="url(#gR)"/><circle cx="204.6" cy="416.9" r="2.4" fill="url(#gR)"/><circle cx="152" cy="417" r="2.4" fill="url(#gR)"/><circle cx="164.7" cy="417.2" r="2.3" fill="url(#gR)"/><circle cx="198" cy="417.2" r="2.3" fill="url(#gR)"/><circle cx="162.9" cy="417.2" r="2.2" fill="url(#gR)"/><circle cx="87.5" cy="417.5" r="2.1" fill="url(#gR)"/><circle cx="168.2" cy="417.8" r="2.2" fill="url(#gR)"/><circle cx="71.8" cy="418" r="2.5" fill="url(#gR)"/><circle cx="65.3" cy="418.1" r="2.1" fill="url(#gR)"/><circle cx="125.4" cy="418.3" r="2.3" fill="url(#gR)"/><circle cx="189.2" cy="418.6" r="2.2" fill="url(#gR)"/><circle cx="129.3" cy="418.8" r="2.2" fill="url(#gR)"/><circle cx="95.1" cy="419" r="2.5" fill="url(#gR)"/><circle cx="168.4" cy="419" r="2.5" fill="url(#gR)"/><circle cx="90.7" cy="419.1" r="2.3" fill="url(#gR)"/><circle cx="69.5" cy="419.3" r="2.3" fill="url(#gR)"/><circle cx="163.2" cy="419.3" r="2.4" fill="url(#gR)"/><circle cx="125" cy="419.4" r="2.4" fill="url(#gR)"/><circle cx="49.3" cy="419.5" r="2.2" fill="url(#gR)"/><circle cx="153.5" cy="419.8" r="2.2" fill="url(#gR)"/><circle cx="168.6" cy="420.1" r="2.4" fill="url(#gR)"/><circle cx="204" cy="420.3" r="2.2" fill="url(#gR)"/><circle cx="94.3" cy="420.4" r="2.3" fill="url(#gR)"/><circle cx="117.4" cy="420.4" r="2.2" fill="url(#gR)"/><circle cx="152.8" cy="420.5" r="2.5" fill="url(#gR)"/><circle cx="115.7" cy="420.7" r="2.2" fill="url(#gR)"/><circle cx="172.5" cy="420.8" r="2.5" fill="url(#gR)"/><circle cx="133.6" cy="420.8" r="2.3" fill="url(#gR)"/><circle cx="145.5" cy="420.8" r="2.4" fill="url(#gR)"/><circle cx="94.4" cy="421.1" r="2.3" fill="url(#gR)"/><circle cx="188.2" cy="421.1" r="2.4" fill="url(#gR)"/><circle cx="166.5" cy="421.2" r="2.3" fill="url(#gR)"/><circle cx="92" cy="421.3" r="2.4" fill="url(#gR)"/><circle cx="157.2" cy="421.4" r="2.1" fill="url(#gR)"/><circle cx="92.9" cy="421.4" r="2.3" fill="url(#gR)"/><circle cx="152.8" cy="421.6" r="2.4" fill="url(#gR)"/><circle cx="170.3" cy="421.8" r="2.3" fill="url(#gR)"/><circle cx="69.9" cy="422" r="2.4" fill="url(#gR)"/><circle cx="144.3" cy="422.1" r="2.5" fill="url(#gR)"/><circle cx="115.8" cy="422.1" r="2.5" fill="url(#gR)"/><circle cx="191.4" cy="422.2" r="2.1" fill="url(#gR)"/><circle cx="152.9" cy="422.4" r="2.2" fill="url(#gR)"/><circle cx="92.6" cy="422.7" r="2.1" fill="url(#gR)"/><circle cx="204.2" cy="422.7" r="2.4" fill="url(#gR)"/><circle cx="195.5" cy="422.9" r="2.1" fill="url(#gR)"/><circle cx="197.4" cy="423.3" r="2.2" fill="url(#gR)"/><circle cx="96.3" cy="423.5" r="2.5" fill="url(#gR)"/><circle cx="95.2" cy="423.7" r="2.2" fill="url(#gR)"/><circle cx="174.5" cy="424.4" r="2.1" fill="url(#gR)"/><circle cx="51" cy="425.2" r="2.1" fill="url(#gR)"/><circle cx="53" cy="425.4" r="2.3" fill="url(#gR)"/><circle cx="117.3" cy="425.4" r="2.5" fill="url(#gR)"/><circle cx="79" cy="425.8" r="2.1" fill="url(#gR)"/><circle cx="121.7" cy="426.2" r="2.3" fill="url(#gR)"/><circle cx="111.9" cy="426.2" r="2.3" fill="url(#gR)"/><circle cx="67.4" cy="426.2" r="2.4" fill="url(#gR)"/><circle cx="169.3" cy="426.3" r="2.3" fill="url(#gR)"/><circle cx="141.8" cy="426.7" r="2.3" fill="url(#gR)"/><circle cx="98.9" cy="426.7" r="2.4" fill="url(#gR)"/><circle cx="93.6" cy="426.7" r="2.2" fill="url(#gR)"/><circle cx="84.1" cy="427" r="2.3" fill="url(#gR)"/><circle cx="87.6" cy="414.7" r="1.6" fill="url(#gH)"/><circle cx="154" cy="415.4" r="1.6" fill="url(#gH)"/><circle cx="125.2" cy="415.6" r="1.6" fill="url(#gH)"/><circle cx="138.2" cy="416.6" r="1.6" fill="url(#gH)"/><circle cx="87.1" cy="416.6" r="1.6" fill="url(#gH)"/><circle cx="113.6" cy="416.7" r="1.6" fill="url(#gH)"/><circle cx="126.9" cy="416.6" r="1.6" fill="url(#gH)"/><circle cx="205" cy="417" r="1.6" fill="url(#gH)"/><circle cx="58.9" cy="416.9" r="1.6" fill="url(#gH)"/><circle cx="74.8" cy="418.2" r="1.6" fill="url(#gH)"/><circle cx="118.8" cy="417.6" r="1.6" fill="url(#gH)"/><circle cx="72.8" cy="417.6" r="1.6" fill="url(#gH)"/><circle cx="166.8" cy="418.1" r="1.6" fill="url(#gH)"/><circle cx="159.3" cy="417.5" r="1.6" fill="url(#gH)"/><circle cx="79.5" cy="417.7" r="1.6" fill="url(#gH)"/><circle cx="149" cy="418.5" r="1.6" fill="url(#gH)"/><circle cx="196.2" cy="418.4" r="1.6" fill="url(#gH)"/><circle cx="81.9" cy="419.6" r="1.6" fill="url(#gH)"/><circle cx="197.2" cy="419" r="1.6" fill="url(#gH)"/><circle cx="206.9" cy="418.9" r="1.6" fill="url(#gH)"/><circle cx="151.3" cy="419.6" r="1.6" fill="url(#gH)"/><circle cx="164.8" cy="420" r="1.6" fill="url(#gH)"/><circle cx="196.9" cy="420" r="1.6" fill="url(#gH)"/><circle cx="164.5" cy="420" r="1.6" fill="url(#gH)"/><circle cx="85.6" cy="419.6" r="1.6" fill="url(#gH)"/><circle cx="169.5" cy="420" r="1.6" fill="url(#gH)"/><circle cx="69.7" cy="420.4" r="1.6" fill="url(#gH)"/><circle cx="66.2" cy="420.4" r="1.6" fill="url(#gH)"/><circle cx="124.8" cy="421.1" r="1.6" fill="url(#gH)"/><circle cx="189.1" cy="421.1" r="1.6" fill="url(#gH)"/><circle cx="131.5" cy="421.3" r="1.6" fill="url(#gH)"/><circle cx="97.1" cy="421.1" r="1.6" fill="url(#gH)"/><circle cx="168.2" cy="421.6" r="1.6" fill="url(#gH)"/><circle cx="91.4" cy="421.2" r="1.6" fill="url(#gH)"/><circle cx="70.5" cy="422.3" r="1.6" fill="url(#gH)"/><circle cx="163.8" cy="422" r="1.6" fill="url(#gH)"/><circle cx="125.3" cy="421.5" r="1.6" fill="url(#gH)"/><circle cx="47" cy="421.7" r="1.6" fill="url(#gH)"/><circle cx="151.8" cy="421.8" r="1.6" fill="url(#gH)"/><circle cx="167.6" cy="423.1" r="1.6" fill="url(#gH)"/><circle cx="201.9" cy="422.7" r="1.6" fill="url(#gH)"/><circle cx="95.1" cy="422.7" r="1.6" fill="url(#gH)"/><circle cx="115.4" cy="423.3" r="1.6" fill="url(#gH)"/><circle cx="152.7" cy="422.9" r="1.6" fill="url(#gH)"/><circle cx="114.3" cy="423.3" r="1.6" fill="url(#gH)"/><circle cx="171.1" cy="423.6" r="1.6" fill="url(#gH)"/><circle cx="131.7" cy="423" r="1.6" fill="url(#gH)"/><circle cx="146.5" cy="423" r="1.6" fill="url(#gH)"/><circle cx="94.3" cy="423.8" r="1.6" fill="url(#gH)"/><circle cx="186.4" cy="424" r="1.6" fill="url(#gH)"/><circle cx="167.6" cy="423.7" r="1.6" fill="url(#gH)"/><circle cx="91.1" cy="423.5" r="1.6" fill="url(#gH)"/><circle cx="155.8" cy="423.7" r="1.6" fill="url(#gH)"/><circle cx="91" cy="424" r="1.6" fill="url(#gH)"/><circle cx="153.9" cy="424.5" r="1.6" fill="url(#gH)"/><circle cx="171.8" cy="424.6" r="1.6" fill="url(#gH)"/><circle cx="69.8" cy="424.5" r="1.6" fill="url(#gH)"/><circle cx="145.3" cy="424.8" r="1.6" fill="url(#gH)"/><circle cx="116.8" cy="424.4" r="1.6" fill="url(#gH)"/><circle cx="190.6" cy="424.6" r="1.6" fill="url(#gH)"/><circle cx="150.4" cy="425" r="1.6" fill="url(#gH)"/><circle cx="94.6" cy="425.6" r="1.6" fill="url(#gH)"/><circle cx="205.8" cy="424.8" r="1.6" fill="url(#gH)"/><circle cx="194.4" cy="425.6" r="1.6" fill="url(#gH)"/><circle cx="198.7" cy="425.9" r="1.6" fill="url(#gH)"/><circle cx="95.6" cy="425.8" r="1.6" fill="url(#gH)"/><circle cx="94.8" cy="425.8" r="1.6" fill="url(#gH)"/><circle cx="174.1" cy="427.3" r="1.6" fill="url(#gH)"/><circle cx="49.4" cy="427.9" r="1.6" fill="url(#gH)"/><circle cx="50.5" cy="427.7" r="1.6" fill="url(#gH)"/><circle cx="117.2" cy="428.2" r="1.6" fill="url(#gH)"/><circle cx="79.5" cy="428.5" r="1.6" fill="url(#gH)"/><circle cx="123.2" cy="429.1" r="1.6" fill="url(#gH)"/><circle cx="113.2" cy="429.1" r="1.6" fill="url(#gH)"/><circle cx="67.4" cy="429.1" r="1.6" fill="url(#gH)"/><circle cx="167" cy="428.9" r="1.6" fill="url(#gH)"/><circle cx="143.6" cy="429.7" r="1.6" fill="url(#gH)"/><circle cx="98.7" cy="429.2" r="1.6" fill="url(#gH)"/><circle cx="95.7" cy="429.5" r="1.6" fill="url(#gH)"/><circle cx="84.2" cy="429.6" r="1.6" fill="url(#gH)"/><circle cx="185.1" cy="425.1" r="1.9" fill="url(#gH)" opacity="0.75"/><circle cx="107.3" cy="425.3" r="1.6" fill="url(#gH)" opacity="0.75"/><circle cx="125.9" cy="425.6" r="1.8" fill="url(#gH)" opacity="0.75"/><circle cx="105.5" cy="425.9" r="1.9" fill="url(#gH)" opacity="0.75"/><circle cx="56.8" cy="425.9" r="1.9" fill="url(#gH)" opacity="0.75"/><circle cx="107.8" cy="426" r="1.8" fill="url(#gH)" opacity="0.75"/><circle cx="195.6" cy="426.1" r="2" fill="url(#gH)" opacity="0.75"/><circle cx="70.8" cy="426.6" r="1.9" fill="url(#gH)" opacity="0.75"/><circle cx="143.2" cy="426.8" r="1.8" fill="url(#gH)" opacity="0.75"/><circle cx="111" cy="427.1" r="1.8" fill="url(#gH)" opacity="0.75"/><circle cx="157.6" cy="427.5" r="1.8" fill="url(#gH)" opacity="0.75"/><circle cx="202.7" cy="427.6" r="1.8" fill="url(#gH)" opacity="0.75"/><circle cx="83.4" cy="427.7" r="1.6" fill="url(#gH)" opacity="0.75"/><circle cx="85.6" cy="427.7" r="1.6" fill="url(#gH)" opacity="0.75"/><circle cx="171.3" cy="427.8" r="1.6" fill="url(#gH)" opacity="0.75"/><circle cx="40.2" cy="428" r="1.6" fill="url(#gH)" opacity="0.75"/><circle cx="72.1" cy="428.5" r="1.6" fill="url(#gH)" opacity="0.75"/><circle cx="163.5" cy="428.8" r="1.6" fill="url(#gH)" opacity="0.75"/><circle cx="107.3" cy="428.8" r="1.8" fill="url(#gH)" opacity="0.75"/><circle cx="158.3" cy="429.2" r="1.6" fill="url(#gH)" opacity="0.75"/><circle cx="78.5" cy="429.4" r="1.7" fill="url(#gH)" opacity="0.75"/><circle cx="151" cy="429.5" r="1.9" fill="url(#gH)" opacity="0.75"/><circle cx="206.4" cy="429.7" r="1.6" fill="url(#gH)" opacity="0.75"/><circle cx="87.5" cy="429.8" r="1.6" fill="url(#gH)" opacity="0.75"/><circle cx="75.2" cy="430" r="1.5" fill="url(#gH)" opacity="0.75"/><circle cx="126.9" cy="430.2" r="1.8" fill="url(#gH)" opacity="0.75"/><circle cx="102.5" cy="430.5" r="1.8" fill="url(#gH)" opacity="0.75"/><circle cx="86.2" cy="430.8" r="2" fill="url(#gH)" opacity="0.75"/><circle cx="101.1" cy="431" r="1.8" fill="url(#gH)" opacity="0.75"/><circle cx="131.7" cy="431.3" r="1.8" fill="url(#gH)" opacity="0.75"/><circle cx="73.6" cy="431.5" r="1.8" fill="url(#gH)" opacity="0.75"/><circle cx="125.3" cy="431.5" r="1.7" fill="url(#gH)" opacity="0.75"/><circle cx="52.2" cy="431.8" r="1.6" fill="url(#gH)" opacity="0.75"/><circle cx="146" cy="431.8" r="1.9" fill="url(#gH)" opacity="0.75"/><circle cx="133.3" cy="431.9" r="1.9" fill="url(#gH)" opacity="0.75"/><circle cx="197.5" cy="432.1" r="1.8" fill="url(#gH)" opacity="0.75"/><circle cx="114.1" cy="432.1" r="1.5" fill="url(#gH)" opacity="0.75"/><circle cx="145.7" cy="432.3" r="1.8" fill="url(#gH)" opacity="0.75"/><circle cx="103.4" cy="432.5" r="1.7" fill="url(#gH)" opacity="0.75"/><circle cx="73.2" cy="432.6" r="1.7" fill="url(#gH)" opacity="0.75"/><circle cx="185.5" cy="432.8" r="1.8" fill="url(#gH)" opacity="0.75"/><circle cx="95" cy="432.8" r="1.7" fill="url(#gH)" opacity="0.75"/><circle cx="104.1" cy="432.9" r="1.6" fill="url(#gH)" opacity="0.75"/><circle cx="76.5" cy="432.9" r="2" fill="url(#gH)" opacity="0.75"/><circle cx="151.7" cy="432.9" r="1.7" fill="url(#gH)" opacity="0.75"/><circle cx="44.6" cy="432.9" r="2.3" fill="url(#gR)"/><circle cx="49.9" cy="433.7" r="2.4" fill="url(#gR)"/><circle cx="78.7" cy="434.2" r="2.2" fill="url(#gR)"/><circle cx="83.8" cy="434.2" r="2.1" fill="url(#gR)"/><circle cx="72.4" cy="434.6" r="2.4" fill="url(#gR)"/><circle cx="67.2" cy="434.6" r="2.3" fill="url(#gR)"/><circle cx="101.1" cy="434.8" r="2.4" fill="url(#gR)"/><circle cx="95.4" cy="435" r="2.5" fill="url(#gR)"/><circle cx="127.9" cy="435.1" r="2.2" fill="url(#gR)"/><circle cx="106.3" cy="435.1" r="2.4" fill="url(#gR)"/><circle cx="134.5" cy="435.1" r="2.3" fill="url(#gR)"/><circle cx="122.7" cy="435.9" r="2.2" fill="url(#gR)"/><circle cx="118.2" cy="436" r="2.2" fill="url(#gR)"/><circle cx="178.6" cy="436.2" r="2.2" fill="url(#gR)"/><circle cx="167.1" cy="436.2" r="2.3" fill="url(#gR)"/><circle cx="145.6" cy="436.3" r="2.3" fill="url(#gR)"/><circle cx="139" cy="436.3" r="2.4" fill="url(#gR)"/><circle cx="161.4" cy="436.4" r="2.2" fill="url(#gR)"/><circle cx="156.2" cy="436.6" r="2.2" fill="url(#gR)"/><circle cx="173.7" cy="436.7" r="2.2" fill="url(#gR)"/><circle cx="189.5" cy="437.1" r="2.2" fill="url(#gR)"/><circle cx="195.4" cy="437.1" r="2.3" fill="url(#gR)"/><circle cx="184.4" cy="437.4" r="2.3" fill="url(#gR)"/><circle cx="206.6" cy="437.5" r="2.3" fill="url(#gR)"/><circle cx="201.4" cy="437.5" r="2.2" fill="url(#gR)"/><circle cx="211.9" cy="437.7" r="2.3" fill="url(#gR)"/><circle cx="48.1" cy="438.1" r="2.2" fill="url(#gR)"/><circle cx="58.7" cy="438.3" r="2.2" fill="url(#gR)"/><circle cx="76.4" cy="438.4" r="2.3" fill="url(#gR)"/><circle cx="70.5" cy="438.5" r="2.4" fill="url(#gR)"/><circle cx="98" cy="438.8" r="2.5" fill="url(#gR)"/><circle cx="53.1" cy="438.8" r="2.4" fill="url(#gR)"/><circle cx="86.1" cy="439.1" r="2.2" fill="url(#gR)"/><circle cx="82" cy="439.2" r="2.4" fill="url(#gR)"/><circle cx="64.1" cy="439.2" r="2.2" fill="url(#gR)"/><circle cx="119.4" cy="439.5" r="2.3" fill="url(#gR)"/><circle cx="109.5" cy="439.8" r="2.2" fill="url(#gR)"/><circle cx="125.4" cy="439.9" r="2.4" fill="url(#gR)"/><circle cx="103.8" cy="440" r="2.3" fill="url(#gR)"/><circle cx="142.5" cy="440.2" r="2.4" fill="url(#gR)"/><circle cx="131.4" cy="440.4" r="2.3" fill="url(#gR)"/><circle cx="136.5" cy="440.4" r="2.4" fill="url(#gR)"/><circle cx="152.4" cy="441.4" r="2.3" fill="url(#gR)"/><circle cx="170.2" cy="441.8" r="2.4" fill="url(#gR)"/><circle cx="158.7" cy="441.9" r="2.4" fill="url(#gR)"/><circle cx="163.8" cy="442" r="2.2" fill="url(#gR)"/><circle cx="180.5" cy="442.1" r="2.2" fill="url(#gR)"/><circle cx="202.6" cy="442.1" r="2.2" fill="url(#gR)"/><circle cx="192.2" cy="442.5" r="2.4" fill="url(#gR)"/><circle cx="186.4" cy="442.9" r="2.2" fill="url(#gR)"/><circle cx="197.2" cy="442.9" r="2.4" fill="url(#gR)"/><circle cx="214.6" cy="443.6" r="2.2" fill="url(#gR)"/><circle cx="209.1" cy="443.6" r="2.2" fill="url(#gR)"/><circle cx="40" cy="443.7" r="3.9" fill="url(#gM)"/><circle cx="46.9" cy="444" r="3.8" fill="url(#gM)"/><circle cx="61.7" cy="444.7" r="3.9" fill="url(#gM)"/><circle cx="54.6" cy="444.9" r="3.8" fill="url(#gM)"/><circle cx="75.7" cy="445.1" r="4.2" fill="url(#gM)"/><circle cx="68.8" cy="445.3" r="4.1" fill="url(#gM)"/><circle cx="82.7" cy="445.5" r="3.9" fill="url(#gM)"/><circle cx="90.4" cy="445.7" r="3.7" fill="url(#gM)"/><circle cx="97.2" cy="446.3" r="4" fill="url(#gM)"/><circle cx="104.5" cy="446.3" r="3.7" fill="url(#gM)"/><circle cx="112" cy="446.9" r="3.8" fill="url(#gM)"/><circle cx="119" cy="447" r="4.1" fill="url(#gM)"/><circle cx="125.8" cy="447.5" r="3.7" fill="url(#gM)"/><circle cx="140.5" cy="447.6" r="4.2" fill="url(#gM)"/><circle cx="133.3" cy="447.7" r="3.9" fill="url(#gM)"/><circle cx="154.5" cy="448.1" r="3.8" fill="url(#gM)"/><circle cx="147.2" cy="448.4" r="4.2" fill="url(#gM)"/><circle cx="162.1" cy="448.7" r="3.9" fill="url(#gM)"/><circle cx="169" cy="449.2" r="3.8" fill="url(#gM)"/><circle cx="176.4" cy="449.2" r="4.2" fill="url(#gM)"/><circle cx="183.5" cy="449.5" r="4" fill="url(#gM)"/><circle cx="190.3" cy="449.6" r="4" fill="url(#gM)"/><circle cx="197.3" cy="450.1" r="4" fill="url(#gM)"/><circle cx="204.8" cy="450.2" r="4" fill="url(#gM)"/><circle cx="212" cy="450.8" r="4.1" fill="url(#gM)"/><circle cx="50.3" cy="448.6" r="3.8" fill="url(#gM)"/><circle cx="43.6" cy="448.7" r="3.9" fill="url(#gM)"/><circle cx="57.7" cy="449.3" r="3.7" fill="url(#gM)"/><circle cx="71.6" cy="449.3" r="4.1" fill="url(#gM)"/><circle cx="64.2" cy="449.4" r="3.9" fill="url(#gM)"/><circle cx="78.7" cy="449.9" r="3.7" fill="url(#gM)"/><circle cx="85.4" cy="450.1" r="3.7" fill="url(#gM)"/><circle cx="92.9" cy="450.5" r="4.1" fill="url(#gM)"/><circle cx="99.9" cy="450.8" r="3.9" fill="url(#gM)"/><circle cx="113.7" cy="451.1" r="3.8" fill="url(#gM)"/><circle cx="107" cy="451.3" r="4.1" fill="url(#gM)"/><circle cx="120.8" cy="451.5" r="3.7" fill="url(#gM)"/><circle cx="134.9" cy="451.8" r="3.9" fill="url(#gM)"/><circle cx="128" cy="452.1" r="3.8" fill="url(#gM)"/><circle cx="141.7" cy="452.1" r="3.9" fill="url(#gM)"/><circle cx="148.6" cy="452.3" r="3.7" fill="url(#gM)"/><circle cx="162.8" cy="452.8" r="4" fill="url(#gM)"/><circle cx="155.5" cy="453.2" r="4.2" fill="url(#gM)"/><circle cx="169.5" cy="453.4" r="3.8" fill="url(#gM)"/><circle cx="184.2" cy="453.8" r="3.8" fill="url(#gM)"/><circle cx="177" cy="453.9" r="3.9" fill="url(#gM)"/><circle cx="191.2" cy="454.1" r="4.2" fill="url(#gM)"/><circle cx="198" cy="454.2" r="3.9" fill="url(#gM)"/><circle cx="205" cy="454.8" r="4.1" fill="url(#gM)"/><circle cx="212" cy="455.2" r="3.8" fill="url(#gM)"/><circle cx="40.1" cy="452.8" r="3.9" fill="url(#gM)"/><circle cx="47.2" cy="452.9" r="4.2" fill="url(#gM)"/><circle cx="54.3" cy="453.4" r="4.1" fill="url(#gM)"/><circle cx="61.5" cy="453.7" r="3.8" fill="url(#gM)"/><circle cx="68.8" cy="454" r="3.9" fill="url(#gM)"/><circle cx="75.9" cy="454.1" r="3.9" fill="url(#gM)"/><circle cx="82.7" cy="454.4" r="4.1" fill="url(#gM)"/><circle cx="97.1" cy="454.9" r="4.1" fill="url(#gM)"/><circle cx="90.4" cy="455.1" r="4.2" fill="url(#gM)"/><circle cx="104.3" cy="455.3" r="4.2" fill="url(#gM)"/><circle cx="111.5" cy="455.5" r="4.1" fill="url(#gM)"/><circle cx="118.5" cy="456" r="4" fill="url(#gM)"/><circle cx="133" cy="456.2" r="3.7" fill="url(#gM)"/><circle cx="126" cy="456.5" r="4.1" fill="url(#gM)"/><circle cx="140.4" cy="456.8" r="4.1" fill="url(#gM)"/><circle cx="154.8" cy="457.1" r="3.9" fill="url(#gM)"/><circle cx="147.7" cy="457.2" r="4.1" fill="url(#gM)"/><circle cx="161.9" cy="457.4" r="3.9" fill="url(#gM)"/><circle cx="176.1" cy="458" r="4.2" fill="url(#gM)"/><circle cx="183" cy="458.1" r="3.7" fill="url(#gM)"/><circle cx="169.2" cy="458.1" r="4" fill="url(#gM)"/><circle cx="190.5" cy="458.6" r="4.1" fill="url(#gM)"/><circle cx="197.7" cy="459.3" r="3.9" fill="url(#gM)"/><circle cx="204.9" cy="459.4" r="3.8" fill="url(#gM)"/><circle cx="211.9" cy="459.5" r="4" fill="url(#gM)"/><circle cx="43.6" cy="457.7" r="4" fill="url(#gM)"/><circle cx="57.6" cy="457.9" r="3.8" fill="url(#gM)"/><circle cx="50.7" cy="457.9" r="3.8" fill="url(#gM)"/><circle cx="64.6" cy="458.4" r="4" fill="url(#gM)"/><circle cx="78.9" cy="458.7" r="3.7" fill="url(#gM)"/><circle cx="71.5" cy="458.9" r="4" fill="url(#gM)"/><circle cx="92.8" cy="459.1" r="3.8" fill="url(#gM)"/><circle cx="85.2" cy="459.3" r="4.1" fill="url(#gM)"/><circle cx="99.4" cy="459.3" r="3.9" fill="url(#gM)"/><circle cx="106.6" cy="460" r="3.7" fill="url(#gM)"/><circle cx="113.4" cy="460.5" r="4" fill="url(#gM)"/><circle cx="127.4" cy="460.7" r="4" fill="url(#gM)"/><circle cx="120.5" cy="460.8" r="4" fill="url(#gM)"/><circle cx="134.6" cy="460.9" r="3.9" fill="url(#gM)"/><circle cx="142" cy="461.2" r="3.8" fill="url(#gM)"/><circle cx="148.9" cy="461.5" r="4.1" fill="url(#gM)"/><circle cx="155.7" cy="461.5" r="4.1" fill="url(#gM)"/><circle cx="162.5" cy="462" r="4" fill="url(#gM)"/><circle cx="169.8" cy="462.1" r="4" fill="url(#gM)"/><circle cx="177.2" cy="462.8" r="3.9" fill="url(#gM)"/><circle cx="183.6" cy="462.8" r="3.7" fill="url(#gM)"/><circle cx="190.6" cy="463.5" r="3.7" fill="url(#gM)"/><circle cx="204.8" cy="463.5" r="3.9" fill="url(#gM)"/><circle cx="212.2" cy="463.7" r="3.7" fill="url(#gM)"/><circle cx="197.7" cy="463.8" r="3.8" fill="url(#gM)"/><circle cx="40.2" cy="462.3" r="4" fill="url(#gM)"/><circle cx="46.9" cy="462.4" r="4.1" fill="url(#gM)"/><circle cx="61.5" cy="462.6" r="3.9" fill="url(#gM)"/><circle cx="54.2" cy="462.8" r="4.1" fill="url(#gM)"/><circle cx="68.4" cy="463.1" r="4.1" fill="url(#gM)"/><circle cx="75.7" cy="463.4" r="4" fill="url(#gM)"/><circle cx="89.9" cy="463.8" r="3.8" fill="url(#gM)"/><circle cx="82.8" cy="463.8" r="3.8" fill="url(#gM)"/><circle cx="97.1" cy="464.4" r="3.8" fill="url(#gM)"/><circle cx="111.7" cy="464.6" r="3.7" fill="url(#gM)"/><circle cx="104.4" cy="464.7" r="4.2" fill="url(#gM)"/><circle cx="119" cy="465.2" r="4.1" fill="url(#gM)"/><circle cx="126.1" cy="465.5" r="4" fill="url(#gM)"/><circle cx="132.9" cy="465.8" r="3.8" fill="url(#gM)"/><circle cx="140.7" cy="465.9" r="4.1" fill="url(#gM)"/><circle cx="147.6" cy="466.1" r="3.8" fill="url(#gM)"/><circle cx="154.5" cy="466.4" r="4.1" fill="url(#gM)"/><circle cx="161.8" cy="466.4" r="3.8" fill="url(#gM)"/><circle cx="169.1" cy="467.2" r="4.1" fill="url(#gM)"/><circle cx="183.6" cy="467.2" r="4" fill="url(#gM)"/><circle cx="176.2" cy="467.4" r="3.9" fill="url(#gM)"/><circle cx="190.2" cy="467.7" r="4.2" fill="url(#gM)"/><circle cx="197.6" cy="468.2" r="4.2" fill="url(#gM)"/><circle cx="212.2" cy="468.3" r="4.1" fill="url(#gM)"/><circle cx="205" cy="468.4" r="4" fill="url(#gM)"/><circle cx="43.7" cy="466.3" r="4" fill="url(#gM)"/><circle cx="57.4" cy="466.8" r="3.8" fill="url(#gM)"/><circle cx="64.2" cy="467" r="3.7" fill="url(#gM)"/><circle cx="50.3" cy="467" r="4.1" fill="url(#gM)"/><circle cx="78.3" cy="467.5" r="3.7" fill="url(#gM)"/><circle cx="71.3" cy="467.9" r="4.1" fill="url(#gM)"/><circle cx="85.9" cy="468.1" r="3.7" fill="url(#gM)"/><circle cx="92.7" cy="468.3" r="3.9" fill="url(#gM)"/><circle cx="99.7" cy="468.6" r="3.8" fill="url(#gM)"/><circle cx="106.7" cy="468.6" r="4.2" fill="url(#gM)"/><circle cx="113.7" cy="469.2" r="4.1" fill="url(#gM)"/><circle cx="127.9" cy="469.5" r="3.8" fill="url(#gM)"/><circle cx="120.7" cy="469.6" r="3.9" fill="url(#gM)"/><circle cx="134.5" cy="470.3" r="4.1" fill="url(#gM)"/><circle cx="141.4" cy="470.6" r="4.1" fill="url(#gM)"/><circle cx="148.5" cy="470.6" r="3.8" fill="url(#gM)"/><circle cx="155.5" cy="470.8" r="4.1" fill="url(#gM)"/><circle cx="162.5" cy="471" r="3.8" fill="url(#gM)"/><circle cx="169.6" cy="471.6" r="3.9" fill="url(#gM)"/><circle cx="177" cy="471.8" r="3.8" fill="url(#gM)"/><circle cx="184.1" cy="472.2" r="4" fill="url(#gM)"/><circle cx="190.9" cy="472.5" r="4.1" fill="url(#gM)"/><circle cx="198" cy="472.7" r="4" fill="url(#gM)"/><circle cx="204.7" cy="472.8" r="3.9" fill="url(#gM)"/><circle cx="212" cy="473" r="4.1" fill="url(#gM)"/><circle cx="40.3" cy="470.9" r="3.9" fill="url(#gM)"/><circle cx="47.1" cy="471.5" r="4" fill="url(#gM)"/><circle cx="61.8" cy="471.5" r="4.2" fill="url(#gM)"/><circle cx="54.5" cy="471.8" r="4" fill="url(#gM)"/><circle cx="68.7" cy="472" r="3.9" fill="url(#gM)"/><circle cx="75.6" cy="472.2" r="4" fill="url(#gM)"/><circle cx="83" cy="472.3" r="3.7" fill="url(#gM)"/><circle cx="90" cy="473.1" r="4.1" fill="url(#gM)"/><circle cx="97.3" cy="473.3" r="4" fill="url(#gM)"/><circle cx="111.9" cy="473.4" r="4" fill="url(#gM)"/><circle cx="104.7" cy="473.5" r="3.8" fill="url(#gM)"/><circle cx="125.8" cy="474.2" r="3.8" fill="url(#gM)"/><circle cx="118.5" cy="474.2" r="3.9" fill="url(#gM)"/><circle cx="140.1" cy="474.5" r="4.2" fill="url(#gM)"/><circle cx="147.8" cy="474.7" r="4" fill="url(#gM)"/><circle cx="133.2" cy="474.9" r="3.8" fill="url(#gM)"/><circle cx="154.5" cy="475.6" r="4" fill="url(#gM)"/><circle cx="169.1" cy="475.7" r="4.1" fill="url(#gM)"/><circle cx="162" cy="475.7" r="3.8" fill="url(#gM)"/><circle cx="183.4" cy="476.3" r="3.8" fill="url(#gM)"/><circle cx="175.8" cy="476.3" r="3.9" fill="url(#gM)"/><circle cx="190.2" cy="476.7" r="4" fill="url(#gM)"/><circle cx="205" cy="476.9" r="4.1" fill="url(#gM)"/><circle cx="197.5" cy="477.3" r="3.9" fill="url(#gM)"/><circle cx="211.8" cy="477.5" r="4.1" fill="url(#gM)"/><circle cx="43.7" cy="475.6" r="3.9" fill="url(#gM)"/><circle cx="57.5" cy="475.7" r="3.7" fill="url(#gM)"/><circle cx="50.7" cy="476" r="3.9" fill="url(#gM)"/><circle cx="71.4" cy="476.2" r="3.9" fill="url(#gM)"/><circle cx="64.5" cy="476.4" r="3.9" fill="url(#gM)"/><circle cx="78.7" cy="477" r="4.2" fill="url(#gM)"/><circle cx="85.4" cy="477.2" r="4.1" fill="url(#gM)"/><circle cx="92.3" cy="477.3" r="3.8" fill="url(#gM)"/><circle cx="99.9" cy="477.6" r="3.7" fill="url(#gM)"/><circle cx="106.9" cy="478.3" r="3.9" fill="url(#gM)"/><circle cx="113.9" cy="478.5" r="3.7" fill="url(#gM)"/><circle cx="127.8" cy="478.7" r="4" fill="url(#gM)"/><circle cx="134.7" cy="478.8" r="4.1" fill="url(#gM)"/><circle cx="120.8" cy="478.8" r="4.1" fill="url(#gM)"/><circle cx="141.5" cy="479.4" r="4.2" fill="url(#gM)"/><circle cx="149.1" cy="479.8" r="3.9" fill="url(#gM)"/><circle cx="155.6" cy="480" r="4.1" fill="url(#gM)"/><circle cx="162.9" cy="480.2" r="4.2" fill="url(#gM)"/><circle cx="176.5" cy="480.4" r="3.9" fill="url(#gM)"/><circle cx="170" cy="480.5" r="4" fill="url(#gM)"/><circle cx="183.9" cy="481.2" r="4.1" fill="url(#gM)"/><circle cx="191.1" cy="481.4" r="4" fill="url(#gM)"/><circle cx="197.9" cy="481.5" r="3.8" fill="url(#gM)"/><circle cx="204.8" cy="481.9" r="3.9" fill="url(#gM)"/><circle cx="212.1" cy="482" r="3.8" fill="url(#gM)"/><circle cx="42.2" cy="480.3" r="3.7" fill="url(#gM)"/><circle cx="49.1" cy="480.5" r="4" fill="url(#gM)"/><circle cx="56.5" cy="480.6" r="3.8" fill="url(#gM)"/><circle cx="63.8" cy="480.6" r="3.8" fill="url(#gM)"/><circle cx="77.4" cy="481.3" r="4" fill="url(#gM)"/><circle cx="70.6" cy="481.3" r="4.2" fill="url(#gM)"/><circle cx="92" cy="481.6" r="3.7" fill="url(#gM)"/><circle cx="84.9" cy="481.6" r="4.1" fill="url(#gM)"/><circle cx="99" cy="482.3" r="3.7" fill="url(#gM)"/><circle cx="105.8" cy="482.5" r="4.1" fill="url(#gM)"/><circle cx="119.9" cy="482.7" r="3.7" fill="url(#gM)"/><circle cx="112.8" cy="482.8" r="3.7" fill="url(#gM)"/><circle cx="127.5" cy="483.2" r="3.9" fill="url(#gM)"/><circle cx="134.2" cy="483.3" r="3.8" fill="url(#gM)"/><circle cx="141.6" cy="484" r="3.7" fill="url(#gM)"/><circle cx="148.7" cy="484.2" r="4" fill="url(#gM)"/><circle cx="162.3" cy="484.6" r="3.8" fill="url(#gM)"/><circle cx="155.4" cy="484.7" r="4.2" fill="url(#gM)"/><circle cx="169.8" cy="485.1" r="3.8" fill="url(#gM)"/><circle cx="190.5" cy="485.4" r="3.7" fill="url(#gM)"/><circle cx="176.8" cy="485.4" r="3.8" fill="url(#gM)"/><circle cx="184" cy="485.5" r="3.8" fill="url(#gM)"/><circle cx="197.7" cy="485.8" r="3.8" fill="url(#gM)"/><circle cx="204.8" cy="486.6" r="4" fill="url(#gM)"/><circle cx="212" cy="486.8" r="4.2" fill="url(#gM)"/><circle cx="58" cy="484.7" r="3.8" fill="url(#gM)"/><circle cx="51.1" cy="484.7" r="3.9" fill="url(#gM)"/><circle cx="65.2" cy="484.9" r="4.1" fill="url(#gM)"/><circle cx="71.9" cy="485.1" r="4.2" fill="url(#gM)"/><circle cx="78.7" cy="485.6" r="3.9" fill="url(#gM)"/><circle cx="85.9" cy="485.7" r="4" fill="url(#gM)"/><circle cx="93" cy="486.1" r="3.9" fill="url(#gM)"/><circle cx="99.7" cy="486.4" r="4.2" fill="url(#gM)"/><circle cx="114.3" cy="486.9" r="4.1" fill="url(#gM)"/><circle cx="106.9" cy="486.9" r="4" fill="url(#gM)"/><circle cx="121" cy="487.4" r="3.7" fill="url(#gM)"/><circle cx="127.6" cy="487.9" r="4" fill="url(#gM)"/><circle cx="142" cy="488" r="3.8" fill="url(#gM)"/><circle cx="134.9" cy="488.2" r="3.9" fill="url(#gM)"/><circle cx="149.2" cy="488.5" r="4.2" fill="url(#gM)"/><circle cx="155.7" cy="488.9" r="3.7" fill="url(#gM)"/><circle cx="170.1" cy="489.1" r="3.9" fill="url(#gM)"/><circle cx="177.1" cy="489.3" r="4" fill="url(#gM)"/><circle cx="163.2" cy="489.3" r="4" fill="url(#gM)"/><circle cx="184" cy="489.8" r="3.7" fill="url(#gM)"/><circle cx="191.1" cy="490.1" r="3.9" fill="url(#gM)"/><circle cx="198.1" cy="490.6" r="3.7" fill="url(#gM)"/><circle cx="205.1" cy="490.8" r="4.2" fill="url(#gM)"/><circle cx="211.9" cy="491" r="3.7" fill="url(#gM)"/><circle cx="52.4" cy="488.8" r="3.7" fill="url(#gM)"/><circle cx="60.1" cy="489.4" r="4" fill="url(#gM)"/><circle cx="73.8" cy="489.5" r="4.1" fill="url(#gM)"/><circle cx="66.8" cy="489.8" r="3.9" fill="url(#gM)"/><circle cx="80.9" cy="490.1" r="3.9" fill="url(#gM)"/><circle cx="88.3" cy="490.8" r="4.1" fill="url(#gM)"/><circle cx="102.5" cy="490.8" r="3.9" fill="url(#gM)"/><circle cx="95.6" cy="491.1" r="3.8" fill="url(#gM)"/><circle cx="109.9" cy="491.2" r="3.9" fill="url(#gM)"/><circle cx="117" cy="491.9" r="4.1" fill="url(#gM)"/><circle cx="131.3" cy="492.1" r="3.8" fill="url(#gM)"/><circle cx="124" cy="492.2" r="4" fill="url(#gM)"/><circle cx="138.7" cy="492.4" r="3.8" fill="url(#gM)"/><circle cx="145.3" cy="492.8" r="4" fill="url(#gM)"/><circle cx="152.6" cy="493.1" r="4" fill="url(#gM)"/><circle cx="159.8" cy="493.2" r="3.7" fill="url(#gM)"/><circle cx="166.8" cy="493.6" r="4" fill="url(#gM)"/><circle cx="174.2" cy="493.8" r="4.1" fill="url(#gM)"/><circle cx="181.2" cy="494.1" r="4" fill="url(#gM)"/><circle cx="188.6" cy="494.8" r="4.2" fill="url(#gM)"/><circle cx="196" cy="494.9" r="3.8" fill="url(#gM)"/><circle cx="203" cy="494.9" r="4.1" fill="url(#gM)"/><circle cx="209.7" cy="495.3" r="3.9" fill="url(#gM)"/><circle cx="68.6" cy="493.6" r="4.2" fill="url(#gM)"/><circle cx="61.5" cy="493.7" r="3.7" fill="url(#gM)"/><circle cx="75.7" cy="494.1" r="4.2" fill="url(#gM)"/><circle cx="82.9" cy="494.5" r="3.7" fill="url(#gM)"/><circle cx="90.3" cy="494.7" r="4.1" fill="url(#gM)"/><circle cx="98.2" cy="495.2" r="4.2" fill="url(#gM)"/><circle cx="105.5" cy="495.4" r="4" fill="url(#gM)"/><circle cx="112.2" cy="495.9" r="3.9" fill="url(#gM)"/><circle cx="119.9" cy="496.4" r="4.1" fill="url(#gM)"/><circle cx="134.8" cy="496.5" r="3.8" fill="url(#gM)"/><circle cx="127.4" cy="496.6" r="4.2" fill="url(#gM)"/><circle cx="149" cy="497.2" r="3.7" fill="url(#gM)"/><circle cx="142.1" cy="497.2" r="3.9" fill="url(#gM)"/><circle cx="156.2" cy="497.9" r="4.1" fill="url(#gM)"/><circle cx="164.1" cy="498" r="4.2" fill="url(#gM)"/><circle cx="170.8" cy="498.4" r="3.7" fill="url(#gM)"/><circle cx="178.3" cy="498.8" r="4.2" fill="url(#gM)"/><circle cx="185.9" cy="499.1" r="3.8" fill="url(#gM)"/><circle cx="200.4" cy="499.4" r="3.7" fill="url(#gM)"/><circle cx="193.3" cy="499.4" r="4.1" fill="url(#gM)"/><circle cx="207.8" cy="499.8" r="3.9" fill="url(#gM)"/><circle cx="70.3" cy="498" r="4.1" fill="url(#gM)"/><circle cx="63.1" cy="498.1" r="3.8" fill="url(#gM)"/><circle cx="77.3" cy="498.3" r="4" fill="url(#gM)"/><circle cx="84.6" cy="499.1" r="4.1" fill="url(#gM)"/><circle cx="98.5" cy="499.3" r="4" fill="url(#gM)"/><circle cx="91.4" cy="499.6" r="3.7" fill="url(#gM)"/><circle cx="105.5" cy="500" r="4.1" fill="url(#gM)"/><circle cx="113.1" cy="500.5" r="3.7" fill="url(#gM)"/><circle cx="120.1" cy="500.7" r="3.9" fill="url(#gM)"/><circle cx="127.1" cy="500.8" r="3.8" fill="url(#gM)"/><circle cx="134.2" cy="501.4" r="4.1" fill="url(#gM)"/><circle cx="141.6" cy="501.9" r="4" fill="url(#gM)"/><circle cx="155.7" cy="501.9" r="3.9" fill="url(#gM)"/><circle cx="148.2" cy="502.1" r="3.9" fill="url(#gM)"/><circle cx="162.7" cy="502.4" r="4.2" fill="url(#gM)"/><circle cx="169.8" cy="502.9" r="4.1" fill="url(#gM)"/><circle cx="184.5" cy="503.2" r="3.9" fill="url(#gM)"/><circle cx="177.1" cy="503.4" r="4" fill="url(#gM)"/><circle cx="191" cy="503.7" r="3.8" fill="url(#gM)"/><circle cx="198.4" cy="504.4" r="3.7" fill="url(#gM)"/><circle cx="205.6" cy="504.6" r="4.1" fill="url(#gM)"/><circle cx="43.2" cy="454.1" r="2.4" fill="url(#gK)"/><circle cx="49.8" cy="454.7" r="2.4" fill="url(#gK)"/><circle cx="78.4" cy="455.2" r="2.2" fill="url(#gK)"/><circle cx="92.5" cy="456.4" r="2.4" fill="url(#gK)"/><circle cx="120.6" cy="457.6" r="2.3" fill="url(#gK)"/><circle cx="134.7" cy="457.6" r="2.2" fill="url(#gK)"/><circle cx="127.1" cy="457.8" r="2.2" fill="url(#gK)"/><circle cx="141.2" cy="458.1" r="2.4" fill="url(#gK)"/><circle cx="148.9" cy="458.7" r="2.2" fill="url(#gK)"/><circle cx="155.9" cy="458.9" r="2.1" fill="url(#gK)"/><circle cx="170.1" cy="459.2" r="2.2" fill="url(#gK)"/><circle cx="68.3" cy="459.3" r="2.3" fill="url(#gK)"/><circle cx="60.5" cy="459.3" r="2.3" fill="url(#gK)"/><circle cx="183.6" cy="459.5" r="2.2" fill="url(#gK)"/><circle cx="176.5" cy="459.8" r="2.2" fill="url(#gK)"/><circle cx="82.5" cy="460.3" r="2.4" fill="url(#gK)"/><circle cx="198" cy="460.3" r="2.3" fill="url(#gK)"/><circle cx="190.5" cy="460.4" r="2.2" fill="url(#gK)"/><circle cx="205" cy="460.5" r="2.4" fill="url(#gK)"/><circle cx="89.8" cy="460.6" r="2.2" fill="url(#gK)"/><circle cx="97.2" cy="460.9" r="2.3" fill="url(#gK)"/><circle cx="211.8" cy="460.9" r="2.3" fill="url(#gK)"/><circle cx="111" cy="461.3" r="2.3" fill="url(#gK)"/><circle cx="118.1" cy="461.6" r="2.2" fill="url(#gK)"/><circle cx="125.6" cy="461.8" r="2.5" fill="url(#gK)"/><circle cx="132.8" cy="462.4" r="2.2" fill="url(#gK)"/><circle cx="147.2" cy="463.1" r="2.4" fill="url(#gK)"/><circle cx="154.1" cy="463.2" r="2.4" fill="url(#gK)"/><circle cx="161.9" cy="463.7" r="2.4" fill="url(#gK)"/><circle cx="168.5" cy="464.3" r="2.4" fill="url(#gK)"/><circle cx="183.1" cy="464.5" r="2.2" fill="url(#gK)"/><circle cx="190.5" cy="464.9" r="2.2" fill="url(#gK)"/><circle cx="197.8" cy="465.2" r="2.4" fill="url(#gK)"/><circle cx="204.5" cy="465.5" r="2.4" fill="url(#gK)"/><circle cx="212.3" cy="465.6" r="2.3" fill="url(#gK)"/><circle cx="44.8" cy="473.5" r="2.2" fill="url(#gK)"/><circle cx="51.7" cy="473.7" r="2.3" fill="url(#gK)"/><circle cx="59.4" cy="474.1" r="2.4" fill="url(#gK)"/><circle cx="66.7" cy="474.8" r="2.2" fill="url(#gK)"/><circle cx="88.6" cy="475.3" r="2.3" fill="url(#gK)"/><circle cx="81.1" cy="475.4" r="2.2" fill="url(#gK)"/><circle cx="103.1" cy="476.3" r="2.4" fill="url(#gK)"/><circle cx="109.8" cy="476.7" r="2.3" fill="url(#gK)"/><circle cx="117.5" cy="476.9" r="2.4" fill="url(#gK)"/><circle cx="124.8" cy="477.4" r="2.2" fill="url(#gK)"/><circle cx="131.7" cy="477.7" r="2.4" fill="url(#gK)"/><circle cx="146.6" cy="477.8" r="2.4" fill="url(#gK)"/><circle cx="61.9" cy="478.7" r="2.5" fill="url(#gK)"/><circle cx="168.6" cy="479" r="2.3" fill="url(#gK)"/><circle cx="182.5" cy="479.4" r="2.3" fill="url(#gK)"/><circle cx="69.4" cy="479.4" r="2.4" fill="url(#gK)"/><circle cx="83.5" cy="479.5" r="2.2" fill="url(#gK)"/><circle cx="175.5" cy="479.5" r="2.2" fill="url(#gK)"/><circle cx="76.2" cy="479.6" r="2.4" fill="url(#gK)"/><circle cx="90.8" cy="479.8" r="2.2" fill="url(#gK)"/><circle cx="97.8" cy="480.7" r="2.3" fill="url(#gK)"/><circle cx="197.4" cy="480.7" r="2.2" fill="url(#gK)"/><circle cx="105" cy="480.8" r="2.4" fill="url(#gK)"/><circle cx="204.4" cy="480.9" r="2.4" fill="url(#gK)"/><circle cx="112" cy="481" r="2.2" fill="url(#gK)"/><circle cx="212" cy="481.2" r="2.4" fill="url(#gK)"/><circle cx="119.5" cy="481.7" r="2.2" fill="url(#gK)"/><circle cx="126.8" cy="482.3" r="2.5" fill="url(#gK)"/><circle cx="140.7" cy="483.1" r="2.4" fill="url(#gK)"/><circle cx="155.1" cy="483.7" r="2.4" fill="url(#gK)"/><circle cx="169.5" cy="484.5" r="2.3" fill="url(#gK)"/><circle cx="176.3" cy="485" r="2.3" fill="url(#gK)"/><circle cx="183.7" cy="485.2" r="2.3" fill="url(#gK)"/><circle cx="190.7" cy="485.4" r="2.2" fill="url(#gK)"/><circle cx="197.5" cy="485.8" r="2.4" fill="url(#gK)"/><circle cx="204.9" cy="485.8" r="2.4" fill="url(#gK)"/><circle cx="211.6" cy="486.7" r="2.4" fill="url(#gK)"/></g>
<rect x="223.2" y="332.7" width="134.4" height="1" fill="url(#blueline)"/>
<rect x="221" y="356.6" width="136.6" height="1" fill="url(#blueline2)"/>
<rect x="224.4" y="460.6" width="134.1" height="1" fill="url(#blueline)"/>
<rect x="222" y="491" width="135" height="1" fill="url(#blueline2)"/>
<text x="290.4" y="342" font-size="8.7" text-anchor="middle" fill="#333" textLength="104.8" lengthAdjust="spacingAndGlyphs">Transition metal oxide surface</text>
<text x="289.7" y="352.8" font-size="8.7" text-anchor="middle" fill="#333" textLength="77.3" lengthAdjust="spacingAndGlyphs">(redox-active centres)</text>
<text x="258.7" y="411.9" font-size="8.7" text-anchor="start" fill="#333" textLength="63.8" lengthAdjust="spacingAndGlyphs">Intercalated water</text>
<text x="258.7" y="432.8" font-size="8.7" text-anchor="start" fill="#333" textLength="46.5" lengthAdjust="spacingAndGlyphs">‘Fast’ protons</text>
<text x="291.1" y="473.7" font-size="8.7" text-anchor="middle" fill="#333" textLength="84.4" lengthAdjust="spacingAndGlyphs">Conductive carbide core</text>
<text x="290.6" y="484.5" font-size="8.7" text-anchor="middle" fill="#333" textLength="80.2" lengthAdjust="spacingAndGlyphs">(rapid electron supply)</text>
<path d="M255.4 409.7Q236 396 206 410.2" stroke="#4a7ab8" stroke-width="0.8" fill="none"/>
<path d="M209 407.3L203.5 411.3L209.8 412.3" stroke="#4a7ab8" stroke-width="0.8" fill="none"/>
<path d="M257 430.3Q236 442 213.8 430.6" stroke="#4a7ab8" stroke-width="0.8" fill="none"/>
<path d="M214.6 434L211.3 429.3L217.2 428.7" stroke="#4a7ab8" stroke-width="0.8" fill="none"/>
<circle cx="247.3" cy="505.6" r="3.4" fill="#e8d468" stroke="#a88a10" stroke-width="1.8"/>
<text x="255.7" y="508.8" font-size="8.8" text-anchor="start" fill="#2a2a2a">M</text>
<circle cx="276.7" cy="505.6" r="3.4" fill="#8a8a8a" stroke="#0a0a0a" stroke-width="1.8"/>
<text x="285.1" y="508.8" font-size="8.8" text-anchor="start" fill="#2a2a2a">C</text>
<circle cx="304.5" cy="505.6" r="3.4" fill="#ff7a7a" stroke="#d80c0c" stroke-width="1.8"/>
<text x="312.9" y="508.8" font-size="8.8" text-anchor="start" fill="#2a2a2a">O</text>
<circle cx="334" cy="505.6" r="3.4" fill="#ffffff" stroke="#b8b8b8" stroke-width="1.8"/>
<text x="342.4" y="508.8" font-size="8.8" text-anchor="start" fill="#2a2a2a">H</text>
</svg></body></html>
